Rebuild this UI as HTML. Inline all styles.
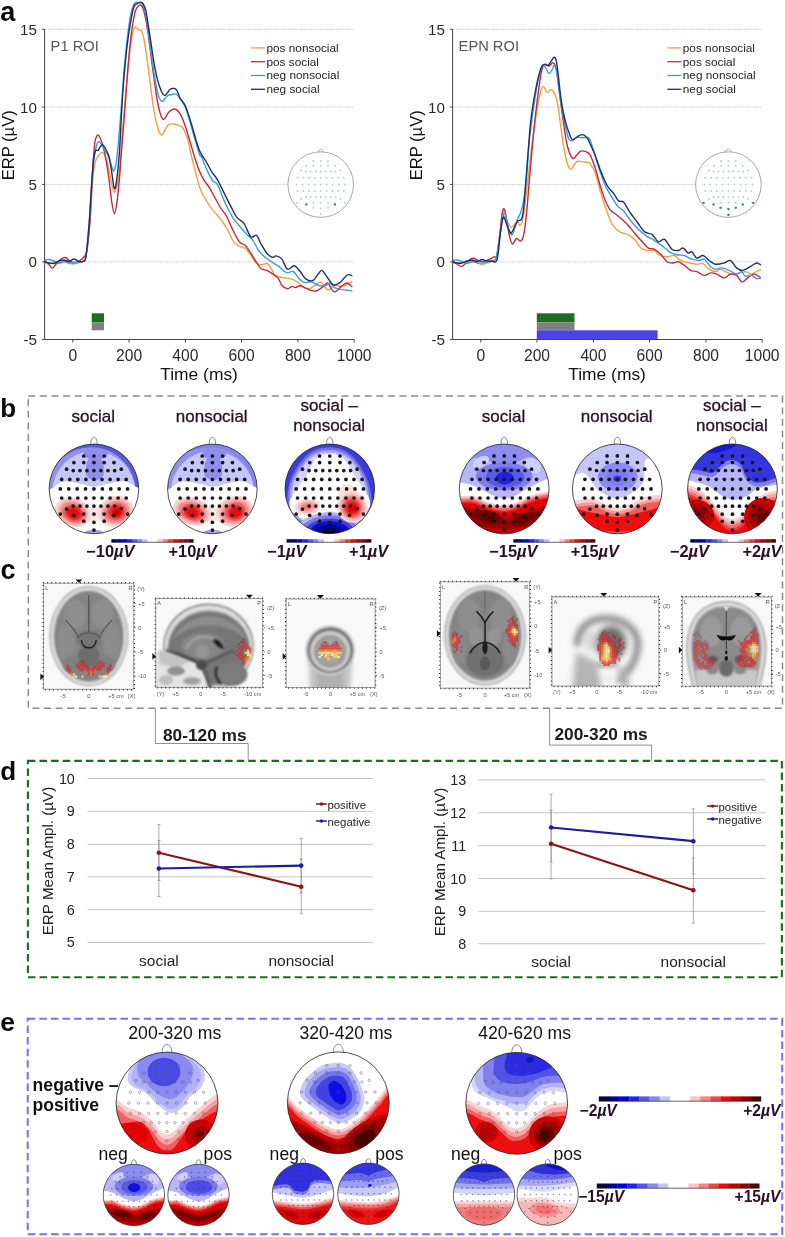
<!DOCTYPE html>
<html lang="en">
<head>
<meta charset="utf-8">
<title>Figure</title>
<style>
html,body{margin:0;padding:0;background:#fff;}
body{width:785px;height:1237px;overflow:hidden;}
svg{display:block;font-family:"Liberation Sans",sans-serif;}
</style>
</head>
<body>
<svg width="785" height="1237" viewBox="0 0 785 1237">
<rect width="785" height="1237" fill="#ffffff"/>
<g id="panel-a">
<text x="0.3" y="21" font-size="27" font-weight="bold" fill="#0a0a0a">a</text>
<line x1="44.6" y1="29.3" x2="354.20000000000005" y2="29.3" stroke="#b8b8c8" stroke-width="0.9" stroke-dasharray="1 0.8"/>
<line x1="44.6" y1="107" x2="354.20000000000005" y2="107" stroke="#b8b8c8" stroke-width="0.9" stroke-dasharray="1 0.8"/>
<line x1="44.6" y1="184.4" x2="354.20000000000005" y2="184.4" stroke="#b8b8c8" stroke-width="0.9" stroke-dasharray="1 0.8"/>
<line x1="44.6" y1="261.9" x2="354.20000000000005" y2="261.9" stroke="#b8b8c8" stroke-width="0.9" stroke-dasharray="1 0.8"/>
<rect x="91.7" y="313.3" width="12.3" height="8.9" fill="#1e6e22"/>
<rect x="91.7" y="322.2" width="12.3" height="8.1" fill="#808080"/>
<path d="M44.5,262.5 C45.25,262.75 47.42,264.08 49,264 C50.58,263.92 52.33,262.08 54,262 C55.67,261.92 57.33,263.5 59,263.5 C60.67,263.5 62.33,262 64,262 C65.67,262 67.33,263.17 69,263.5 C70.67,263.83 72.33,264.25 74,264 C75.67,263.75 77.5,262.5 79,262 C80.5,261.5 81.85,262.18 83,261 C84.15,259.82 84.75,261.35 85.9,254.9 C87.05,248.45 88.78,234.53 89.9,222.3 C91.02,210.07 91.75,191.35 92.6,181.5 C93.45,171.65 94.08,167.43 95,163.2 C95.92,158.97 96.9,157.87 98.1,156.1 C99.3,154.33 101.02,152.6 102.2,152.6 C103.38,152.6 104.18,153.65 105.2,156.1 C106.22,158.55 107.28,163.07 108.3,167.3 C109.32,171.53 110.28,177.37 111.3,181.5 C112.32,185.63 113.45,191.42 114.4,192.1 C115.35,192.78 116.13,189.28 117,185.6 C117.87,181.92 118.67,179.17 119.6,170 C120.53,160.83 121.53,143.93 122.6,130.6 C123.67,117.27 124.77,103.43 126,90 C127.23,76.57 128.83,59.67 130,50 C131.17,40.33 132.08,35.85 133,32 C133.92,28.15 134.58,27.23 135.5,26.9 C136.42,26.57 137.48,29.32 138.5,30 C139.52,30.68 140.6,29 141.6,31 C142.6,33 143.32,35.28 144.5,42 C145.68,48.72 147.15,59.97 148.7,71.3 C150.25,82.63 152.17,100.22 153.8,110 C155.43,119.78 157.13,125.83 158.5,130 C159.87,134.17 160.83,135.17 162,135 C163.17,134.83 164.32,130.78 165.5,129 C166.68,127.22 167.48,125.08 169.1,124.3 C170.72,123.52 173.38,124.02 175.2,124.3 C177.02,124.58 178.63,125.25 180,126 C181.37,126.75 182.15,126.7 183.4,128.8 C184.65,130.9 186.22,134.3 187.5,138.6 C188.78,142.9 189.73,148.88 191.1,154.6 C192.47,160.32 194.17,167.17 195.7,172.9 C197.23,178.63 198.77,184.78 200.3,189 C201.83,193.22 203.18,195.15 204.9,198.2 C206.62,201.25 208.68,204.63 210.6,207.3 C212.52,209.97 214.48,211.9 216.4,214.2 C218.32,216.5 220.2,218.42 222.1,221.1 C224,223.78 225.88,226.87 227.8,230.3 C229.72,233.73 231.68,239.03 233.6,241.7 C235.52,244.37 237.58,245.33 239.3,246.3 C241.02,247.27 242.18,246.35 243.9,247.5 C245.62,248.65 247.68,250.72 249.6,253.2 C251.52,255.68 253.48,260.48 255.4,262.4 C257.32,264.32 259.2,264.52 261.1,264.7 C263,264.88 265.27,263.13 266.8,263.5 C268.33,263.87 268.97,264.98 270.3,266.9 C271.63,268.82 273.08,273.27 274.8,275 C276.52,276.73 278.68,276.8 280.6,277.3 C282.52,277.8 284.2,277.62 286.3,278 C288.4,278.38 291.1,278.77 293.2,279.6 C295.3,280.43 297.18,281.75 298.9,283 C300.62,284.25 301.78,286.15 303.5,287.1 C305.22,288.05 307.28,289 309.2,288.7 C311.12,288.4 313.08,286.43 315,285.3 C316.92,284.17 318.98,281.52 320.7,281.9 C322.42,282.28 323.97,286.27 325.3,287.6 C326.63,288.93 327.17,290.28 328.7,289.9 C330.23,289.52 332.4,285.88 334.5,285.3 C336.6,284.72 339.02,286.6 341.3,286.4 C343.58,286.2 346.37,284.93 348.2,284.1 C350.03,283.27 351.62,281.85 352.3,281.4" fill="none" stroke="#f0a040" stroke-width="1.4" stroke-linejoin="round"/>
<path d="M44.5,261 C45.08,261.33 46.72,261.83 48,263 C49.28,264.17 50.7,268 52.2,268 C53.7,268 55.53,264.5 57,263 C58.47,261.5 59.58,259.92 61,259 C62.42,258.08 64,257.17 65.5,257.5 C67,257.83 68.58,260.17 70,261 C71.42,261.83 72.5,262.5 74,262.5 C75.5,262.5 77.37,261.92 79,261 C80.63,260.08 82.48,258.7 83.8,257 C85.12,255.3 85.88,256.58 86.9,250.8 C87.92,245.02 89.05,233.85 89.9,222.3 C90.75,210.75 91.32,193.38 92,181.5 C92.68,169.62 93.43,157.97 94,151 C94.57,144.03 94.78,142.35 95.4,139.7 C96.02,137.05 96.92,135.43 97.7,135.1 C98.48,134.77 99.18,135.73 100.1,137.7 C101.02,139.67 102.18,143 103.2,146.9 C104.22,150.8 105.18,155.33 106.2,161.1 C107.22,166.87 108.38,174.7 109.3,181.5 C110.22,188.3 110.85,196.53 111.7,201.9 C112.55,207.27 113.52,213.7 114.4,213.7 C115.28,213.7 116.15,207.93 117,201.9 C117.85,195.87 118.75,185.98 119.5,177.5 C120.25,169.02 120.68,161.25 121.5,151 C122.32,140.75 123.08,132.67 124.4,116 C125.72,99.33 127.72,67.95 129.4,51 C131.08,34.05 132.8,21.95 134.5,14.3 C136.2,6.65 138.08,5.78 139.6,5.1 C141.12,4.42 142.25,5.95 143.6,10.2 C144.95,14.45 146.17,20.75 147.7,30.6 C149.23,40.45 151.1,57.07 152.8,69.3 C154.5,81.53 156.2,95.68 157.9,104 C159.6,112.32 161.13,117.92 163,119.2 C164.87,120.48 167.13,113.4 169.1,111.7 C171.07,110 172.93,108.6 174.8,109 C176.67,109.4 178.53,111.2 180.3,114.1 C182.07,117 183.53,120.95 185.4,126.4 C187.27,131.85 189.82,141.2 191.5,146.8 C193.18,152.4 194.22,156.03 195.5,160 C196.78,163.97 197.82,167.3 199.2,170.6 C200.58,173.9 202.08,176.93 203.8,179.8 C205.52,182.67 207.6,184.73 209.5,187.8 C211.4,190.87 213.28,194.75 215.2,198.2 C217.12,201.65 219.08,205.45 221,208.5 C222.92,211.55 224.8,213.07 226.7,216.5 C228.6,219.93 230.3,224.9 232.4,229.1 C234.5,233.3 237.2,239.02 239.3,241.7 C241.4,244.38 243.08,243.28 245,245.2 C246.92,247.12 248.88,250.33 250.8,253.2 C252.72,256.07 254.78,259.8 256.5,262.4 C258.22,265 259.38,267.47 261.1,268.8 C262.82,270.13 264.9,269.57 266.8,270.4 C268.7,271.23 270.58,272.47 272.5,273.8 C274.42,275.13 276.77,276.48 278.3,278.4 C279.83,280.32 280.17,283.58 281.7,285.3 C283.23,287.02 285.78,288.52 287.5,288.7 C289.22,288.88 290.67,286.58 292,286.4 C293.33,286.22 294.15,287.72 295.5,287.6 C296.85,287.48 298.57,285.7 300.1,285.7 C301.63,285.7 302.98,286.83 304.7,287.6 C306.42,288.37 308.5,289.73 310.4,290.3 C312.3,290.87 314.18,291.45 316.1,291 C318.02,290.55 319.98,288.93 321.9,287.6 C323.82,286.27 325.88,282.55 327.6,283 C329.32,283.45 330.87,288.85 332.2,290.3 C333.53,291.75 334.08,292.35 335.6,291.7 C337.12,291.05 339.38,287.85 341.3,286.4 C343.22,284.95 345.27,282.88 347.1,283 C348.93,283.12 351.43,286.42 352.3,287.1" fill="none" stroke="#c8283c" stroke-width="1.4" stroke-linejoin="round"/>
<path d="M44.5,260 C45.25,259.92 47.42,259.33 49,259.5 C50.58,259.67 52.33,260.42 54,261 C55.67,261.58 57.33,262.92 59,263 C60.67,263.08 62.33,261.58 64,261.5 C65.67,261.42 67.33,262.25 69,262.5 C70.67,262.75 72.33,263 74,263 C75.67,263 77.5,262.83 79,262.5 C80.5,262.17 81.85,261.92 83,261 C84.15,260.08 84.85,263.45 85.9,257 C86.95,250.55 88.28,234.88 89.3,222.3 C90.32,209.72 91.12,192.72 92,181.5 C92.88,170.28 93.75,161.28 94.6,155 C95.45,148.72 96.28,146 97.1,143.8 C97.92,141.6 98.65,141.45 99.5,141.8 C100.35,142.15 101.25,144.37 102.2,145.9 C103.15,147.43 104.18,149.3 105.2,151 C106.22,152.7 107.28,153.73 108.3,156.1 C109.32,158.47 110.38,162.73 111.3,165.2 C112.22,167.67 112.95,171.58 113.8,170.9 C114.65,170.22 115.62,166.12 116.4,161.1 C117.18,156.08 117.72,149.28 118.5,140.8 C119.28,132.32 120.13,122.45 121.1,110.2 C122.07,97.95 123.27,79.33 124.3,67.3 C125.33,55.27 126.28,46.5 127.3,38 C128.32,29.5 129.37,21.8 130.4,16.3 C131.43,10.8 132.55,7.32 133.5,5 C134.45,2.68 135.1,2.8 136.1,2.4 C137.1,2 138.42,2.33 139.5,2.6 C140.58,2.87 141.68,2.43 142.6,4 C143.52,5.57 144.15,8.25 145,12 C145.85,15.75 146.4,17.63 147.7,26.5 C149,35.37 151.1,53.98 152.8,65.2 C154.5,76.42 156.37,87.75 157.9,93.8 C159.43,99.85 160.82,100.72 162,101.5 C163.18,102.28 163.98,99.52 165,98.5 C166.02,97.48 166.93,96.05 168.1,95.4 C169.27,94.75 170.65,94.8 172,94.6 C173.35,94.4 174.65,93.32 176.2,94.2 C177.75,95.08 179.6,97.27 181.3,99.9 C183,102.53 184.35,104.23 186.4,110 C188.45,115.77 191.38,127.02 193.6,134.5 C195.82,141.98 198.38,151.17 199.7,154.9 C201.02,158.63 200.25,154.28 201.5,156.9 C202.75,159.52 205.3,166.58 207.2,170.6 C209.1,174.62 211.18,178.7 212.9,181 C214.62,183.3 215.97,181.92 217.5,184.4 C219.03,186.88 220.38,191.88 222.1,195.9 C223.82,199.92 225.88,204.68 227.8,208.5 C229.72,212.32 231.68,215.93 233.6,218.8 C235.52,221.67 237.2,223.22 239.3,225.7 C241.4,228.18 243.9,231.22 246.2,233.7 C248.5,236.18 251,237.73 253.1,240.6 C255.2,243.47 256.7,248.03 258.8,250.9 C260.9,253.77 263.42,255.88 265.7,257.8 C267.98,259.72 270.22,260.88 272.5,262.4 C274.78,263.92 277.1,265.18 279.4,266.9 C281.7,268.62 284,271.93 286.3,272.7 C288.6,273.47 291.1,270.55 293.2,271.5 C295.3,272.45 296.98,276.57 298.9,278.4 C300.82,280.23 302.6,281.92 304.7,282.5 C306.8,283.08 309.22,281.43 311.5,281.9 C313.78,282.37 316.1,284.67 318.4,285.3 C320.7,285.93 323.38,286.08 325.3,285.7 C327.22,285.32 328.37,282.68 329.9,283 C331.43,283.32 332.6,286.53 334.5,287.6 C336.4,288.67 338.33,288.83 341.3,289.4 C344.27,289.97 350.47,290.73 352.3,291" fill="none" stroke="#3c9cdc" stroke-width="1.4" stroke-linejoin="round"/>
<path d="M44.5,261.5 C45.25,261.75 47.42,262.67 49,263 C50.58,263.33 52.33,263.83 54,263.5 C55.67,263.17 57.33,261.58 59,261 C60.67,260.42 62.33,259.92 64,260 C65.67,260.08 67.33,261.67 69,261.5 C70.67,261.33 72.33,259 74,259 C75.67,259 77.5,261.08 79,261.5 C80.5,261.92 81.85,262.25 83,261.5 C84.15,260.75 84.92,262.85 85.9,257 C86.88,251.15 87.98,237.97 88.9,226.4 C89.82,214.83 90.65,198.48 91.4,187.6 C92.15,176.72 92.73,167.2 93.4,161.1 C94.07,155 94.62,152.77 95.4,151 C96.18,149.23 97.32,151.18 98.1,150.5 C98.88,149.82 99.32,147.85 100.1,146.9 C100.88,145.95 101.88,144.47 102.8,144.8 C103.72,145.13 104.58,147.02 105.6,148.9 C106.62,150.78 107.95,152.7 108.9,156.1 C109.85,159.5 110.38,163.87 111.3,169.3 C112.22,174.73 113.45,187.33 114.4,188.7 C115.35,190.07 116.15,183.78 117,177.5 C117.85,171.22 118.63,163.58 119.5,151 C120.37,138.42 121.28,116.17 122.2,102 C123.12,87.83 123.98,76.88 125,66 C126.02,55.12 126.9,46.33 128.3,36.7 C129.7,27.07 131.87,13.7 133.4,8.2 C134.93,2.7 136.13,4.67 137.5,3.7 C138.87,2.73 140.23,1.32 141.6,2.4 C142.97,3.48 144.35,4.83 145.7,10.2 C147.05,15.57 148.18,25.08 149.7,34.6 C151.22,44.12 153.1,58.47 154.8,67.3 C156.5,76.13 158.27,82.92 159.9,87.6 C161.53,92.28 162.9,95.12 164.6,95.4 C166.3,95.68 168.5,90.45 170.1,89.3 C171.7,88.15 173.05,88.3 174.2,88.5 C175.35,88.7 175.98,88.77 177,90.5 C178.02,92.23 178.9,96.32 180.3,98.9 C181.7,101.48 183.53,101.77 185.4,106 C187.27,110.23 189.73,118.63 191.5,124.3 C193.27,129.97 194.53,135.33 196,140 C197.47,144.67 198.62,148.72 200.3,152.3 C201.98,155.88 204.18,158.25 206.1,161.5 C208.02,164.75 209.9,168.75 211.8,171.8 C213.7,174.85 215.4,176.17 217.5,179.8 C219.6,183.43 222.1,189.02 224.4,193.6 C226.7,198.18 229.2,203.3 231.3,207.3 C233.4,211.3 234.9,214.92 237,217.6 C239.1,220.28 241.6,220.22 243.9,223.4 C246.2,226.58 248.7,234.72 250.8,236.7 C252.9,238.68 254.78,234.08 256.5,235.3 C258.22,236.52 259.38,241.02 261.1,244 C262.82,246.98 264.9,250.98 266.8,253.2 C268.7,255.42 270.97,256.85 272.5,257.3 C274.03,257.75 274.47,255.63 276,255.9 C277.53,256.17 279.78,256.68 281.7,258.9 C283.62,261.12 285.4,268.05 287.5,269.2 C289.6,270.35 292.2,265.42 294.3,265.8 C296.4,266.18 298.18,269.32 300.1,271.5 C302.02,273.68 303.7,277.37 305.8,278.9 C307.9,280.43 310.6,281.55 312.7,280.7 C314.8,279.85 316.87,275.52 318.4,273.8 C319.93,272.08 320.57,270.02 321.9,270.4 C323.23,270.78 324.5,273.7 326.4,276.1 C328.3,278.5 331,283.73 333.3,284.8 C335.6,285.87 337.9,284.13 340.2,282.5 C342.5,280.87 345.08,276.13 347.1,275 C349.12,273.87 351.43,275.58 352.3,275.7" fill="none" stroke="#1a3068" stroke-width="1.4" stroke-linejoin="round"/>
<path d="M44.6,29.3 V339.5 H354.20000000000005" fill="none" stroke="#444" stroke-width="1"/>
<line x1="42.1" y1="29.3" x2="44.6" y2="29.3" stroke="#444" stroke-width="1"/>
<text x="37.0" y="34.8" font-size="15.2" text-anchor="end" fill="#2a2a2a">15</text>
<line x1="42.1" y1="107" x2="44.6" y2="107" stroke="#444" stroke-width="1"/>
<text x="37.0" y="112.5" font-size="15.2" text-anchor="end" fill="#2a2a2a">10</text>
<line x1="42.1" y1="184.4" x2="44.6" y2="184.4" stroke="#444" stroke-width="1"/>
<text x="37.0" y="189.9" font-size="15.2" text-anchor="end" fill="#2a2a2a">5</text>
<line x1="42.1" y1="261.9" x2="44.6" y2="261.9" stroke="#444" stroke-width="1"/>
<text x="37.0" y="267.4" font-size="15.2" text-anchor="end" fill="#2a2a2a">0</text>
<line x1="42.1" y1="339.5" x2="44.6" y2="339.5" stroke="#444" stroke-width="1"/>
<text x="37.0" y="345.0" font-size="15.2" text-anchor="end" fill="#2a2a2a">-5</text>
<line x1="72.8" y1="339.5" x2="72.8" y2="342.5" stroke="#444" stroke-width="1"/>
<text x="72.8" y="361.2" font-size="15.6" text-anchor="middle" fill="#2a2a2a">0</text>
<line x1="129.1" y1="339.5" x2="129.1" y2="342.5" stroke="#444" stroke-width="1"/>
<text x="129.1" y="361.2" font-size="15.6" text-anchor="middle" fill="#2a2a2a">200</text>
<line x1="185.3" y1="339.5" x2="185.3" y2="342.5" stroke="#444" stroke-width="1"/>
<text x="185.3" y="361.2" font-size="15.6" text-anchor="middle" fill="#2a2a2a">400</text>
<line x1="241.6" y1="339.5" x2="241.6" y2="342.5" stroke="#444" stroke-width="1"/>
<text x="241.6" y="361.2" font-size="15.6" text-anchor="middle" fill="#2a2a2a">600</text>
<line x1="297.9" y1="339.5" x2="297.9" y2="342.5" stroke="#444" stroke-width="1"/>
<text x="297.9" y="361.2" font-size="15.6" text-anchor="middle" fill="#2a2a2a">800</text>
<line x1="354.2" y1="339.5" x2="354.2" y2="342.5" stroke="#444" stroke-width="1"/>
<text x="354.2" y="361.2" font-size="15.6" text-anchor="middle" fill="#2a2a2a">1000</text>
<text x="199.1" y="379.8" font-size="17.4" text-anchor="middle" fill="#111">Time (ms)</text>
<text transform="translate(14.200000000000003,145.3) rotate(-90)" font-size="16.6" text-anchor="middle" fill="#111">ERP (µV)</text>
<text x="50.6" y="50.5" font-size="14.7" fill="#555">P1 ROI</text>
<line x1="251.0" y1="47.9" x2="265.0" y2="47.9" stroke="#f0a040" stroke-width="1.3"/>
<text x="266.5" y="51.8" font-size="11.8" fill="#222">pos nonsocial</text>
<line x1="251.0" y1="61.7" x2="265.0" y2="61.7" stroke="#c8283c" stroke-width="1.3"/>
<text x="266.5" y="65.6" font-size="11.8" fill="#222">pos social</text>
<line x1="251.0" y1="75.5" x2="265.0" y2="75.5" stroke="#3c9cdc" stroke-width="1.3"/>
<text x="266.5" y="79.4" font-size="11.8" fill="#222">neg nonsocial</text>
<line x1="251.0" y1="89.3" x2="265.0" y2="89.3" stroke="#1a3068" stroke-width="1.3"/>
<text x="266.5" y="93.2" font-size="11.8" fill="#222">neg social</text>
<path d="M317.7,152.3 Q320.7,145.8 323.7,152.3" fill="none" stroke="#999" stroke-width="0.7"/>
<circle cx="320.7" cy="184.6" r="32.8" fill="#fff" stroke="#909090" stroke-width="0.8"/>
<circle cx="313.4" cy="161.0" r="1.0" fill="#bccad4"/>
<circle cx="320.7" cy="161.0" r="1.0" fill="#bccad4"/>
<circle cx="328.0" cy="161.0" r="1.0" fill="#bccad4"/>
<circle cx="306.3" cy="165.7" r="1.0" fill="#bccad4"/>
<circle cx="313.4" cy="165.7" r="1.0" fill="#bccad4"/>
<circle cx="320.7" cy="165.7" r="1.0" fill="#bccad4"/>
<circle cx="328.0" cy="165.7" r="1.0" fill="#bccad4"/>
<circle cx="335.1" cy="165.7" r="1.0" fill="#bccad4"/>
<circle cx="301.1" cy="170.5" r="1.0" fill="#bccad4"/>
<circle cx="305.8" cy="171.4" r="1.0" fill="#bccad4"/>
<circle cx="310.7" cy="171.4" r="1.0" fill="#bccad4"/>
<circle cx="315.7" cy="171.4" r="1.0" fill="#bccad4"/>
<circle cx="320.7" cy="171.4" r="1.0" fill="#bccad4"/>
<circle cx="325.7" cy="171.4" r="1.0" fill="#bccad4"/>
<circle cx="330.7" cy="171.4" r="1.0" fill="#bccad4"/>
<circle cx="335.6" cy="171.4" r="1.0" fill="#bccad4"/>
<circle cx="340.3" cy="170.5" r="1.0" fill="#bccad4"/>
<circle cx="297.6" cy="177.8" r="1.0" fill="#bccad4"/>
<circle cx="303.3" cy="177.8" r="1.0" fill="#bccad4"/>
<circle cx="309.1" cy="177.8" r="1.0" fill="#bccad4"/>
<circle cx="314.9" cy="177.8" r="1.0" fill="#bccad4"/>
<circle cx="320.7" cy="177.8" r="1.0" fill="#bccad4"/>
<circle cx="326.5" cy="177.8" r="1.0" fill="#bccad4"/>
<circle cx="332.3" cy="177.8" r="1.0" fill="#bccad4"/>
<circle cx="338.1" cy="177.8" r="1.0" fill="#bccad4"/>
<circle cx="343.8" cy="177.8" r="1.0" fill="#bccad4"/>
<circle cx="296.6" cy="184.6" r="1.0" fill="#bccad4"/>
<circle cx="302.6" cy="184.6" r="1.0" fill="#bccad4"/>
<circle cx="308.6" cy="184.6" r="1.0" fill="#bccad4"/>
<circle cx="314.7" cy="184.6" r="1.0" fill="#bccad4"/>
<circle cx="320.7" cy="184.6" r="1.0" fill="#bccad4"/>
<circle cx="326.7" cy="184.6" r="1.0" fill="#bccad4"/>
<circle cx="332.8" cy="184.6" r="1.0" fill="#bccad4"/>
<circle cx="338.8" cy="184.6" r="1.0" fill="#bccad4"/>
<circle cx="344.8" cy="184.6" r="1.0" fill="#bccad4"/>
<circle cx="297.6" cy="191.1" r="1.0" fill="#bccad4"/>
<circle cx="303.3" cy="191.1" r="1.0" fill="#bccad4"/>
<circle cx="309.1" cy="191.1" r="1.0" fill="#bccad4"/>
<circle cx="314.9" cy="191.1" r="1.0" fill="#bccad4"/>
<circle cx="320.7" cy="191.1" r="1.0" fill="#bccad4"/>
<circle cx="326.5" cy="191.1" r="1.0" fill="#bccad4"/>
<circle cx="332.3" cy="191.1" r="1.0" fill="#bccad4"/>
<circle cx="338.1" cy="191.1" r="1.0" fill="#bccad4"/>
<circle cx="343.8" cy="191.1" r="1.0" fill="#bccad4"/>
<circle cx="305.8" cy="196.9" r="1.0" fill="#bccad4"/>
<circle cx="310.7" cy="196.9" r="1.0" fill="#bccad4"/>
<circle cx="315.7" cy="196.9" r="1.0" fill="#bccad4"/>
<circle cx="320.7" cy="196.9" r="1.0" fill="#bccad4"/>
<circle cx="325.7" cy="196.9" r="1.0" fill="#bccad4"/>
<circle cx="330.7" cy="196.9" r="1.0" fill="#bccad4"/>
<circle cx="335.6" cy="196.9" r="1.0" fill="#bccad4"/>
<circle cx="301.1" cy="199.1" r="1.0" fill="#bccad4"/>
<circle cx="340.3" cy="198.7" r="1.0" fill="#bccad4"/>
<circle cx="296.6" cy="202.7" r="1.0" fill="#bccad4"/>
<circle cx="306.2" cy="203.6" r="1.0" fill="#bccad4"/>
<circle cx="313.4" cy="202.7" r="1.0" fill="#bccad4"/>
<circle cx="320.7" cy="202.7" r="1.0" fill="#bccad4"/>
<circle cx="328.0" cy="202.7" r="1.0" fill="#bccad4"/>
<circle cx="334.8" cy="203.6" r="1.0" fill="#bccad4"/>
<circle cx="344.8" cy="202.7" r="1.0" fill="#bccad4"/>
<circle cx="313.4" cy="207.7" r="1.0" fill="#bccad4"/>
<circle cx="320.7" cy="208.5" r="1.0" fill="#bccad4"/>
<circle cx="328.0" cy="207.7" r="1.0" fill="#bccad4"/>
<circle cx="320.7" cy="214.2" r="1.0" fill="#bccad4"/>
<circle cx="306.3" cy="204.6" r="1.15" fill="#1878a8"/>
<circle cx="334.9" cy="204.6" r="1.15" fill="#1878a8"/>
<line x1="452.6" y1="29.3" x2="762.2" y2="29.3" stroke="#b8b8c8" stroke-width="0.9" stroke-dasharray="1 0.8"/>
<line x1="452.6" y1="107" x2="762.2" y2="107" stroke="#b8b8c8" stroke-width="0.9" stroke-dasharray="1 0.8"/>
<line x1="452.6" y1="184.4" x2="762.2" y2="184.4" stroke="#b8b8c8" stroke-width="0.9" stroke-dasharray="1 0.8"/>
<line x1="452.6" y1="261.9" x2="762.2" y2="261.9" stroke="#b8b8c8" stroke-width="0.9" stroke-dasharray="1 0.8"/>
<rect x="536.8" y="313.3" width="37.7" height="9.1" fill="#1e6e22"/>
<rect x="536.8" y="322.4" width="37.7" height="7.9" fill="#808080"/>
<rect x="536.8" y="330.3" width="120.8" height="8.9" fill="#4a44e8"/>
<path d="M452.5,263 C453.25,263.08 455.42,263.67 457,263.5 C458.58,263.33 460.33,262 462,262 C463.67,262 465.33,263.5 467,263.5 C468.67,263.5 470.33,262.08 472,262 C473.67,261.92 475.33,262.58 477,263 C478.67,263.42 480.33,264.5 482,264.5 C483.67,264.5 485.33,263.5 487,263 C488.67,262.5 490.5,262.17 492,261.5 C493.5,260.83 494.75,262.92 496,259 C497.25,255.08 498.5,244.17 499.5,238 C500.5,231.83 501.22,225.65 502,222 C502.78,218.35 503.15,215.9 504.2,216.1 C505.25,216.3 507.12,221.33 508.3,223.2 C509.48,225.07 510.28,227.03 511.3,227.3 C512.32,227.57 513.37,225.65 514.4,224.8 C515.43,223.95 516.48,222.13 517.5,222.2 C518.52,222.27 519.48,226.4 520.5,225.2 C521.52,224 522.58,220.77 523.6,215 C524.62,209.23 525.58,199.1 526.6,190.6 C527.62,182.1 528.68,172.8 529.7,164 C530.72,155.2 531.35,147.6 532.7,137.8 C534.05,128 536.43,113 537.8,105.2 C539.17,97.4 539.95,94.12 540.9,91 C541.85,87.88 542.48,86.23 543.5,86.5 C544.52,86.77 545.73,92.1 547,92.6 C548.27,93.1 549.73,89.1 551.1,89.5 C552.47,89.9 554.02,92.03 555.2,95 C556.38,97.97 557.02,100.17 558.2,107.3 C559.38,114.43 560.93,128.97 562.3,137.8 C563.67,146.63 565.03,155.03 566.4,160.3 C567.77,165.57 569.15,168.73 570.5,169.4 C571.85,170.07 573.32,165.65 574.5,164.3 C575.68,162.95 576.07,161.7 577.6,161.3 C579.13,160.9 581.97,161.7 583.7,161.9 C585.43,162.1 586.95,162.22 588,162.5 C589.05,162.78 588.83,161.97 590,163.6 C591.17,165.23 593.35,167.95 595,172.3 C596.65,176.65 598.05,183.48 599.9,189.7 C601.75,195.92 604.02,203.8 606.1,209.6 C608.18,215.4 610.12,220.78 612.4,224.5 C614.68,228.22 617.32,230.25 619.8,231.9 C622.28,233.55 624.82,233.15 627.3,234.4 C629.78,235.65 632.43,237.12 634.7,239.4 C636.97,241.68 638.83,246.25 640.9,248.1 C642.97,249.95 644.82,250.1 647.1,250.5 C649.38,250.9 652.52,249.67 654.6,250.5 C656.68,251.33 657.53,254.45 659.6,255.5 C661.67,256.55 664.52,256.8 667,256.8 C669.48,256.8 672.22,254.88 674.5,255.5 C676.78,256.12 678.22,259.25 680.7,260.5 C683.18,261.75 686.72,262.38 689.4,263 C692.08,263.62 694.53,264.08 696.8,264.2 C699.07,264.32 700.93,262.87 703,263.7 C705.07,264.53 707.13,267.87 709.2,269.2 C711.27,270.53 713.53,271.7 715.4,271.7 C717.27,271.7 718.73,269.2 720.4,269.2 C722.07,269.2 723.33,270.88 725.4,271.7 C727.47,272.52 730.53,273.9 732.8,274.1 C735.07,274.3 736.92,273.3 739,272.9 C741.08,272.5 743.22,271.5 745.3,271.7 C747.38,271.9 749.65,274.1 751.5,274.1 C753.35,274.1 754.83,272.43 756.4,271.7 C757.97,270.97 760.15,270.03 760.9,269.7" fill="none" stroke="#f0a040" stroke-width="1.4" stroke-linejoin="round"/>
<path d="M452.5,261 C453.25,261.5 455.52,263.1 457,264 C458.48,264.9 459.9,266.57 461.4,266.4 C462.9,266.23 464.57,264.15 466,263 C467.43,261.85 468.73,260.3 470,259.5 C471.27,258.7 472.27,258.03 473.6,258.2 C474.93,258.37 476.43,259.95 478,260.5 C479.57,261.05 481.33,261.58 483,261.5 C484.67,261.42 486.17,260.78 488,260 C489.83,259.22 492.5,257.5 494,256.8 C495.5,256.1 495.98,260.05 497,255.8 C498.02,251.55 499.23,238.43 500.1,231.3 C500.97,224.17 501.52,216.73 502.2,213 C502.88,209.27 503.53,208.22 504.2,208.9 C504.87,209.58 505.35,212.68 506.2,217.1 C507.05,221.52 508.27,230.92 509.3,235.4 C510.33,239.88 511.22,243.48 512.4,244 C513.58,244.52 515.05,238.98 516.4,238.5 C517.75,238.02 519.3,241.62 520.5,241.1 C521.7,240.58 522.58,240.08 523.6,235.4 C524.62,230.72 525.58,222.9 526.6,213 C527.62,203.1 528.33,191.25 529.7,176 C531.07,160.75 533.1,137.37 534.8,121.5 C536.5,105.63 538.55,89.97 539.9,80.8 C541.25,71.63 541.95,69.28 542.9,66.5 C543.85,63.72 544.58,64.17 545.6,64.1 C546.62,64.03 547.75,66.32 549,66.1 C550.25,65.88 551.9,62.4 553.1,62.8 C554.3,63.2 555.18,63.8 556.2,68.5 C557.22,73.2 558.02,82.17 559.2,91 C560.38,99.83 561.93,112.33 563.3,121.5 C564.67,130.67 565.87,139.88 567.4,146 C568.93,152.12 570.97,156.67 572.5,158.2 C574.03,159.73 575.25,156.38 576.6,155.2 C577.95,154.02 579.08,151.68 580.6,151.1 C582.12,150.52 584.13,151.07 585.7,151.7 C587.27,152.33 588.45,152.3 590,154.9 C591.55,157.5 593.35,162.33 595,167.3 C596.65,172.27 598.25,179.32 599.9,184.7 C601.55,190.08 603.23,195.45 604.9,199.6 C606.57,203.75 608.03,207.12 609.9,209.6 C611.77,212.08 614.03,212.85 616.1,214.5 C618.17,216.15 620.23,217.63 622.3,219.5 C624.37,221.37 626.43,223.42 628.5,225.7 C630.57,227.98 632.42,230.52 634.7,233.2 C636.98,235.88 639.92,239.32 642.2,241.8 C644.48,244.28 646.33,246.85 648.4,248.1 C650.47,249.35 652.53,248.27 654.6,249.3 C656.67,250.33 658.73,252.23 660.8,254.3 C662.87,256.37 664.93,260.25 667,261.7 C669.07,263.15 671.33,263 673.2,263 C675.07,263 676.33,261.3 678.2,261.7 C680.07,262.1 682.33,263.95 684.4,265.4 C686.47,266.85 688.53,269.35 690.6,270.4 C692.67,271.45 694.52,270.87 696.8,271.7 C699.08,272.53 702.02,275.2 704.3,275.4 C706.58,275.6 708.43,273.12 710.5,272.9 C712.57,272.68 714.43,273.27 716.7,274.1 C718.97,274.93 721.82,277.9 724.1,277.9 C726.38,277.9 728.32,274.52 730.4,274.1 C732.48,273.68 734.67,274.07 736.6,275.4 C738.53,276.73 740.15,281.68 742,282.1 C743.85,282.52 745.7,279.23 747.7,277.9 C749.7,276.57 751.8,274.1 754,274.1 C756.2,274.1 759.75,277.27 760.9,277.9" fill="none" stroke="#c8283c" stroke-width="1.4" stroke-linejoin="round"/>
<path d="M452.5,260.5 C453.25,260.42 455.42,259.83 457,260 C458.58,260.17 460.33,261 462,261.5 C463.67,262 465.33,263 467,263 C468.67,263 470.33,261.58 472,261.5 C473.67,261.42 475.33,262.25 477,262.5 C478.67,262.75 480.33,263.08 482,263 C483.67,262.92 485.33,262.42 487,262 C488.67,261.58 490.5,261.17 492,260.5 C493.5,259.83 494.7,262.08 496,258 C497.3,253.92 498.73,242.5 499.8,236 C500.87,229.5 501.57,222.77 502.4,219 C503.23,215.23 503.82,212.02 504.8,213.4 C505.78,214.78 507.15,223.7 508.3,227.3 C509.45,230.9 510.68,234.67 511.7,235 C512.72,235.33 513.43,231.95 514.4,229.3 C515.37,226.65 516.48,221.82 517.5,219.1 C518.52,216.38 519.48,216.05 520.5,213 C521.52,209.95 522.58,206.92 523.6,200.8 C524.62,194.68 525.58,186.8 526.6,176.3 C527.62,165.8 528.33,150.67 529.7,137.8 C531.07,124.93 533.1,109.97 534.8,99.1 C536.5,88.23 538.55,78.2 539.9,72.6 C541.25,67 541.88,66.18 542.9,65.5 C543.92,64.82 544.98,67.15 546,68.5 C547.02,69.85 547.98,73.42 549,73.6 C550.02,73.78 551.17,70.95 552.1,69.6 C553.03,68.25 553.75,64.65 554.6,65.5 C555.45,66.35 556.25,69.1 557.2,74.7 C558.15,80.3 559.12,91.3 560.3,99.1 C561.48,106.9 562.95,115.05 564.3,121.5 C565.65,127.95 567.2,134.57 568.4,137.8 C569.6,141.03 570.13,140.97 571.5,140.9 C572.87,140.83 574.73,137.92 576.6,137.4 C578.47,136.88 580.83,137.8 582.7,137.8 C584.57,137.8 586.58,137.03 587.8,137.4 C589.02,137.77 588.97,137.57 590,140 C591.03,142.43 592.55,147.45 594,152 C595.45,156.55 596.88,161.85 598.7,167.3 C600.52,172.75 602.83,179.93 604.9,184.7 C606.97,189.47 609.03,192.38 611.1,195.9 C613.17,199.42 615.23,203.32 617.3,205.8 C619.37,208.28 621.43,208.52 623.5,210.8 C625.57,213.08 627.42,216.6 629.7,219.5 C631.98,222.4 634.5,225.52 637.2,228.2 C639.9,230.88 643,233.53 645.9,235.6 C648.8,237.67 651.92,238.93 654.6,240.6 C657.28,242.27 659.52,243.73 662,245.6 C664.48,247.47 667.02,250.27 669.5,251.8 C671.98,253.33 674.42,254.18 676.9,254.8 C679.38,255.42 681.92,254.77 684.4,255.5 C686.88,256.23 689.32,258.37 691.8,259.2 C694.28,260.03 697.22,260.5 699.3,260.5 C701.38,260.5 702.43,258.17 704.3,259.2 C706.17,260.23 708.65,265.03 710.5,266.7 C712.35,268.37 713.53,269 715.4,269.2 C717.27,269.4 719.42,267.7 721.7,267.9 C723.98,268.1 726.62,269.37 729.1,270.4 C731.58,271.43 734.53,273.88 736.6,274.1 C738.67,274.32 740.05,271.37 741.5,271.7 C742.95,272.03 743.63,275.48 745.3,276.1 C746.97,276.72 749.65,274.98 751.5,275.4 C753.35,275.82 754.83,278.18 756.4,278.6 C757.97,279.02 760.15,278.02 760.9,277.9" fill="none" stroke="#3c9cdc" stroke-width="1.4" stroke-linejoin="round"/>
<path d="M452.5,261.5 C453.25,261.75 455.42,262.75 457,263 C458.58,263.25 460.33,263.33 462,263 C463.67,262.67 465.33,261.5 467,261 C468.67,260.5 470.33,259.92 472,260 C473.67,260.08 475.33,261.58 477,261.5 C478.67,261.42 480.33,259.58 482,259.5 C483.67,259.42 485.33,260.75 487,261 C488.67,261.25 490.33,261.18 492,261 C493.67,260.82 495.65,264.17 497,259.9 C498.35,255.63 499.23,241.87 500.1,235.4 C500.97,228.93 501.58,224.15 502.2,221.1 C502.82,218.05 503.13,216.75 503.8,217.1 C504.47,217.45 505.28,220.83 506.2,223.2 C507.12,225.57 508.45,229.67 509.3,231.3 C510.15,232.93 510.45,233.67 511.3,233 C512.15,232.33 513.37,229.28 514.4,227.3 C515.43,225.32 516.32,222.47 517.5,221.1 C518.68,219.73 520.48,221.13 521.5,219.1 C522.52,217.07 522.75,216.75 523.6,208.9 C524.45,201.05 525.42,186.57 526.6,172 C527.78,157.43 529.17,135.35 530.7,121.5 C532.23,107.65 534.1,97.73 535.8,88.9 C537.5,80.07 539.53,72.57 540.9,68.5 C542.27,64.43 542.82,65 544,64.5 C545.18,64 546.82,66.02 548,65.5 C549.18,64.98 550.08,62.77 551.1,61.4 C552.12,60.03 553.25,57.47 554.1,57.3 C554.95,57.13 555.52,57.5 556.2,60.4 C556.88,63.3 557.35,67.92 558.2,74.7 C559.05,81.48 560.1,93.3 561.3,101.1 C562.5,108.9 564.05,116.05 565.4,121.5 C566.75,126.95 568.22,130.73 569.4,133.8 C570.58,136.87 570.97,139.57 572.5,139.9 C574.03,140.23 576.73,136.65 578.6,135.8 C580.47,134.95 582.17,134.28 583.7,134.8 C585.23,135.32 586.75,137.42 587.8,138.9 C588.85,140.38 588.8,141.03 590,143.7 C591.2,146.37 593.13,150.13 595,154.9 C596.87,159.67 599.13,167.12 601.2,172.3 C603.27,177.48 605.33,182.48 607.4,186 C609.47,189.52 611.73,190.92 613.6,193.4 C615.47,195.88 616.95,199.45 618.6,200.9 C620.25,202.35 621.65,200.25 623.5,202.1 C625.35,203.95 627.42,208.68 629.7,212 C631.98,215.32 634.7,218.68 637.2,222 C639.7,225.32 642.22,229.83 644.7,231.9 C647.18,233.97 649.83,232.75 652.1,234.4 C654.37,236.05 656.23,240.97 658.3,241.8 C660.37,242.63 662.22,238.15 664.5,239.4 C666.78,240.65 669.72,247.45 672,249.3 C674.28,251.15 676.33,250.7 678.2,250.5 C680.07,250.3 681.55,247.68 683.2,248.1 C684.85,248.52 686.67,252.38 688.1,253 C689.53,253.62 690.35,250.97 691.8,251.8 C693.25,252.63 694.93,257.38 696.8,258 C698.67,258.62 700.93,255.08 703,255.5 C705.07,255.92 707.13,259.05 709.2,260.5 C711.27,261.95 712.92,263.78 715.4,264.2 C717.88,264.62 721.6,263.62 724.1,263 C726.6,262.38 728.32,259.68 730.4,260.5 C732.48,261.32 734.53,266.25 736.6,267.9 C738.67,269.55 740.53,270.6 742.8,270.4 C745.07,270.2 747.93,267.93 750.2,266.7 C752.47,265.47 754.62,263.28 756.4,263 C758.18,262.72 760.15,264.67 760.9,265" fill="none" stroke="#1a3068" stroke-width="1.4" stroke-linejoin="round"/>
<path d="M452.6,29.3 V339.5 H762.2" fill="none" stroke="#444" stroke-width="1"/>
<line x1="450.1" y1="29.3" x2="452.6" y2="29.3" stroke="#444" stroke-width="1"/>
<text x="445.0" y="34.8" font-size="15.2" text-anchor="end" fill="#2a2a2a">15</text>
<line x1="450.1" y1="107" x2="452.6" y2="107" stroke="#444" stroke-width="1"/>
<text x="445.0" y="112.5" font-size="15.2" text-anchor="end" fill="#2a2a2a">10</text>
<line x1="450.1" y1="184.4" x2="452.6" y2="184.4" stroke="#444" stroke-width="1"/>
<text x="445.0" y="189.9" font-size="15.2" text-anchor="end" fill="#2a2a2a">5</text>
<line x1="450.1" y1="261.9" x2="452.6" y2="261.9" stroke="#444" stroke-width="1"/>
<text x="445.0" y="267.4" font-size="15.2" text-anchor="end" fill="#2a2a2a">0</text>
<line x1="450.1" y1="339.5" x2="452.6" y2="339.5" stroke="#444" stroke-width="1"/>
<text x="445.0" y="345.0" font-size="15.2" text-anchor="end" fill="#2a2a2a">-5</text>
<line x1="480.8" y1="339.5" x2="480.8" y2="342.5" stroke="#444" stroke-width="1"/>
<text x="480.8" y="361.2" font-size="15.6" text-anchor="middle" fill="#2a2a2a">0</text>
<line x1="537.0" y1="339.5" x2="537.0" y2="342.5" stroke="#444" stroke-width="1"/>
<text x="537.0" y="361.2" font-size="15.6" text-anchor="middle" fill="#2a2a2a">200</text>
<line x1="593.4" y1="339.5" x2="593.4" y2="342.5" stroke="#444" stroke-width="1"/>
<text x="593.4" y="361.2" font-size="15.6" text-anchor="middle" fill="#2a2a2a">400</text>
<line x1="649.6" y1="339.5" x2="649.6" y2="342.5" stroke="#444" stroke-width="1"/>
<text x="649.6" y="361.2" font-size="15.6" text-anchor="middle" fill="#2a2a2a">600</text>
<line x1="706.0" y1="339.5" x2="706.0" y2="342.5" stroke="#444" stroke-width="1"/>
<text x="706.0" y="361.2" font-size="15.6" text-anchor="middle" fill="#2a2a2a">800</text>
<line x1="762.2" y1="339.5" x2="762.2" y2="342.5" stroke="#444" stroke-width="1"/>
<text x="762.2" y="361.2" font-size="15.6" text-anchor="middle" fill="#2a2a2a">1000</text>
<text x="607.1" y="379.8" font-size="17.4" text-anchor="middle" fill="#111">Time (ms)</text>
<text transform="translate(422.20000000000005,145.3) rotate(-90)" font-size="16.6" text-anchor="middle" fill="#111">ERP (µV)</text>
<text x="458.6" y="50.5" font-size="14.7" fill="#555">EPN ROI</text>
<line x1="667.3" y1="47.9" x2="681.3" y2="47.9" stroke="#f0a040" stroke-width="1.3"/>
<text x="682.8" y="51.8" font-size="11.8" fill="#222">pos nonsocial</text>
<line x1="667.3" y1="61.7" x2="681.3" y2="61.7" stroke="#c8283c" stroke-width="1.3"/>
<text x="682.8" y="65.6" font-size="11.8" fill="#222">pos social</text>
<line x1="667.3" y1="75.5" x2="681.3" y2="75.5" stroke="#3c9cdc" stroke-width="1.3"/>
<text x="682.8" y="79.4" font-size="11.8" fill="#222">neg nonsocial</text>
<line x1="667.3" y1="89.3" x2="681.3" y2="89.3" stroke="#1a3068" stroke-width="1.3"/>
<text x="682.8" y="93.2" font-size="11.8" fill="#222">neg social</text>
<path d="M725.4,152.3 Q728.4,145.8 731.4,152.3" fill="none" stroke="#999" stroke-width="0.7"/>
<circle cx="728.4" cy="184.6" r="32.8" fill="#fff" stroke="#909090" stroke-width="0.8"/>
<circle cx="721.1" cy="161.0" r="1.0" fill="#bccad4"/>
<circle cx="728.4" cy="161.0" r="1.0" fill="#bccad4"/>
<circle cx="735.7" cy="161.0" r="1.0" fill="#bccad4"/>
<circle cx="714.0" cy="165.7" r="1.0" fill="#bccad4"/>
<circle cx="721.1" cy="165.7" r="1.0" fill="#bccad4"/>
<circle cx="728.4" cy="165.7" r="1.0" fill="#bccad4"/>
<circle cx="735.7" cy="165.7" r="1.0" fill="#bccad4"/>
<circle cx="742.8" cy="165.7" r="1.0" fill="#bccad4"/>
<circle cx="708.8" cy="170.5" r="1.0" fill="#bccad4"/>
<circle cx="713.5" cy="171.4" r="1.0" fill="#bccad4"/>
<circle cx="718.4" cy="171.4" r="1.0" fill="#bccad4"/>
<circle cx="723.4" cy="171.4" r="1.0" fill="#bccad4"/>
<circle cx="728.4" cy="171.4" r="1.0" fill="#bccad4"/>
<circle cx="733.4" cy="171.4" r="1.0" fill="#bccad4"/>
<circle cx="738.4" cy="171.4" r="1.0" fill="#bccad4"/>
<circle cx="743.3" cy="171.4" r="1.0" fill="#bccad4"/>
<circle cx="748.0" cy="170.5" r="1.0" fill="#bccad4"/>
<circle cx="705.3" cy="177.8" r="1.0" fill="#bccad4"/>
<circle cx="711.0" cy="177.8" r="1.0" fill="#bccad4"/>
<circle cx="716.8" cy="177.8" r="1.0" fill="#bccad4"/>
<circle cx="722.6" cy="177.8" r="1.0" fill="#bccad4"/>
<circle cx="728.4" cy="177.8" r="1.0" fill="#bccad4"/>
<circle cx="734.2" cy="177.8" r="1.0" fill="#bccad4"/>
<circle cx="740.0" cy="177.8" r="1.0" fill="#bccad4"/>
<circle cx="745.8" cy="177.8" r="1.0" fill="#bccad4"/>
<circle cx="751.5" cy="177.8" r="1.0" fill="#bccad4"/>
<circle cx="704.3" cy="184.6" r="1.0" fill="#bccad4"/>
<circle cx="710.3" cy="184.6" r="1.0" fill="#bccad4"/>
<circle cx="716.3" cy="184.6" r="1.0" fill="#bccad4"/>
<circle cx="722.4" cy="184.6" r="1.0" fill="#bccad4"/>
<circle cx="728.4" cy="184.6" r="1.0" fill="#bccad4"/>
<circle cx="734.4" cy="184.6" r="1.0" fill="#bccad4"/>
<circle cx="740.5" cy="184.6" r="1.0" fill="#bccad4"/>
<circle cx="746.5" cy="184.6" r="1.0" fill="#bccad4"/>
<circle cx="752.5" cy="184.6" r="1.0" fill="#bccad4"/>
<circle cx="705.3" cy="191.1" r="1.0" fill="#bccad4"/>
<circle cx="711.0" cy="191.1" r="1.0" fill="#bccad4"/>
<circle cx="716.8" cy="191.1" r="1.0" fill="#bccad4"/>
<circle cx="722.6" cy="191.1" r="1.0" fill="#bccad4"/>
<circle cx="728.4" cy="191.1" r="1.0" fill="#bccad4"/>
<circle cx="734.2" cy="191.1" r="1.0" fill="#bccad4"/>
<circle cx="740.0" cy="191.1" r="1.0" fill="#bccad4"/>
<circle cx="745.8" cy="191.1" r="1.0" fill="#bccad4"/>
<circle cx="751.5" cy="191.1" r="1.0" fill="#bccad4"/>
<circle cx="713.5" cy="196.9" r="1.0" fill="#bccad4"/>
<circle cx="718.4" cy="196.9" r="1.0" fill="#bccad4"/>
<circle cx="723.4" cy="196.9" r="1.0" fill="#bccad4"/>
<circle cx="728.4" cy="196.9" r="1.0" fill="#bccad4"/>
<circle cx="733.4" cy="196.9" r="1.0" fill="#bccad4"/>
<circle cx="738.4" cy="196.9" r="1.0" fill="#bccad4"/>
<circle cx="743.3" cy="196.9" r="1.0" fill="#bccad4"/>
<circle cx="708.8" cy="199.1" r="1.0" fill="#bccad4"/>
<circle cx="748.0" cy="198.7" r="1.0" fill="#bccad4"/>
<circle cx="704.3" cy="202.7" r="1.0" fill="#bccad4"/>
<circle cx="713.9" cy="203.6" r="1.0" fill="#bccad4"/>
<circle cx="721.1" cy="202.7" r="1.0" fill="#bccad4"/>
<circle cx="728.4" cy="202.7" r="1.0" fill="#bccad4"/>
<circle cx="735.7" cy="202.7" r="1.0" fill="#bccad4"/>
<circle cx="742.5" cy="203.6" r="1.0" fill="#bccad4"/>
<circle cx="752.5" cy="202.7" r="1.0" fill="#bccad4"/>
<circle cx="721.1" cy="207.7" r="1.0" fill="#bccad4"/>
<circle cx="728.4" cy="208.5" r="1.0" fill="#bccad4"/>
<circle cx="735.7" cy="207.7" r="1.0" fill="#bccad4"/>
<circle cx="728.4" cy="214.2" r="1.0" fill="#bccad4"/>
<circle cx="703.5" cy="202.8" r="1.15" fill="#1878a8"/>
<circle cx="713.5" cy="204.6" r="1.15" fill="#1878a8"/>
<circle cx="720.4" cy="207.8" r="1.15" fill="#1878a8"/>
<circle cx="728.4" cy="209.1" r="1.15" fill="#1878a8"/>
<circle cx="735.8" cy="207.8" r="1.15" fill="#1878a8"/>
<circle cx="742.8" cy="204.6" r="1.15" fill="#1878a8"/>
<circle cx="753.2" cy="202.8" r="1.15" fill="#1878a8"/>
<circle cx="728.4" cy="215" r="1.15" fill="#1878a8"/>
</g>
<g id="panel-b">
<defs><filter id="blur0_3" x="-20%" y="-20%" width="140%" height="140%"><feGaussianBlur stdDeviation="0.3"/></filter><filter id="blur0_5" x="-20%" y="-20%" width="140%" height="140%"><feGaussianBlur stdDeviation="0.5"/></filter><filter id="blur0_8" x="-20%" y="-20%" width="140%" height="140%"><feGaussianBlur stdDeviation="0.8"/></filter><filter id="blur1_2" x="-20%" y="-20%" width="140%" height="140%"><feGaussianBlur stdDeviation="1.2"/></filter><filter id="blur2" x="-20%" y="-20%" width="140%" height="140%"><feGaussianBlur stdDeviation="2"/></filter><filter id="blur3" x="-20%" y="-20%" width="140%" height="140%"><feGaussianBlur stdDeviation="3"/></filter><filter id="blur5" x="-20%" y="-20%" width="140%" height="140%"><feGaussianBlur stdDeviation="5"/></filter></defs>
<text x="0.3" y="417" font-size="26" font-weight="bold" fill="#0a0a0a">b</text>
<text x="0.5" y="579" font-size="27" font-weight="bold" fill="#0a0a0a">c</text>
<rect x="28.3" y="396" width="754.2" height="312.3" fill="none" stroke="#8a8a8a" stroke-width="1.5" stroke-dasharray="7 4.6"/>
<text x="93.3" y="422" font-size="17.0" text-anchor="middle" font-weight="normal" font-style="normal" fill="#2a0f26" stroke="#2a0f26" stroke-width="0.3">social</text>
<text x="211.7" y="422" font-size="17.0" text-anchor="middle" font-weight="normal" font-style="normal" fill="#2a0f26" stroke="#2a0f26" stroke-width="0.3">nonsocial</text>
<text x="329.2" y="410.8" font-size="17.0" text-anchor="middle" font-weight="normal" font-style="normal" fill="#2a0f26" stroke="#2a0f26" stroke-width="0.3">social –</text>
<text x="329.2" y="431.2" font-size="17.0" text-anchor="middle" font-weight="normal" font-style="normal" fill="#2a0f26" stroke="#2a0f26" stroke-width="0.3">nonsocial</text>
<text x="503.6" y="422" font-size="17.0" text-anchor="middle" font-weight="normal" font-style="normal" fill="#2a0f26" stroke="#2a0f26" stroke-width="0.3">social</text>
<text x="616.7" y="422" font-size="17.0" text-anchor="middle" font-weight="normal" font-style="normal" fill="#2a0f26" stroke="#2a0f26" stroke-width="0.3">nonsocial</text>
<text x="731.9" y="410.8" font-size="17.0" text-anchor="middle" font-weight="normal" font-style="normal" fill="#2a0f26" stroke="#2a0f26" stroke-width="0.3">social –</text>
<text x="731.9" y="431.2" font-size="17.0" text-anchor="middle" font-weight="normal" font-style="normal" fill="#2a0f26" stroke="#2a0f26" stroke-width="0.3">nonsocial</text>
<path d="M90.65,444.7 C90.65,434.72 97.25,434.72 97.25,444.7" fill="#fff" stroke="#666" stroke-width="0.8"/>
<clipPath id="c1"><circle cx="93.95" cy="488.9" r="44.8"/></clipPath>
<circle cx="93.95" cy="488.9" r="44.8" fill="#fff"/>
<g clip-path="url(#c1)"><g filter="url(#blur0_5)"><g transform="translate(93.95,488.9) scale(44.8)">
<ellipse cx="0" cy="0" rx="1.1" ry="1.1" fill="#5a5ae0"/>
<ellipse cx="-0.06" cy="0.05" rx="0.98" ry="0.98" fill="#9090ee"/>
<ellipse cx="0" cy="0.08" rx="0.93" ry="0.93" fill="#c6c6f8"/>
<ellipse cx="0.04" cy="-0.78" rx="0.27" ry="0.13" fill="#8e8eec"/>
<ellipse cx="0.02" cy="-0.47" rx="0.2" ry="0.28" fill="#8e8eec"/>
<ellipse cx="0.02" cy="-0.35" rx="0.2" ry="0.14" fill="#8e8eec"/>
<path d="M-1.3,0.02 C-1.25,0.02 -1.1,0.05 -1,0.02 C-0.9,-0.01 -0.82,-0.14 -0.7,-0.16 C-0.58,-0.18 -0.39,-0.13 -0.27,-0.11 C-0.15,-0.09 -0.1,-0.05 0,-0.05 C0.1,-0.05 0.19,-0.09 0.3,-0.11 C0.41,-0.13 0.55,-0.18 0.67,-0.17 C0.79,-0.16 0.9,-0.05 1,-0.02 C1.1,0.01 1.25,-0.02 1.3,-0.02 L1.3,1.4 L-1.3,1.4 Z" fill="#ffffff"/>
<ellipse cx="0" cy="0.56" rx="0.42" ry="0.17" fill="#fde4e4"/>
<ellipse cx="-0.47" cy="0.52" rx="0.41" ry="0.32" fill="#fcd4d4" transform="rotate(22 -0.47 0.52)"/>
<ellipse cx="-0.47" cy="0.53" rx="0.35" ry="0.28" fill="#f9b4b4" transform="rotate(22 -0.47 0.53)"/>
<ellipse cx="-0.46" cy="0.53" rx="0.3" ry="0.23" fill="#f58a8a" transform="rotate(22 -0.46 0.53)"/>
<ellipse cx="-0.46" cy="0.54" rx="0.24" ry="0.19" fill="#f15a5a" transform="rotate(22 -0.46 0.54)"/>
<ellipse cx="-0.45" cy="0.54" rx="0.19" ry="0.15" fill="#ee2a2a" transform="rotate(22 -0.45 0.54)"/>
<ellipse cx="-0.45" cy="0.55" rx="0.13" ry="0.1" fill="#e80808" transform="rotate(22 -0.45 0.55)"/>
<ellipse cx="0.49" cy="0.5" rx="0.4" ry="0.34" fill="#fcd4d4" transform="rotate(-18 0.49 0.5)"/>
<ellipse cx="0.49" cy="0.5" rx="0.34" ry="0.29" fill="#f9b4b4" transform="rotate(-18 0.49 0.5)"/>
<ellipse cx="0.5" cy="0.51" rx="0.29" ry="0.24" fill="#f58a8a" transform="rotate(-18 0.5 0.51)"/>
<ellipse cx="0.5" cy="0.51" rx="0.23" ry="0.19" fill="#f15a5a" transform="rotate(-18 0.5 0.51)"/>
<ellipse cx="0.5" cy="0.51" rx="0.17" ry="0.15" fill="#ee2a2a" transform="rotate(-18 0.5 0.51)"/>
<ellipse cx="0.51" cy="0.52" rx="0.11" ry="0.1" fill="#e80808" transform="rotate(-18 0.51 0.52)"/>
<ellipse cx="0.51" cy="0.52" rx="0.06" ry="0.05" fill="#c80000" transform="rotate(-18 0.51 0.52)"/>
<ellipse cx="0" cy="1.02" rx="0.24" ry="0.11" fill="#a4a4f0"/>
</g></g></g>
<circle cx="93.95" cy="488.9" r="44.8" fill="none" stroke="#222" stroke-width="0.8"/>
<circle cx="83.74" cy="456.02" r="1.85" fill="#181818"/>
<circle cx="93.95" cy="456.02" r="1.85" fill="#181818"/>
<circle cx="104.16" cy="456.02" r="1.85" fill="#181818"/>
<circle cx="73.92" cy="462.58" r="1.85" fill="#181818"/>
<circle cx="83.74" cy="462.58" r="1.85" fill="#181818"/>
<circle cx="93.95" cy="462.58" r="1.85" fill="#181818"/>
<circle cx="104.16" cy="462.58" r="1.85" fill="#181818"/>
<circle cx="113.98" cy="462.58" r="1.85" fill="#181818"/>
<circle cx="66.62" cy="469.19" r="1.85" fill="#181818"/>
<circle cx="73.23" cy="470.53" r="1.85" fill="#181818"/>
<circle cx="79.95" cy="470.53" r="1.85" fill="#181818"/>
<circle cx="86.96" cy="470.53" r="1.85" fill="#181818"/>
<circle cx="93.95" cy="470.53" r="1.85" fill="#181818"/>
<circle cx="100.94" cy="470.53" r="1.85" fill="#181818"/>
<circle cx="107.95" cy="470.53" r="1.85" fill="#181818"/>
<circle cx="114.67" cy="470.53" r="1.85" fill="#181818"/>
<circle cx="121.28" cy="469.19" r="1.85" fill="#181818"/>
<circle cx="61.69" cy="479.38" r="1.85" fill="#181818"/>
<circle cx="69.76" cy="479.38" r="1.85" fill="#181818"/>
<circle cx="77.82" cy="479.38" r="1.85" fill="#181818"/>
<circle cx="85.89" cy="479.38" r="1.85" fill="#181818"/>
<circle cx="93.95" cy="479.38" r="1.85" fill="#181818"/>
<circle cx="102.01" cy="479.38" r="1.85" fill="#181818"/>
<circle cx="110.08" cy="479.38" r="1.85" fill="#181818"/>
<circle cx="118.14" cy="479.38" r="1.85" fill="#181818"/>
<circle cx="126.21" cy="479.38" r="1.85" fill="#181818"/>
<circle cx="60.35" cy="488.9" r="1.85" fill="#181818"/>
<circle cx="68.75" cy="488.9" r="1.85" fill="#181818"/>
<circle cx="77.15" cy="488.9" r="1.85" fill="#181818"/>
<circle cx="85.55" cy="488.9" r="1.85" fill="#181818"/>
<circle cx="93.95" cy="488.9" r="1.85" fill="#181818"/>
<circle cx="102.35" cy="488.9" r="1.85" fill="#181818"/>
<circle cx="110.75" cy="488.9" r="1.85" fill="#181818"/>
<circle cx="119.15" cy="488.9" r="1.85" fill="#181818"/>
<circle cx="127.55" cy="488.9" r="1.85" fill="#181818"/>
<circle cx="61.69" cy="497.99" r="1.85" fill="#181818"/>
<circle cx="69.76" cy="497.99" r="1.85" fill="#181818"/>
<circle cx="77.82" cy="497.99" r="1.85" fill="#181818"/>
<circle cx="85.89" cy="497.99" r="1.85" fill="#181818"/>
<circle cx="93.95" cy="497.99" r="1.85" fill="#181818"/>
<circle cx="102.01" cy="497.99" r="1.85" fill="#181818"/>
<circle cx="110.08" cy="497.99" r="1.85" fill="#181818"/>
<circle cx="118.14" cy="497.99" r="1.85" fill="#181818"/>
<circle cx="126.21" cy="497.99" r="1.85" fill="#181818"/>
<circle cx="73.23" cy="506.1" r="1.85" fill="#181818"/>
<circle cx="79.95" cy="506.1" r="1.85" fill="#181818"/>
<circle cx="86.96" cy="506.1" r="1.85" fill="#181818"/>
<circle cx="93.95" cy="506.1" r="1.85" fill="#181818"/>
<circle cx="100.94" cy="506.1" r="1.85" fill="#181818"/>
<circle cx="107.95" cy="506.1" r="1.85" fill="#181818"/>
<circle cx="114.67" cy="506.1" r="1.85" fill="#181818"/>
<circle cx="66.62" cy="509.06" r="1.85" fill="#181818"/>
<circle cx="121.28" cy="508.61" r="1.85" fill="#181818"/>
<circle cx="60.35" cy="514.1" r="1.85" fill="#181818"/>
<circle cx="73.79" cy="515.33" r="1.85" fill="#181818"/>
<circle cx="83.74" cy="514.1" r="1.85" fill="#181818"/>
<circle cx="93.95" cy="514.1" r="1.85" fill="#181818"/>
<circle cx="104.16" cy="514.1" r="1.85" fill="#181818"/>
<circle cx="113.66" cy="515.33" r="1.85" fill="#181818"/>
<circle cx="127.55" cy="514.1" r="1.85" fill="#181818"/>
<circle cx="83.74" cy="521.16" r="1.85" fill="#181818"/>
<circle cx="93.95" cy="522.28" r="1.85" fill="#181818"/>
<circle cx="104.16" cy="521.16" r="1.85" fill="#181818"/>
<circle cx="93.95" cy="530.12" r="1.85" fill="#181818"/>
<path d="M209.1,444.7 C209.1,434.72 215.7,434.72 215.7,444.7" fill="#fff" stroke="#666" stroke-width="0.8"/>
<clipPath id="c2"><circle cx="212.4" cy="488.9" r="44.8"/></clipPath>
<circle cx="212.4" cy="488.9" r="44.8" fill="#fff"/>
<g clip-path="url(#c2)"><g filter="url(#blur0_5)"><g transform="translate(212.4,488.9) scale(44.8)">
<ellipse cx="0" cy="0" rx="1.1" ry="1.1" fill="#8484ea"/>
<ellipse cx="-0.06" cy="0.05" rx="0.98" ry="0.98" fill="#9090ee"/>
<ellipse cx="0" cy="0.08" rx="0.93" ry="0.93" fill="#c6c6f8"/>
<ellipse cx="0.04" cy="-0.78" rx="0.27" ry="0.13" fill="#8e8eec"/>
<ellipse cx="0.02" cy="-0.47" rx="0.2" ry="0.28" fill="#8e8eec"/>
<ellipse cx="0.02" cy="-0.35" rx="0.2" ry="0.14" fill="#8e8eec"/>
<path d="M-1.3,0.02 C-1.25,0.02 -1.1,0.05 -1,0.02 C-0.9,-0.01 -0.82,-0.14 -0.7,-0.16 C-0.58,-0.18 -0.39,-0.13 -0.27,-0.11 C-0.15,-0.09 -0.1,-0.05 0,-0.05 C0.1,-0.05 0.19,-0.09 0.3,-0.11 C0.41,-0.13 0.55,-0.18 0.67,-0.17 C0.79,-0.16 0.9,-0.05 1,-0.02 C1.1,0.01 1.25,-0.02 1.3,-0.02 L1.3,1.4 L-1.3,1.4 Z" fill="#ffffff"/>
<ellipse cx="0" cy="0.56" rx="0.42" ry="0.17" fill="#fde4e4"/>
<ellipse cx="-0.45" cy="0.5" rx="0.44" ry="0.31" fill="#fcd4d4" transform="rotate(18 -0.45 0.5)"/>
<ellipse cx="-0.45" cy="0.51" rx="0.38" ry="0.27" fill="#f9b4b4" transform="rotate(18 -0.45 0.51)"/>
<ellipse cx="-0.45" cy="0.51" rx="0.32" ry="0.22" fill="#f58a8a" transform="rotate(18 -0.45 0.51)"/>
<ellipse cx="-0.45" cy="0.52" rx="0.26" ry="0.18" fill="#f15a5a" transform="rotate(18 -0.45 0.52)"/>
<ellipse cx="-0.45" cy="0.52" rx="0.19" ry="0.14" fill="#ee2a2a" transform="rotate(18 -0.45 0.52)"/>
<ellipse cx="-0.45" cy="0.53" rx="0.13" ry="0.09" fill="#e80808" transform="rotate(18 -0.45 0.53)"/>
<ellipse cx="0.5" cy="0.5" rx="0.42" ry="0.34" fill="#fcd4d4" transform="rotate(-18 0.5 0.5)"/>
<ellipse cx="0.5" cy="0.5" rx="0.36" ry="0.29" fill="#f9b4b4" transform="rotate(-18 0.5 0.5)"/>
<ellipse cx="0.51" cy="0.51" rx="0.3" ry="0.24" fill="#f58a8a" transform="rotate(-18 0.51 0.51)"/>
<ellipse cx="0.51" cy="0.51" rx="0.24" ry="0.2" fill="#f15a5a" transform="rotate(-18 0.51 0.51)"/>
<ellipse cx="0.52" cy="0.52" rx="0.18" ry="0.15" fill="#ee2a2a" transform="rotate(-18 0.52 0.52)"/>
<ellipse cx="0.52" cy="0.52" rx="0.13" ry="0.1" fill="#e80808" transform="rotate(-18 0.52 0.52)"/>
<ellipse cx="0" cy="1.02" rx="0.24" ry="0.11" fill="#a4a4f0"/>
</g></g></g>
<circle cx="212.4" cy="488.9" r="44.8" fill="none" stroke="#222" stroke-width="0.8"/>
<circle cx="202.19" cy="456.02" r="1.85" fill="#181818"/>
<circle cx="212.4" cy="456.02" r="1.85" fill="#181818"/>
<circle cx="222.61" cy="456.02" r="1.85" fill="#181818"/>
<circle cx="192.37" cy="462.58" r="1.85" fill="#181818"/>
<circle cx="202.19" cy="462.58" r="1.85" fill="#181818"/>
<circle cx="212.4" cy="462.58" r="1.85" fill="#181818"/>
<circle cx="222.61" cy="462.58" r="1.85" fill="#181818"/>
<circle cx="232.43" cy="462.58" r="1.85" fill="#181818"/>
<circle cx="185.07" cy="469.19" r="1.85" fill="#181818"/>
<circle cx="191.68" cy="470.53" r="1.85" fill="#181818"/>
<circle cx="198.4" cy="470.53" r="1.85" fill="#181818"/>
<circle cx="205.41" cy="470.53" r="1.85" fill="#181818"/>
<circle cx="212.4" cy="470.53" r="1.85" fill="#181818"/>
<circle cx="219.39" cy="470.53" r="1.85" fill="#181818"/>
<circle cx="226.4" cy="470.53" r="1.85" fill="#181818"/>
<circle cx="233.12" cy="470.53" r="1.85" fill="#181818"/>
<circle cx="239.73" cy="469.19" r="1.85" fill="#181818"/>
<circle cx="180.14" cy="479.38" r="1.85" fill="#181818"/>
<circle cx="188.21" cy="479.38" r="1.85" fill="#181818"/>
<circle cx="196.27" cy="479.38" r="1.85" fill="#181818"/>
<circle cx="204.34" cy="479.38" r="1.85" fill="#181818"/>
<circle cx="212.4" cy="479.38" r="1.85" fill="#181818"/>
<circle cx="220.46" cy="479.38" r="1.85" fill="#181818"/>
<circle cx="228.53" cy="479.38" r="1.85" fill="#181818"/>
<circle cx="236.59" cy="479.38" r="1.85" fill="#181818"/>
<circle cx="244.66" cy="479.38" r="1.85" fill="#181818"/>
<circle cx="178.8" cy="488.9" r="1.85" fill="#181818"/>
<circle cx="187.2" cy="488.9" r="1.85" fill="#181818"/>
<circle cx="195.6" cy="488.9" r="1.85" fill="#181818"/>
<circle cx="204" cy="488.9" r="1.85" fill="#181818"/>
<circle cx="212.4" cy="488.9" r="1.85" fill="#181818"/>
<circle cx="220.8" cy="488.9" r="1.85" fill="#181818"/>
<circle cx="229.2" cy="488.9" r="1.85" fill="#181818"/>
<circle cx="237.6" cy="488.9" r="1.85" fill="#181818"/>
<circle cx="246" cy="488.9" r="1.85" fill="#181818"/>
<circle cx="180.14" cy="497.99" r="1.85" fill="#181818"/>
<circle cx="188.21" cy="497.99" r="1.85" fill="#181818"/>
<circle cx="196.27" cy="497.99" r="1.85" fill="#181818"/>
<circle cx="204.34" cy="497.99" r="1.85" fill="#181818"/>
<circle cx="212.4" cy="497.99" r="1.85" fill="#181818"/>
<circle cx="220.46" cy="497.99" r="1.85" fill="#181818"/>
<circle cx="228.53" cy="497.99" r="1.85" fill="#181818"/>
<circle cx="236.59" cy="497.99" r="1.85" fill="#181818"/>
<circle cx="244.66" cy="497.99" r="1.85" fill="#181818"/>
<circle cx="191.68" cy="506.1" r="1.85" fill="#181818"/>
<circle cx="198.4" cy="506.1" r="1.85" fill="#181818"/>
<circle cx="205.41" cy="506.1" r="1.85" fill="#181818"/>
<circle cx="212.4" cy="506.1" r="1.85" fill="#181818"/>
<circle cx="219.39" cy="506.1" r="1.85" fill="#181818"/>
<circle cx="226.4" cy="506.1" r="1.85" fill="#181818"/>
<circle cx="233.12" cy="506.1" r="1.85" fill="#181818"/>
<circle cx="185.07" cy="509.06" r="1.85" fill="#181818"/>
<circle cx="239.73" cy="508.61" r="1.85" fill="#181818"/>
<circle cx="178.8" cy="514.1" r="1.85" fill="#181818"/>
<circle cx="192.24" cy="515.33" r="1.85" fill="#181818"/>
<circle cx="202.19" cy="514.1" r="1.85" fill="#181818"/>
<circle cx="212.4" cy="514.1" r="1.85" fill="#181818"/>
<circle cx="222.61" cy="514.1" r="1.85" fill="#181818"/>
<circle cx="232.11" cy="515.33" r="1.85" fill="#181818"/>
<circle cx="246" cy="514.1" r="1.85" fill="#181818"/>
<circle cx="202.19" cy="521.16" r="1.85" fill="#181818"/>
<circle cx="212.4" cy="522.28" r="1.85" fill="#181818"/>
<circle cx="222.61" cy="521.16" r="1.85" fill="#181818"/>
<circle cx="212.4" cy="530.12" r="1.85" fill="#181818"/>
<path d="M326.5,444.7 C326.5,434.72 333.1,434.72 333.1,444.7" fill="#fff" stroke="#666" stroke-width="0.8"/>
<clipPath id="c3"><circle cx="329.8" cy="488.9" r="44.8"/></clipPath>
<circle cx="329.8" cy="488.9" r="44.8" fill="#fff"/>
<g clip-path="url(#c3)"><g filter="url(#blur0_5)"><g transform="translate(329.8,488.9) scale(44.8)">
<ellipse cx="0" cy="0" rx="1.1" ry="1.1" fill="#3a3adc"/>
<path d="M0,-0.93 C0.15,-0.93 0.32,-0.89 0.45,-0.78 C0.58,-0.68 0.72,-0.46 0.8,-0.3 C0.88,-0.14 0.92,0.06 0.93,0.2 C0.94,0.34 0.94,0.45 0.88,0.55 C0.82,0.65 0.7,0.77 0.55,0.78 C0.4,0.79 0.18,0.62 0,0.62 C-0.18,0.62 -0.4,0.79 -0.55,0.78 C-0.7,0.77 -0.81,0.65 -0.88,0.55 C-0.95,0.45 -0.96,0.34 -0.95,0.2 C-0.94,0.06 -0.92,-0.13 -0.84,-0.3 C-0.76,-0.47 -0.59,-0.7 -0.45,-0.8 C-0.31,-0.91 -0.15,-0.93 0,-0.93Z" fill="#6e6ee8"/>
<path d="M0,-0.87 C0.14,-0.87 0.3,-0.83 0.43,-0.73 C0.55,-0.63 0.68,-0.43 0.76,-0.27 C0.84,-0.12 0.87,0.07 0.88,0.2 C0.9,0.34 0.9,0.44 0.84,0.54 C0.78,0.63 0.66,0.74 0.52,0.75 C0.38,0.76 0.17,0.6 0,0.6 C-0.17,0.6 -0.38,0.76 -0.52,0.75 C-0.66,0.74 -0.77,0.63 -0.84,0.54 C-0.9,0.44 -0.91,0.34 -0.9,0.2 C-0.9,0.07 -0.88,-0.11 -0.8,-0.27 C-0.72,-0.43 -0.56,-0.65 -0.43,-0.75 C-0.29,-0.85 -0.14,-0.87 0,-0.87Z" fill="#a2a2f2"/>
<path d="M0,-0.81 C0.14,-0.81 0.29,-0.77 0.41,-0.68 C0.53,-0.58 0.65,-0.39 0.72,-0.25 C0.79,-0.1 0.83,0.08 0.84,0.21 C0.85,0.33 0.85,0.43 0.79,0.52 C0.73,0.61 0.63,0.72 0.5,0.73 C0.36,0.74 0.17,0.58 0,0.58 C-0.17,0.58 -0.36,0.74 -0.5,0.73 C-0.63,0.72 -0.73,0.61 -0.79,0.52 C-0.85,0.43 -0.86,0.33 -0.85,0.21 C-0.85,0.08 -0.83,-0.1 -0.76,-0.25 C-0.68,-0.4 -0.53,-0.6 -0.41,-0.7 C-0.28,-0.79 -0.14,-0.82 0,-0.81Z" fill="#d0d0fa"/>
<path d="M0,-0.78 C0.1,-0.78 0.21,-0.76 0.3,-0.68 C0.39,-0.6 0.46,-0.43 0.55,-0.3 C0.64,-0.17 0.76,-0 0.82,0.1 C0.88,0.2 0.9,0.25 0.9,0.32 C0.9,0.39 0.88,0.46 0.8,0.52 C0.73,0.58 0.58,0.68 0.45,0.68 C0.32,0.68 0.15,0.5 0,0.5 C-0.15,0.5 -0.32,0.67 -0.45,0.68 C-0.58,0.69 -0.73,0.61 -0.8,0.55 C-0.88,0.49 -0.9,0.4 -0.9,0.32 C-0.9,0.24 -0.86,0.2 -0.8,0.1 C-0.74,-0 -0.6,-0.17 -0.52,-0.3 C-0.44,-0.43 -0.39,-0.6 -0.3,-0.68 C-0.21,-0.76 -0.1,-0.78 0,-0.78Z" fill="#ffffff"/>
<ellipse cx="0" cy="1.02" rx="0.78" ry="0.5" fill="#b4b4f6"/>
<ellipse cx="0" cy="1.02" rx="0.68" ry="0.43" fill="#7c7cec"/>
<ellipse cx="0" cy="1.03" rx="0.58" ry="0.37" fill="#4040e0"/>
<ellipse cx="0" cy="1.03" rx="0.48" ry="0.31" fill="#1010d0"/>
<ellipse cx="0" cy="1.03" rx="0.37" ry="0.24" fill="#0000a0"/>
<ellipse cx="0" cy="1.04" rx="0.27" ry="0.17" fill="#000060"/>
<ellipse cx="0" cy="1.04" rx="0.17" ry="0.11" fill="#000018"/>
<ellipse cx="-0.5" cy="0.4" rx="0.29" ry="0.18" fill="#fcd8d8" transform="rotate(-5 -0.5 0.4)"/>
<ellipse cx="-0.5" cy="0.4" rx="0.22" ry="0.14" fill="#f9b8b8" transform="rotate(-5 -0.5 0.4)"/>
<ellipse cx="-0.5" cy="0.4" rx="0.15" ry="0.1" fill="#f59494" transform="rotate(-5 -0.5 0.4)"/>
<ellipse cx="-0.5" cy="0.4" rx="0.09" ry="0.05" fill="#f27878" transform="rotate(-5 -0.5 0.4)"/>
<ellipse cx="0.4" cy="0.1" rx="0.22" ry="0.2" fill="#fde0e0" transform="rotate(20 0.4 0.1)"/>
<ellipse cx="0.5" cy="0.4" rx="0.34" ry="0.36" fill="#fcd8d8" transform="rotate(-25 0.5 0.4)"/>
<ellipse cx="0.5" cy="0.41" rx="0.29" ry="0.31" fill="#f9b4b4" transform="rotate(-25 0.5 0.41)"/>
<ellipse cx="0.5" cy="0.41" rx="0.25" ry="0.26" fill="#f58a8a" transform="rotate(-25 0.5 0.41)"/>
<ellipse cx="0.5" cy="0.42" rx="0.2" ry="0.22" fill="#f15a5a" transform="rotate(-25 0.5 0.42)"/>
<ellipse cx="0.5" cy="0.42" rx="0.16" ry="0.17" fill="#ee2a2a" transform="rotate(-25 0.5 0.42)"/>
<ellipse cx="0.5" cy="0.43" rx="0.11" ry="0.12" fill="#ea0808" transform="rotate(-25 0.5 0.43)"/>
<ellipse cx="0.5" cy="0.43" rx="0.07" ry="0.07" fill="#e00000" transform="rotate(-25 0.5 0.43)"/>
</g></g></g>
<circle cx="329.8" cy="488.9" r="44.8" fill="none" stroke="#222" stroke-width="0.8"/>
<circle cx="319.59" cy="456.02" r="1.85" fill="#181818"/>
<circle cx="329.8" cy="456.02" r="1.85" fill="#181818"/>
<circle cx="340.01" cy="456.02" r="1.85" fill="#181818"/>
<circle cx="309.77" cy="462.58" r="1.85" fill="#181818"/>
<circle cx="319.59" cy="462.58" r="1.85" fill="#181818"/>
<circle cx="329.8" cy="462.58" r="1.85" fill="#181818"/>
<circle cx="340.01" cy="462.58" r="1.85" fill="#181818"/>
<circle cx="349.83" cy="462.58" r="1.85" fill="#181818"/>
<circle cx="302.47" cy="469.19" r="1.85" fill="#181818"/>
<circle cx="309.08" cy="470.53" r="1.85" fill="#181818"/>
<circle cx="315.8" cy="470.53" r="1.85" fill="#181818"/>
<circle cx="322.81" cy="470.53" r="1.85" fill="#181818"/>
<circle cx="329.8" cy="470.53" r="1.85" fill="#181818"/>
<circle cx="336.79" cy="470.53" r="1.85" fill="#181818"/>
<circle cx="343.8" cy="470.53" r="1.85" fill="#181818"/>
<circle cx="350.52" cy="470.53" r="1.85" fill="#181818"/>
<circle cx="357.13" cy="469.19" r="1.85" fill="#181818"/>
<circle cx="297.54" cy="479.38" r="1.85" fill="#181818"/>
<circle cx="305.61" cy="479.38" r="1.85" fill="#181818"/>
<circle cx="313.67" cy="479.38" r="1.85" fill="#181818"/>
<circle cx="321.74" cy="479.38" r="1.85" fill="#181818"/>
<circle cx="329.8" cy="479.38" r="1.85" fill="#181818"/>
<circle cx="337.86" cy="479.38" r="1.85" fill="#181818"/>
<circle cx="345.93" cy="479.38" r="1.85" fill="#181818"/>
<circle cx="353.99" cy="479.38" r="1.85" fill="#181818"/>
<circle cx="362.06" cy="479.38" r="1.85" fill="#181818"/>
<circle cx="296.2" cy="488.9" r="1.85" fill="#181818"/>
<circle cx="304.6" cy="488.9" r="1.85" fill="#181818"/>
<circle cx="313" cy="488.9" r="1.85" fill="#181818"/>
<circle cx="321.4" cy="488.9" r="1.85" fill="#181818"/>
<circle cx="329.8" cy="488.9" r="1.85" fill="#181818"/>
<circle cx="338.2" cy="488.9" r="1.85" fill="#181818"/>
<circle cx="346.6" cy="488.9" r="1.85" fill="#181818"/>
<circle cx="355" cy="488.9" r="1.85" fill="#181818"/>
<circle cx="363.4" cy="488.9" r="1.85" fill="#181818"/>
<circle cx="297.54" cy="497.99" r="1.85" fill="#181818"/>
<circle cx="305.61" cy="497.99" r="1.85" fill="#181818"/>
<circle cx="313.67" cy="497.99" r="1.85" fill="#181818"/>
<circle cx="321.74" cy="497.99" r="1.85" fill="#181818"/>
<circle cx="329.8" cy="497.99" r="1.85" fill="#181818"/>
<circle cx="337.86" cy="497.99" r="1.85" fill="#181818"/>
<circle cx="345.93" cy="497.99" r="1.85" fill="#181818"/>
<circle cx="353.99" cy="497.99" r="1.85" fill="#181818"/>
<circle cx="362.06" cy="497.99" r="1.85" fill="#181818"/>
<circle cx="309.08" cy="506.1" r="1.85" fill="#181818"/>
<circle cx="315.8" cy="506.1" r="1.85" fill="#181818"/>
<circle cx="322.81" cy="506.1" r="1.85" fill="#181818"/>
<circle cx="329.8" cy="506.1" r="1.85" fill="#181818"/>
<circle cx="336.79" cy="506.1" r="1.85" fill="#181818"/>
<circle cx="343.8" cy="506.1" r="1.85" fill="#181818"/>
<circle cx="350.52" cy="506.1" r="1.85" fill="#181818"/>
<circle cx="302.47" cy="509.06" r="1.85" fill="#181818"/>
<circle cx="357.13" cy="508.61" r="1.85" fill="#181818"/>
<circle cx="296.2" cy="514.1" r="1.85" fill="#181818"/>
<circle cx="309.64" cy="515.33" r="1.85" fill="#181818"/>
<circle cx="319.59" cy="514.1" r="1.85" fill="#181818"/>
<circle cx="329.8" cy="514.1" r="1.85" fill="#181818"/>
<circle cx="340.01" cy="514.1" r="1.85" fill="#181818"/>
<circle cx="349.51" cy="515.33" r="1.85" fill="#181818"/>
<circle cx="363.4" cy="514.1" r="1.85" fill="#181818"/>
<circle cx="319.59" cy="521.16" r="1.85" fill="#181818"/>
<circle cx="329.8" cy="522.28" r="1.85" fill="#181818"/>
<circle cx="340.01" cy="521.16" r="1.85" fill="#181818"/>
<circle cx="329.8" cy="530.12" r="1.85" fill="#181818"/>
<path d="M500.9,444.6 C500.9,434.62 507.5,434.62 507.5,444.6" fill="#fff" stroke="#666" stroke-width="0.8"/>
<clipPath id="c4"><circle cx="504.2" cy="488.9" r="44.9"/></clipPath>
<circle cx="504.2" cy="488.9" r="44.9" fill="#fff"/>
<g clip-path="url(#c4)"><g filter="url(#blur0_5)"><g transform="translate(504.2,488.9) scale(44.9)">
<ellipse cx="0" cy="0" rx="1.1" ry="1.1" fill="#b6b6f8"/>
<path d="M-1.3,-0.55 C-1.25,-0.55 -1.12,-0.53 -1,-0.55 C-0.88,-0.58 -0.72,-0.69 -0.6,-0.7 C-0.48,-0.71 -0.4,-0.64 -0.3,-0.6 C-0.2,-0.56 -0.1,-0.45 0,-0.45 C0.1,-0.45 0.2,-0.56 0.3,-0.6 C0.4,-0.64 0.48,-0.72 0.6,-0.7 C0.72,-0.68 0.88,-0.53 1,-0.5 C1.12,-0.47 1.25,-0.5 1.3,-0.5 L1.3,-1.4 L-1.3,-1.4 Z" fill="#8c8cf2"/>
<ellipse cx="-0.52" cy="-0.6" rx="0.2" ry="0.11" fill="#cfcffb" transform="rotate(-30 -0.52 -0.6)"/>
<ellipse cx="0.64" cy="-0.52" rx="0.2" ry="0.15" fill="#cfcffb" transform="rotate(45 0.64 -0.52)"/>
<ellipse cx="0" cy="-0.28" rx="0.63" ry="0.31" fill="#7e7eee"/>
<ellipse cx="0.02" cy="-0.26" rx="0.43" ry="0.23" fill="#5a5ae8"/>
<ellipse cx="0.01" cy="-0.24" rx="0.2" ry="0.14" fill="#2020e0"/>
<path d="M-1.3,-0.15 C-1.25,-0.15 -1.09,-0.16 -1,-0.15 C-0.91,-0.14 -0.84,-0.12 -0.76,-0.1 C-0.68,-0.08 -0.61,-0.04 -0.53,0 C-0.45,0.04 -0.34,0.11 -0.25,0.14 C-0.16,0.18 -0.09,0.21 0,0.21 C0.09,0.21 0.18,0.18 0.26,0.14 C0.34,0.11 0.41,0.04 0.49,0 C0.57,-0.04 0.66,-0.08 0.74,-0.12 C0.82,-0.16 0.91,-0.21 1,-0.23 C1.09,-0.25 1.25,-0.23 1.3,-0.23 L1.3,1.4 L-1.3,1.4 Z" fill="#ffffff"/>
<path d="M-1.3,0.16 C-1.25,0.16 -1.1,0.16 -1,0.16 C-0.9,0.16 -0.78,0.14 -0.68,0.16 C-0.58,0.18 -0.5,0.25 -0.39,0.28 C-0.28,0.31 -0.12,0.36 0,0.36 C0.12,0.36 0.22,0.32 0.32,0.28 C0.42,0.24 0.49,0.18 0.6,0.14 C0.71,0.1 0.88,0.07 1,0.05 C1.12,0.04 1.25,0.05 1.3,0.05 L1.3,1.4 L-1.3,1.4 Z" fill="#fdd0d0"/>
<path d="M-1.3,0.2 C-1.25,0.2 -1.1,0.2 -1,0.2 C-0.9,0.2 -0.78,0.18 -0.68,0.2 C-0.58,0.22 -0.5,0.29 -0.39,0.32 C-0.28,0.36 -0.12,0.4 0,0.4 C0.12,0.4 0.22,0.36 0.32,0.32 C0.42,0.29 0.49,0.22 0.6,0.18 C0.71,0.14 0.88,0.11 1,0.09 C1.12,0.08 1.25,0.09 1.3,0.09 L1.3,1.4 L-1.3,1.4 Z" fill="#f99c9c"/>
<path d="M-1.3,0.24 C-1.25,0.24 -1.1,0.24 -1,0.24 C-0.9,0.24 -0.78,0.22 -0.68,0.24 C-0.58,0.26 -0.5,0.33 -0.39,0.36 C-0.28,0.4 -0.12,0.44 0,0.44 C0.12,0.44 0.22,0.4 0.32,0.36 C0.42,0.33 0.49,0.26 0.6,0.22 C0.71,0.19 0.88,0.15 1,0.13 C1.12,0.12 1.25,0.13 1.3,0.13 L1.3,1.4 L-1.3,1.4 Z" fill="#f46060"/>
<path d="M-1.3,0.29 C-1.25,0.29 -1.1,0.29 -1,0.29 C-0.9,0.29 -0.78,0.27 -0.68,0.29 C-0.58,0.31 -0.5,0.37 -0.39,0.41 C-0.28,0.44 -0.12,0.49 0,0.49 C0.12,0.49 0.22,0.44 0.32,0.41 C0.42,0.37 0.49,0.3 0.6,0.27 C0.71,0.23 0.88,0.19 1,0.18 C1.12,0.16 1.25,0.18 1.3,0.18 L1.3,1.4 L-1.3,1.4 Z" fill="#ec2424"/>
<path d="M-1.3,0.33 C-1.25,0.33 -1.1,0.33 -1,0.33 C-0.9,0.33 -0.78,0.31 -0.68,0.33 C-0.58,0.35 -0.5,0.41 -0.39,0.45 C-0.28,0.48 -0.12,0.53 0,0.53 C0.12,0.53 0.22,0.48 0.32,0.45 C0.42,0.41 0.49,0.35 0.6,0.31 C0.71,0.27 0.88,0.23 1,0.22 C1.12,0.2 1.25,0.22 1.3,0.22 L1.3,1.4 L-1.3,1.4 Z" fill="#e00000"/>
<path d="M-1.3,0.4 C-1.25,0.4 -1.13,0.39 -1,0.4 C-0.87,0.41 -0.67,0.44 -0.5,0.48 C-0.33,0.52 -0.17,0.62 0,0.62 C0.17,0.62 0.33,0.54 0.5,0.5 C0.67,0.46 0.87,0.39 1,0.37 C1.13,0.35 1.25,0.37 1.3,0.37 L1.3,1.4 L-1.3,1.4 Z" fill="#b40000"/>
<path d="M-1.3,0.45 C-1.25,0.45 -1.13,0.44 -1,0.45 C-0.87,0.46 -0.67,0.49 -0.5,0.53 C-0.33,0.57 -0.17,0.67 0,0.67 C0.17,0.67 0.33,0.59 0.5,0.55 C0.67,0.51 0.87,0.44 1,0.42 C1.13,0.4 1.25,0.42 1.3,0.42 L1.3,1.4 L-1.3,1.4 Z" fill="#980000"/>
<ellipse cx="-0.36" cy="0.63" rx="0.34" ry="0.14" fill="#780000" transform="rotate(14 -0.36 0.63)"/>
<ellipse cx="-0.36" cy="0.63" rx="0.2" ry="0.08" fill="#5c0000" transform="rotate(14 -0.36 0.63)"/>
<ellipse cx="0.42" cy="0.68" rx="0.3" ry="0.12" fill="#780000" transform="rotate(-22 0.42 0.68)"/>
<ellipse cx="0.42" cy="0.68" rx="0.15" ry="0.06" fill="#5c0000" transform="rotate(-22 0.42 0.68)"/>
<path d="M-1.2,1.3 L1.2,1.3 L1.2,0.62 Q0,1.16 -1.2,0.62 Z" fill="#c40000"/>
</g></g></g>
<circle cx="504.2" cy="488.9" r="44.9" fill="none" stroke="#222" stroke-width="0.8"/>
<circle cx="493.96" cy="455.94" r="1.85" fill="#181818"/>
<circle cx="504.2" cy="455.94" r="1.85" fill="#181818"/>
<circle cx="514.44" cy="455.94" r="1.85" fill="#181818"/>
<circle cx="484.13" cy="462.52" r="1.85" fill="#181818"/>
<circle cx="493.96" cy="462.52" r="1.85" fill="#181818"/>
<circle cx="504.2" cy="462.52" r="1.85" fill="#181818"/>
<circle cx="514.44" cy="462.52" r="1.85" fill="#181818"/>
<circle cx="524.27" cy="462.52" r="1.85" fill="#181818"/>
<circle cx="476.81" cy="469.14" r="1.85" fill="#181818"/>
<circle cx="483.43" cy="470.49" r="1.85" fill="#181818"/>
<circle cx="490.17" cy="470.49" r="1.85" fill="#181818"/>
<circle cx="497.2" cy="470.49" r="1.85" fill="#181818"/>
<circle cx="504.2" cy="470.49" r="1.85" fill="#181818"/>
<circle cx="511.2" cy="470.49" r="1.85" fill="#181818"/>
<circle cx="518.23" cy="470.49" r="1.85" fill="#181818"/>
<circle cx="524.97" cy="470.49" r="1.85" fill="#181818"/>
<circle cx="531.59" cy="469.14" r="1.85" fill="#181818"/>
<circle cx="471.87" cy="479.36" r="1.85" fill="#181818"/>
<circle cx="479.95" cy="479.36" r="1.85" fill="#181818"/>
<circle cx="488.04" cy="479.36" r="1.85" fill="#181818"/>
<circle cx="496.12" cy="479.36" r="1.85" fill="#181818"/>
<circle cx="504.2" cy="479.36" r="1.85" fill="#181818"/>
<circle cx="512.28" cy="479.36" r="1.85" fill="#181818"/>
<circle cx="520.36" cy="479.36" r="1.85" fill="#181818"/>
<circle cx="528.45" cy="479.36" r="1.85" fill="#181818"/>
<circle cx="536.53" cy="479.36" r="1.85" fill="#181818"/>
<circle cx="470.52" cy="488.9" r="1.85" fill="#181818"/>
<circle cx="478.94" cy="488.9" r="1.85" fill="#181818"/>
<circle cx="487.36" cy="488.9" r="1.85" fill="#181818"/>
<circle cx="495.78" cy="488.9" r="1.85" fill="#181818"/>
<circle cx="504.2" cy="488.9" r="1.85" fill="#181818"/>
<circle cx="512.62" cy="488.9" r="1.85" fill="#181818"/>
<circle cx="521.04" cy="488.9" r="1.85" fill="#181818"/>
<circle cx="529.46" cy="488.9" r="1.85" fill="#181818"/>
<circle cx="537.88" cy="488.9" r="1.85" fill="#181818"/>
<circle cx="471.87" cy="498.01" r="1.85" fill="#181818"/>
<circle cx="479.95" cy="498.01" r="1.85" fill="#181818"/>
<circle cx="488.04" cy="498.01" r="1.85" fill="#181818"/>
<circle cx="496.12" cy="498.01" r="1.85" fill="#181818"/>
<circle cx="504.2" cy="498.01" r="1.85" fill="#181818"/>
<circle cx="512.28" cy="498.01" r="1.85" fill="#181818"/>
<circle cx="520.36" cy="498.01" r="1.85" fill="#181818"/>
<circle cx="528.45" cy="498.01" r="1.85" fill="#181818"/>
<circle cx="536.53" cy="498.01" r="1.85" fill="#181818"/>
<circle cx="483.43" cy="506.14" r="1.85" fill="#181818"/>
<circle cx="490.17" cy="506.14" r="1.85" fill="#181818"/>
<circle cx="497.2" cy="506.14" r="1.85" fill="#181818"/>
<circle cx="504.2" cy="506.14" r="1.85" fill="#181818"/>
<circle cx="511.2" cy="506.14" r="1.85" fill="#181818"/>
<circle cx="518.23" cy="506.14" r="1.85" fill="#181818"/>
<circle cx="524.97" cy="506.14" r="1.85" fill="#181818"/>
<circle cx="476.81" cy="509.1" r="1.85" fill="#181818"/>
<circle cx="531.59" cy="508.66" r="1.85" fill="#181818"/>
<circle cx="470.52" cy="514.16" r="1.85" fill="#181818"/>
<circle cx="484" cy="515.39" r="1.85" fill="#181818"/>
<circle cx="493.96" cy="514.16" r="1.85" fill="#181818"/>
<circle cx="504.2" cy="514.16" r="1.85" fill="#181818"/>
<circle cx="514.44" cy="514.16" r="1.85" fill="#181818"/>
<circle cx="523.96" cy="515.39" r="1.85" fill="#181818"/>
<circle cx="537.88" cy="514.16" r="1.85" fill="#181818"/>
<circle cx="493.96" cy="521.23" r="1.85" fill="#181818"/>
<circle cx="504.2" cy="522.35" r="1.85" fill="#181818"/>
<circle cx="514.44" cy="521.23" r="1.85" fill="#181818"/>
<circle cx="504.2" cy="530.21" r="1.85" fill="#181818"/>
<path d="M614,444.6 C614,434.62 620.6,434.62 620.6,444.6" fill="#fff" stroke="#666" stroke-width="0.8"/>
<clipPath id="c5"><circle cx="617.3" cy="488.9" r="44.9"/></clipPath>
<circle cx="617.3" cy="488.9" r="44.9" fill="#fff"/>
<g clip-path="url(#c5)"><g filter="url(#blur0_5)"><g transform="translate(617.3,488.9) scale(44.9)">
<path d="M-1.15,-0.3 C-1.08,-0.16 -0.86,-0.39 -0.76,-0.36 C-0.66,-0.33 -0.62,-0.22 -0.56,-0.15 C-0.5,-0.08 -0.48,-0.01 -0.39,0.05 C-0.3,0.11 -0.13,0.21 0,0.21 C0.13,0.21 0.28,0.11 0.38,0.05 C0.48,-0.01 0.54,-0.07 0.58,-0.15 C0.62,-0.23 0.59,-0.36 0.6,-0.45 C0.61,-0.54 0.6,-0.61 0.64,-0.66 C0.68,-0.71 0.81,-0.65 0.85,-0.74 C0.89,-0.83 1.04,-1.11 0.9,-1.2 C0.76,-1.29 0.34,-1.3 0,-1.3 C-0.34,-1.3 -0.96,-1.37 -1.15,-1.2 C-1.34,-1.03 -1.21,-0.44 -1.15,-0.3Z" fill="#c6c6fa"/>
<ellipse cx="0.01" cy="-0.27" rx="0.44" ry="0.32" fill="#8a8af2"/>
<ellipse cx="0" cy="-0.25" rx="0.26" ry="0.18" fill="#7c7cf0"/>
<ellipse cx="0" cy="-0.23" rx="0.09" ry="0.07" fill="#3838e6"/>
<path d="M-1.3,0.26 C-1.25,0.26 -1.12,0.27 -1,0.26 C-0.88,0.25 -0.68,0.21 -0.56,0.22 C-0.44,0.23 -0.36,0.31 -0.27,0.34 C-0.18,0.37 -0.1,0.41 0,0.41 C0.1,0.41 0.2,0.38 0.3,0.34 C0.4,0.3 0.46,0.23 0.58,0.19 C0.7,0.15 0.88,0.14 1,0.13 C1.12,0.12 1.25,0.13 1.3,0.13 L1.3,1.4 L-1.3,1.4 Z" fill="#fdd0d0"/>
<path d="M-1.3,0.35 C-1.25,0.35 -1.12,0.35 -1,0.35 C-0.88,0.34 -0.68,0.29 -0.56,0.3 C-0.44,0.32 -0.36,0.39 -0.27,0.43 C-0.18,0.46 -0.1,0.49 0,0.49 C0.1,0.49 0.2,0.46 0.3,0.43 C0.4,0.39 0.46,0.31 0.58,0.28 C0.7,0.24 0.88,0.23 1,0.22 C1.12,0.21 1.25,0.22 1.3,0.22 L1.3,1.4 L-1.3,1.4 Z" fill="#f99c9c"/>
<path d="M-1.3,0.41 C-1.25,0.41 -1.12,0.42 -1,0.41 C-0.88,0.4 -0.68,0.36 -0.56,0.37 C-0.44,0.38 -0.36,0.46 -0.27,0.49 C-0.18,0.52 -0.1,0.56 0,0.56 C0.1,0.56 0.2,0.53 0.3,0.49 C0.4,0.45 0.46,0.37 0.58,0.34 C0.7,0.3 0.88,0.29 1,0.28 C1.12,0.27 1.25,0.28 1.3,0.28 L1.3,1.4 L-1.3,1.4 Z" fill="#f45c5c"/>
<path d="M-1.3,0.42 C-1.25,0.42 -1.1,0.41 -1,0.42 C-0.9,0.43 -0.82,0.47 -0.7,0.5 C-0.58,0.53 -0.42,0.56 -0.3,0.58 C-0.18,0.6 -0.1,0.63 0,0.63 C0.1,0.63 0.18,0.6 0.3,0.58 C0.41,0.55 0.57,0.51 0.69,0.48 C0.81,0.45 0.9,0.41 1,0.4 C1.1,0.39 1.25,0.4 1.3,0.4 L1.3,1.4 L-1.3,1.4 Z" fill="#f20808"/>
<path d="M-1.2,1.3 L1.2,1.3 L1.2,0.7 Q0,1.2 -1.2,0.7 Z" fill="#f44c4c"/>
</g></g></g>
<circle cx="617.3" cy="488.9" r="44.9" fill="none" stroke="#222" stroke-width="0.8"/>
<circle cx="607.06" cy="455.94" r="1.85" fill="#181818"/>
<circle cx="617.3" cy="455.94" r="1.85" fill="#181818"/>
<circle cx="627.54" cy="455.94" r="1.85" fill="#181818"/>
<circle cx="597.23" cy="462.52" r="1.85" fill="#181818"/>
<circle cx="607.06" cy="462.52" r="1.85" fill="#181818"/>
<circle cx="617.3" cy="462.52" r="1.85" fill="#181818"/>
<circle cx="627.54" cy="462.52" r="1.85" fill="#181818"/>
<circle cx="637.37" cy="462.52" r="1.85" fill="#181818"/>
<circle cx="589.91" cy="469.14" r="1.85" fill="#181818"/>
<circle cx="596.53" cy="470.49" r="1.85" fill="#181818"/>
<circle cx="603.27" cy="470.49" r="1.85" fill="#181818"/>
<circle cx="610.3" cy="470.49" r="1.85" fill="#181818"/>
<circle cx="617.3" cy="470.49" r="1.85" fill="#181818"/>
<circle cx="624.3" cy="470.49" r="1.85" fill="#181818"/>
<circle cx="631.33" cy="470.49" r="1.85" fill="#181818"/>
<circle cx="638.07" cy="470.49" r="1.85" fill="#181818"/>
<circle cx="644.69" cy="469.14" r="1.85" fill="#181818"/>
<circle cx="584.97" cy="479.36" r="1.85" fill="#181818"/>
<circle cx="593.05" cy="479.36" r="1.85" fill="#181818"/>
<circle cx="601.14" cy="479.36" r="1.85" fill="#181818"/>
<circle cx="609.22" cy="479.36" r="1.85" fill="#181818"/>
<circle cx="617.3" cy="479.36" r="1.85" fill="#181818"/>
<circle cx="625.38" cy="479.36" r="1.85" fill="#181818"/>
<circle cx="633.46" cy="479.36" r="1.85" fill="#181818"/>
<circle cx="641.55" cy="479.36" r="1.85" fill="#181818"/>
<circle cx="649.63" cy="479.36" r="1.85" fill="#181818"/>
<circle cx="583.62" cy="488.9" r="1.85" fill="#181818"/>
<circle cx="592.04" cy="488.9" r="1.85" fill="#181818"/>
<circle cx="600.46" cy="488.9" r="1.85" fill="#181818"/>
<circle cx="608.88" cy="488.9" r="1.85" fill="#181818"/>
<circle cx="617.3" cy="488.9" r="1.85" fill="#181818"/>
<circle cx="625.72" cy="488.9" r="1.85" fill="#181818"/>
<circle cx="634.14" cy="488.9" r="1.85" fill="#181818"/>
<circle cx="642.56" cy="488.9" r="1.85" fill="#181818"/>
<circle cx="650.97" cy="488.9" r="1.85" fill="#181818"/>
<circle cx="584.97" cy="498.01" r="1.85" fill="#181818"/>
<circle cx="593.05" cy="498.01" r="1.85" fill="#181818"/>
<circle cx="601.14" cy="498.01" r="1.85" fill="#181818"/>
<circle cx="609.22" cy="498.01" r="1.85" fill="#181818"/>
<circle cx="617.3" cy="498.01" r="1.85" fill="#181818"/>
<circle cx="625.38" cy="498.01" r="1.85" fill="#181818"/>
<circle cx="633.46" cy="498.01" r="1.85" fill="#181818"/>
<circle cx="641.55" cy="498.01" r="1.85" fill="#181818"/>
<circle cx="649.63" cy="498.01" r="1.85" fill="#181818"/>
<circle cx="596.53" cy="506.14" r="1.85" fill="#181818"/>
<circle cx="603.27" cy="506.14" r="1.85" fill="#181818"/>
<circle cx="610.3" cy="506.14" r="1.85" fill="#181818"/>
<circle cx="617.3" cy="506.14" r="1.85" fill="#181818"/>
<circle cx="624.3" cy="506.14" r="1.85" fill="#181818"/>
<circle cx="631.33" cy="506.14" r="1.85" fill="#181818"/>
<circle cx="638.07" cy="506.14" r="1.85" fill="#181818"/>
<circle cx="589.91" cy="509.1" r="1.85" fill="#181818"/>
<circle cx="644.69" cy="508.66" r="1.85" fill="#181818"/>
<circle cx="583.62" cy="514.16" r="1.85" fill="#181818"/>
<circle cx="597.09" cy="515.39" r="1.85" fill="#181818"/>
<circle cx="607.06" cy="514.16" r="1.85" fill="#181818"/>
<circle cx="617.3" cy="514.16" r="1.85" fill="#181818"/>
<circle cx="627.54" cy="514.16" r="1.85" fill="#181818"/>
<circle cx="637.06" cy="515.39" r="1.85" fill="#181818"/>
<circle cx="650.97" cy="514.16" r="1.85" fill="#181818"/>
<circle cx="607.06" cy="521.23" r="1.85" fill="#181818"/>
<circle cx="617.3" cy="522.35" r="1.85" fill="#181818"/>
<circle cx="627.54" cy="521.23" r="1.85" fill="#181818"/>
<circle cx="617.3" cy="530.21" r="1.85" fill="#181818"/>
<path d="M729.15,444.6 C729.15,434.62 735.75,434.62 735.75,444.6" fill="#fff" stroke="#666" stroke-width="0.8"/>
<clipPath id="c6"><circle cx="732.45" cy="488.9" r="44.9"/></clipPath>
<circle cx="732.45" cy="488.9" r="44.9" fill="#fff"/>
<g clip-path="url(#c6)"><g filter="url(#blur0_5)"><g transform="translate(732.45,488.9) scale(44.9)">
<ellipse cx="0" cy="0" rx="1.1" ry="1.1" fill="#3434e0"/>
<ellipse cx="-0.3" cy="-1" rx="0.45" ry="0.18" fill="#1414d4" transform="rotate(-12 -0.3 -1)"/>
<path d="M-1.3,-0.45 C-1.25,-0.45 -1.1,-0.46 -1,-0.45 C-0.9,-0.44 -0.79,-0.42 -0.7,-0.4 C-0.61,-0.39 -0.51,-0.34 -0.44,-0.36 C-0.37,-0.38 -0.33,-0.46 -0.28,-0.5 C-0.23,-0.54 -0.17,-0.6 -0.12,-0.62 C-0.07,-0.64 -0,-0.65 0.05,-0.63 C0.1,-0.61 0.16,-0.58 0.2,-0.52 C0.24,-0.46 0.25,-0.35 0.3,-0.29 C0.35,-0.23 0.43,-0.17 0.51,-0.15 C0.58,-0.13 0.67,-0.15 0.75,-0.17 C0.83,-0.19 0.91,-0.24 1,-0.25 C1.09,-0.26 1.25,-0.25 1.3,-0.25 L1.3,1.4 L-1.3,1.4 Z" fill="#7c7cea"/>
<path d="M-1.3,-0.36 C-1.25,-0.36 -1.1,-0.37 -1,-0.36 C-0.9,-0.35 -0.79,-0.33 -0.7,-0.31 C-0.61,-0.3 -0.51,-0.25 -0.44,-0.27 C-0.37,-0.29 -0.33,-0.37 -0.28,-0.41 C-0.23,-0.45 -0.17,-0.51 -0.12,-0.53 C-0.07,-0.55 -0,-0.56 0.05,-0.54 C0.1,-0.52 0.16,-0.49 0.2,-0.43 C0.24,-0.37 0.25,-0.26 0.3,-0.2 C0.35,-0.14 0.43,-0.08 0.51,-0.06 C0.58,-0.04 0.67,-0.06 0.75,-0.08 C0.83,-0.1 0.91,-0.15 1,-0.16 C1.09,-0.17 1.25,-0.16 1.3,-0.16 L1.3,1.4 L-1.3,1.4 Z" fill="#b6b6f6"/>
<path d="M-1.3,-0.2 C-1.25,-0.2 -1.12,-0.22 -1,-0.2 C-0.88,-0.18 -0.67,-0.12 -0.55,-0.07 C-0.43,-0.02 -0.36,0.08 -0.27,0.13 C-0.18,0.18 -0.1,0.23 0,0.24 C0.1,0.25 0.2,0.21 0.3,0.17 C0.4,0.13 0.46,0.03 0.58,-0.01 C0.7,-0.05 0.88,-0.08 1,-0.09 C1.12,-0.1 1.25,-0.09 1.3,-0.09 L1.3,1.4 L-1.3,1.4 Z" fill="#ffffff"/>
<path d="M-1.3,-0.1 C-1.25,-0.1 -1.11,-0.13 -1,-0.1 C-0.89,-0.07 -0.72,0.02 -0.62,0.1 C-0.52,0.18 -0.44,0.3 -0.37,0.38 C-0.3,0.46 -0.25,0.54 -0.19,0.59 C-0.13,0.64 -0.07,0.68 0,0.67 C0.07,0.67 0.16,0.62 0.23,0.56 C0.3,0.5 0.36,0.36 0.44,0.28 C0.52,0.2 0.63,0.14 0.72,0.1 C0.81,0.06 0.9,0.05 1,0.04 C1.1,0.03 1.25,0.04 1.3,0.04 L1.3,1.4 L-1.3,1.4 Z" fill="#fdd0d0"/>
<path d="M-1.3,-0.03 C-1.25,-0.03 -1.11,-0.07 -1,-0.03 C-0.89,0 -0.72,0.09 -0.62,0.17 C-0.52,0.25 -0.44,0.37 -0.37,0.45 C-0.3,0.53 -0.25,0.61 -0.19,0.66 C-0.13,0.71 -0.07,0.74 0,0.74 C0.07,0.73 0.16,0.69 0.23,0.63 C0.3,0.56 0.36,0.42 0.44,0.35 C0.52,0.27 0.63,0.21 0.72,0.17 C0.81,0.13 0.9,0.12 1,0.11 C1.1,0.1 1.25,0.11 1.3,0.11 L1.3,1.4 L-1.3,1.4 Z" fill="#f9a4a4"/>
<path d="M-1.3,0.04 C-1.25,0.04 -1.11,0 -1,0.04 C-0.89,0.07 -0.72,0.16 -0.62,0.24 C-0.52,0.32 -0.44,0.43 -0.37,0.52 C-0.3,0.6 -0.25,0.68 -0.19,0.73 C-0.13,0.77 -0.07,0.81 0,0.81 C0.07,0.8 0.16,0.76 0.23,0.7 C0.3,0.63 0.36,0.49 0.44,0.42 C0.52,0.34 0.63,0.28 0.72,0.24 C0.81,0.2 0.9,0.19 1,0.18 C1.1,0.17 1.25,0.18 1.3,0.18 L1.3,1.4 L-1.3,1.4 Z" fill="#f47070"/>
<path d="M-1.3,0.1 C-1.25,0.1 -1.11,0.07 -1,0.1 C-0.89,0.14 -0.72,0.22 -0.62,0.3 C-0.52,0.38 -0.44,0.5 -0.37,0.58 C-0.3,0.67 -0.25,0.75 -0.19,0.79 C-0.13,0.84 -0.07,0.88 0,0.87 C0.07,0.87 0.16,0.83 0.23,0.76 C0.3,0.7 0.36,0.56 0.44,0.48 C0.52,0.41 0.63,0.34 0.72,0.3 C0.81,0.26 0.9,0.25 1,0.24 C1.1,0.23 1.25,0.24 1.3,0.24 L1.3,1.4 L-1.3,1.4 Z" fill="#ef3838"/>
<path d="M-1.3,0.17 C-1.25,0.17 -1.11,0.14 -1,0.17 C-0.89,0.21 -0.72,0.29 -0.62,0.37 C-0.52,0.45 -0.44,0.57 -0.37,0.65 C-0.3,0.73 -0.25,0.81 -0.19,0.86 C-0.13,0.91 -0.07,0.95 0,0.94 C0.07,0.94 0.16,0.9 0.23,0.83 C0.3,0.77 0.36,0.63 0.44,0.55 C0.52,0.48 0.63,0.41 0.72,0.37 C0.81,0.33 0.9,0.32 1,0.31 C1.1,0.3 1.25,0.31 1.3,0.31 L1.3,1.4 L-1.3,1.4 Z" fill="#ea0808"/>
<ellipse cx="-0.75" cy="0.55" rx="0.36" ry="0.3" fill="#cc0000" transform="rotate(30 -0.75 0.55)"/>
<ellipse cx="-0.75" cy="0.55" rx="0.24" ry="0.2" fill="#a80000" transform="rotate(30 -0.75 0.55)"/>
<ellipse cx="-0.75" cy="0.55" rx="0.13" ry="0.1" fill="#900000" transform="rotate(30 -0.75 0.55)"/>
<ellipse cx="0.68" cy="0.62" rx="0.42" ry="0.42" fill="#cc0000" transform="rotate(-35 0.68 0.62)"/>
<ellipse cx="0.67" cy="0.63" rx="0.31" ry="0.31" fill="#a80000" transform="rotate(-35 0.67 0.63)"/>
<ellipse cx="0.65" cy="0.63" rx="0.19" ry="0.19" fill="#840000" transform="rotate(-35 0.65 0.63)"/>
<ellipse cx="0.64" cy="0.64" rx="0.08" ry="0.08" fill="#600000" transform="rotate(-35 0.64 0.64)"/>
</g></g></g>
<circle cx="732.45" cy="488.9" r="44.9" fill="none" stroke="#222" stroke-width="0.8"/>
<circle cx="722.21" cy="455.94" r="1.85" fill="#181818"/>
<circle cx="732.45" cy="455.94" r="1.85" fill="#181818"/>
<circle cx="742.69" cy="455.94" r="1.85" fill="#181818"/>
<circle cx="712.38" cy="462.52" r="1.85" fill="#181818"/>
<circle cx="722.21" cy="462.52" r="1.85" fill="#181818"/>
<circle cx="732.45" cy="462.52" r="1.85" fill="#181818"/>
<circle cx="742.69" cy="462.52" r="1.85" fill="#181818"/>
<circle cx="752.52" cy="462.52" r="1.85" fill="#181818"/>
<circle cx="705.06" cy="469.14" r="1.85" fill="#181818"/>
<circle cx="711.68" cy="470.49" r="1.85" fill="#181818"/>
<circle cx="718.42" cy="470.49" r="1.85" fill="#181818"/>
<circle cx="725.45" cy="470.49" r="1.85" fill="#181818"/>
<circle cx="732.45" cy="470.49" r="1.85" fill="#181818"/>
<circle cx="739.45" cy="470.49" r="1.85" fill="#181818"/>
<circle cx="746.48" cy="470.49" r="1.85" fill="#181818"/>
<circle cx="753.22" cy="470.49" r="1.85" fill="#181818"/>
<circle cx="759.84" cy="469.14" r="1.85" fill="#181818"/>
<circle cx="700.12" cy="479.36" r="1.85" fill="#181818"/>
<circle cx="708.2" cy="479.36" r="1.85" fill="#181818"/>
<circle cx="716.29" cy="479.36" r="1.85" fill="#181818"/>
<circle cx="724.37" cy="479.36" r="1.85" fill="#181818"/>
<circle cx="732.45" cy="479.36" r="1.85" fill="#181818"/>
<circle cx="740.53" cy="479.36" r="1.85" fill="#181818"/>
<circle cx="748.61" cy="479.36" r="1.85" fill="#181818"/>
<circle cx="756.7" cy="479.36" r="1.85" fill="#181818"/>
<circle cx="764.78" cy="479.36" r="1.85" fill="#181818"/>
<circle cx="698.78" cy="488.9" r="1.85" fill="#181818"/>
<circle cx="707.19" cy="488.9" r="1.85" fill="#181818"/>
<circle cx="715.61" cy="488.9" r="1.85" fill="#181818"/>
<circle cx="724.03" cy="488.9" r="1.85" fill="#181818"/>
<circle cx="732.45" cy="488.9" r="1.85" fill="#181818"/>
<circle cx="740.87" cy="488.9" r="1.85" fill="#181818"/>
<circle cx="749.29" cy="488.9" r="1.85" fill="#181818"/>
<circle cx="757.71" cy="488.9" r="1.85" fill="#181818"/>
<circle cx="766.12" cy="488.9" r="1.85" fill="#181818"/>
<circle cx="700.12" cy="498.01" r="1.85" fill="#181818"/>
<circle cx="708.2" cy="498.01" r="1.85" fill="#181818"/>
<circle cx="716.29" cy="498.01" r="1.85" fill="#181818"/>
<circle cx="724.37" cy="498.01" r="1.85" fill="#181818"/>
<circle cx="732.45" cy="498.01" r="1.85" fill="#181818"/>
<circle cx="740.53" cy="498.01" r="1.85" fill="#181818"/>
<circle cx="748.61" cy="498.01" r="1.85" fill="#181818"/>
<circle cx="756.7" cy="498.01" r="1.85" fill="#181818"/>
<circle cx="764.78" cy="498.01" r="1.85" fill="#181818"/>
<circle cx="711.68" cy="506.14" r="1.85" fill="#181818"/>
<circle cx="718.42" cy="506.14" r="1.85" fill="#181818"/>
<circle cx="725.45" cy="506.14" r="1.85" fill="#181818"/>
<circle cx="732.45" cy="506.14" r="1.85" fill="#181818"/>
<circle cx="739.45" cy="506.14" r="1.85" fill="#181818"/>
<circle cx="746.48" cy="506.14" r="1.85" fill="#181818"/>
<circle cx="753.22" cy="506.14" r="1.85" fill="#181818"/>
<circle cx="705.06" cy="509.1" r="1.85" fill="#181818"/>
<circle cx="759.84" cy="508.66" r="1.85" fill="#181818"/>
<circle cx="698.78" cy="514.16" r="1.85" fill="#181818"/>
<circle cx="712.25" cy="515.39" r="1.85" fill="#181818"/>
<circle cx="722.21" cy="514.16" r="1.85" fill="#181818"/>
<circle cx="732.45" cy="514.16" r="1.85" fill="#181818"/>
<circle cx="742.69" cy="514.16" r="1.85" fill="#181818"/>
<circle cx="752.21" cy="515.39" r="1.85" fill="#181818"/>
<circle cx="766.12" cy="514.16" r="1.85" fill="#181818"/>
<circle cx="722.21" cy="521.23" r="1.85" fill="#181818"/>
<circle cx="732.45" cy="522.35" r="1.85" fill="#181818"/>
<circle cx="742.69" cy="521.23" r="1.85" fill="#181818"/>
<circle cx="732.45" cy="530.21" r="1.85" fill="#181818"/>
<rect x="111.4" y="539.2" width="5.34" height="3.1" fill="#06063a"/>
<rect x="116.54" y="539.2" width="5.34" height="3.1" fill="#0000a0"/>
<rect x="121.67" y="539.2" width="5.34" height="3.1" fill="#0000e0"/>
<rect x="126.81" y="539.2" width="5.34" height="3.1" fill="#2424f8"/>
<rect x="131.95" y="539.2" width="5.34" height="3.1" fill="#5656f2"/>
<rect x="137.09" y="539.2" width="5.34" height="3.1" fill="#8888f4"/>
<rect x="142.22" y="539.2" width="5.34" height="3.1" fill="#c4c4fa"/>
<rect x="157.64" y="539.2" width="5.34" height="3.1" fill="#fcc4c4"/>
<rect x="162.78" y="539.2" width="5.34" height="3.1" fill="#f88484"/>
<rect x="167.91" y="539.2" width="5.34" height="3.1" fill="#f24444"/>
<rect x="173.05" y="539.2" width="5.34" height="3.1" fill="#ee0808"/>
<rect x="178.19" y="539.2" width="5.34" height="3.1" fill="#c40000"/>
<rect x="183.32" y="539.2" width="5.34" height="3.1" fill="#900000"/>
<rect x="188.46" y="539.2" width="5.14" height="3.1" fill="#4c0000"/>
<line x1="111.4" y1="542.3" x2="193.6" y2="542.3" stroke="#222" stroke-width="0.7"/>
<text x="86.3" y="557.2" font-size="16.4" text-anchor="start" font-weight="bold" fill="#2a0f26"><tspan>−10</tspan><tspan font-style="italic">µV</tspan></text>
<text x="168.5" y="557.2" font-size="16.4" text-anchor="start" font-weight="bold" fill="#2a0f26"><tspan>+10</tspan><tspan font-style="italic">µV</tspan></text>
<rect x="286.6" y="539.2" width="5.5" height="3.1" fill="#06063a"/>
<rect x="291.9" y="539.2" width="5.5" height="3.1" fill="#0000a0"/>
<rect x="297.2" y="539.2" width="5.5" height="3.1" fill="#0000e0"/>
<rect x="302.5" y="539.2" width="5.5" height="3.1" fill="#2424f8"/>
<rect x="307.8" y="539.2" width="5.5" height="3.1" fill="#5656f2"/>
<rect x="313.1" y="539.2" width="5.5" height="3.1" fill="#8888f4"/>
<rect x="318.4" y="539.2" width="5.5" height="3.1" fill="#c4c4fa"/>
<rect x="334.3" y="539.2" width="5.5" height="3.1" fill="#fcc4c4"/>
<rect x="339.6" y="539.2" width="5.5" height="3.1" fill="#f88484"/>
<rect x="344.9" y="539.2" width="5.5" height="3.1" fill="#f24444"/>
<rect x="350.2" y="539.2" width="5.5" height="3.1" fill="#ee0808"/>
<rect x="355.5" y="539.2" width="5.5" height="3.1" fill="#c40000"/>
<rect x="360.8" y="539.2" width="5.5" height="3.1" fill="#900000"/>
<rect x="366.1" y="539.2" width="5.3" height="3.1" fill="#4c0000"/>
<line x1="286.6" y1="542.3" x2="371.4" y2="542.3" stroke="#222" stroke-width="0.7"/>
<text x="267.3" y="557.2" font-size="16.4" text-anchor="start" font-weight="bold" fill="#2a0f26"><tspan>−1</tspan><tspan font-style="italic">µV</tspan></text>
<text x="349.1" y="557.2" font-size="16.4" text-anchor="start" font-weight="bold" fill="#2a0f26"><tspan>+1</tspan><tspan font-style="italic">µV</tspan></text>
<rect x="513.4" y="539.2" width="5.32" height="3.1" fill="#06063a"/>
<rect x="518.52" y="539.2" width="5.32" height="3.1" fill="#0000a0"/>
<rect x="523.64" y="539.2" width="5.32" height="3.1" fill="#0000e0"/>
<rect x="528.76" y="539.2" width="5.32" height="3.1" fill="#2424f8"/>
<rect x="533.88" y="539.2" width="5.32" height="3.1" fill="#5656f2"/>
<rect x="538.99" y="539.2" width="5.32" height="3.1" fill="#8888f4"/>
<rect x="544.11" y="539.2" width="5.32" height="3.1" fill="#c4c4fa"/>
<rect x="559.47" y="539.2" width="5.32" height="3.1" fill="#fcc4c4"/>
<rect x="564.59" y="539.2" width="5.32" height="3.1" fill="#f88484"/>
<rect x="569.71" y="539.2" width="5.32" height="3.1" fill="#f24444"/>
<rect x="574.82" y="539.2" width="5.32" height="3.1" fill="#ee0808"/>
<rect x="579.94" y="539.2" width="5.32" height="3.1" fill="#c40000"/>
<rect x="585.06" y="539.2" width="5.32" height="3.1" fill="#900000"/>
<rect x="590.18" y="539.2" width="5.12" height="3.1" fill="#4c0000"/>
<line x1="513.4" y1="542.3" x2="595.3" y2="542.3" stroke="#222" stroke-width="0.7"/>
<text x="489.2" y="557.2" font-size="16.4" text-anchor="start" font-weight="bold" fill="#2a0f26"><tspan>−15</tspan><tspan font-style="italic">µV</tspan></text>
<text x="570.8" y="557.2" font-size="16.4" text-anchor="start" font-weight="bold" fill="#2a0f26"><tspan>+15</tspan><tspan font-style="italic">µV</tspan></text>
<rect x="690.3" y="539.2" width="5.55" height="3.1" fill="#06063a"/>
<rect x="695.65" y="539.2" width="5.55" height="3.1" fill="#0000a0"/>
<rect x="701" y="539.2" width="5.55" height="3.1" fill="#0000e0"/>
<rect x="706.35" y="539.2" width="5.55" height="3.1" fill="#2424f8"/>
<rect x="711.7" y="539.2" width="5.55" height="3.1" fill="#5656f2"/>
<rect x="717.05" y="539.2" width="5.55" height="3.1" fill="#8888f4"/>
<rect x="722.4" y="539.2" width="5.55" height="3.1" fill="#c4c4fa"/>
<rect x="738.45" y="539.2" width="5.55" height="3.1" fill="#fcc4c4"/>
<rect x="743.8" y="539.2" width="5.55" height="3.1" fill="#f88484"/>
<rect x="749.15" y="539.2" width="5.55" height="3.1" fill="#f24444"/>
<rect x="754.5" y="539.2" width="5.55" height="3.1" fill="#ee0808"/>
<rect x="759.85" y="539.2" width="5.55" height="3.1" fill="#c40000"/>
<rect x="765.2" y="539.2" width="5.55" height="3.1" fill="#900000"/>
<rect x="770.55" y="539.2" width="5.35" height="3.1" fill="#4c0000"/>
<line x1="690.3" y1="542.3" x2="775.9" y2="542.3" stroke="#222" stroke-width="0.7"/>
<text x="669.9" y="557.2" font-size="16.4" text-anchor="start" font-weight="bold" fill="#2a0f26"><tspan>−2</tspan><tspan font-style="italic">µV</tspan></text>
<text x="742.4" y="557.2" font-size="16.4" text-anchor="start" font-weight="bold" fill="#2a0f26"><tspan>+2</tspan><tspan font-style="italic">µV</tspan></text>
</g>
<g id="panel-c">
<clipPath id="bx1"><rect x="43.7" y="583.2" width="90.1" height="106"/></clipPath>
<rect x="43.7" y="583.2" width="90.1" height="106" fill="#f8f8f8"/>
<g clip-path="url(#bx1)"><g filter="url(#blur0_8)">
<ellipse cx="88.8" cy="636.2" rx="39.3" ry="49.9" fill="#808080"/>
<ellipse cx="88.8" cy="636.2" rx="38.3" ry="48.9" fill="#dedede"/>
<ellipse cx="88.8" cy="636.2" rx="35.099999999999994" ry="45.699999999999996" fill="#909090"/>
<ellipse cx="88.8" cy="636.5" rx="33.9" ry="44.5" fill="#848484"/>
</g>
<g filter="url(#blur1_2)">
<ellipse cx="74.8" cy="614.2" rx="11" ry="15" fill="#8e8e8e"/>
<ellipse cx="102.8" cy="614.2" rx="11" ry="15" fill="#8e8e8e"/>
<ellipse cx="65.8" cy="642.2" rx="8.5" ry="19" fill="#8c8c8c"/>
<ellipse cx="111.8" cy="642.2" rx="8.5" ry="19" fill="#8c8c8c"/>
<ellipse cx="88.8" cy="639.2" rx="12" ry="9" fill="#747474"/>
<ellipse cx="88.8" cy="656.2" rx="11" ry="11" fill="#6c6c6c"/>
<ellipse cx="71.8" cy="664.2" rx="9" ry="9" fill="#808080"/>
<ellipse cx="105.8" cy="664.2" rx="9" ry="9" fill="#808080"/>
</g>
<g filter="url(#blur0_5)">
<line x1="88.8" y1="595.2" x2="88.8" y2="632.2" stroke="#444" stroke-width="1"/>
<path d="M81.3,640.2 Q82.8,648.7 88.8,647.7 Q94.8,648.7 96.3,640.2" fill="none" stroke="#262626" stroke-width="1.5"/>
<path d="M65.8,620.2 Q73.8,628.2 78.8,637.2" fill="none" stroke="#5c5c5c" stroke-width="1.3"/>
<path d="M111.8,620.2 Q103.8,628.2 98.8,637.2" fill="none" stroke="#5c5c5c" stroke-width="1.3"/>
<path d="M76.8,638.2 Q81.8,632.2 88.8,633.2 Q95.8,632.2 100.8,638.2" fill="none" stroke="#5a5a5a" stroke-width="1.2"/>
</g><g filter="url(#blur0_3)" opacity="0.8"><rect x="79.2" y="660.3" width="2.28" height="2.3" fill="#a82430" opacity="0.45"/><rect x="81.33" y="660.3" width="2.28" height="2.3" fill="#a82430" opacity="0.75"/><rect x="98.4" y="660.3" width="2.28" height="2.3" fill="#a82430" opacity="0.6"/><rect x="100.53" y="660.3" width="2.28" height="2.3" fill="#a82430" opacity="0.6"/><rect x="77.07" y="662.45" width="2.28" height="2.3" fill="#d42c30" opacity="0.8"/><rect x="79.2" y="662.45" width="2.28" height="2.3" fill="#d42c30" opacity="0.8"/><rect x="81.33" y="662.45" width="2.28" height="2.3" fill="#d42c30" opacity="0.9"/><rect x="83.47" y="662.45" width="2.28" height="2.3" fill="#d42c30" opacity="0.8"/><rect x="96.27" y="662.45" width="2.28" height="2.3" fill="#d42c30" opacity="0.95"/><rect x="98.4" y="662.45" width="2.28" height="2.3" fill="#d42c30" opacity="0.95"/><rect x="100.53" y="662.45" width="2.28" height="2.3" fill="#d42c30" opacity="0.9"/><rect x="102.67" y="662.45" width="2.28" height="2.3" fill="#d42c30" opacity="0.95"/><rect x="66.4" y="664.6" width="2.28" height="2.3" fill="#a82430" opacity="0.45"/><rect x="74.93" y="664.6" width="2.28" height="2.3" fill="#d42c30" opacity="0.8"/><rect x="77.07" y="664.6" width="2.28" height="2.3" fill="#d42c30" opacity="0.9"/><rect x="79.2" y="664.6" width="2.28" height="2.3" fill="#d42c30" opacity="0.8"/><rect x="81.33" y="664.6" width="2.28" height="2.3" fill="#d42c30" opacity="0.8"/><rect x="83.47" y="664.6" width="2.28" height="2.3" fill="#d42c30" opacity="0.95"/><rect x="85.6" y="664.6" width="2.28" height="2.3" fill="#d42c30" opacity="0.9"/><rect x="94.13" y="664.6" width="2.28" height="2.3" fill="#d42c30" opacity="0.9"/><rect x="96.27" y="664.6" width="2.28" height="2.3" fill="#d42c30" opacity="0.95"/><rect x="98.4" y="664.6" width="2.28" height="2.3" fill="#d42c30" opacity="0.9"/><rect x="100.53" y="664.6" width="2.28" height="2.3" fill="#d42c30" opacity="0.9"/><rect x="102.67" y="664.6" width="2.28" height="2.3" fill="#d42c30" opacity="0.95"/><rect x="109.07" y="664.6" width="2.28" height="2.3" fill="#a82430" opacity="0.75"/><rect x="66.4" y="666.75" width="2.28" height="2.3" fill="#d42c30" opacity="0.9"/><rect x="68.53" y="666.75" width="2.28" height="2.3" fill="#a82430" opacity="0.45"/><rect x="77.07" y="666.75" width="2.28" height="2.3" fill="#d42c30" opacity="0.9"/><rect x="79.2" y="666.75" width="2.28" height="2.3" fill="#d42c30" opacity="0.9"/><rect x="81.33" y="666.75" width="2.28" height="2.3" fill="#d42c30" opacity="0.9"/><rect x="83.47" y="666.75" width="2.28" height="2.3" fill="#d42c30" opacity="0.9"/><rect x="85.6" y="666.75" width="2.28" height="2.3" fill="#d42c30" opacity="0.95"/><rect x="87.73" y="666.75" width="2.28" height="2.3" fill="#d42c30" opacity="0.95"/><rect x="92" y="666.75" width="2.28" height="2.3" fill="#d42c30" opacity="0.95"/><rect x="94.13" y="666.75" width="2.28" height="2.3" fill="#d42c30" opacity="0.9"/><rect x="96.27" y="666.75" width="2.28" height="2.3" fill="#d42c30" opacity="0.8"/><rect x="98.4" y="666.75" width="2.28" height="2.3" fill="#d42c30" opacity="0.95"/><rect x="100.53" y="666.75" width="2.28" height="2.3" fill="#d42c30" opacity="0.9"/><rect x="106.93" y="666.75" width="2.28" height="2.3" fill="#d42c30" opacity="0.95"/><rect x="109.07" y="666.75" width="2.28" height="2.3" fill="#d42c30" opacity="0.8"/><rect x="66.4" y="668.9" width="2.28" height="2.3" fill="#d42c30" opacity="0.9"/><rect x="68.53" y="668.9" width="2.28" height="2.3" fill="#d42c30" opacity="0.95"/><rect x="79.2" y="668.9" width="2.28" height="2.3" fill="#d42c30" opacity="0.8"/><rect x="81.33" y="668.9" width="2.28" height="2.3" fill="#d42c30" opacity="0.95"/><rect x="85.6" y="668.9" width="2.28" height="2.3" fill="#d42c30" opacity="0.95"/><rect x="87.73" y="668.9" width="2.28" height="2.3" fill="#e8382c" opacity="1"/><rect x="89.87" y="668.9" width="2.28" height="2.3" fill="#e8382c" opacity="1"/><rect x="92" y="668.9" width="2.28" height="2.3" fill="#d42c30" opacity="0.9"/><rect x="96.27" y="668.9" width="2.28" height="2.3" fill="#d42c30" opacity="0.9"/><rect x="98.4" y="668.9" width="2.28" height="2.3" fill="#d42c30" opacity="0.9"/><rect x="106.93" y="668.9" width="2.28" height="2.3" fill="#d42c30" opacity="0.9"/><rect x="109.07" y="668.9" width="2.28" height="2.3" fill="#d42c30" opacity="0.8"/><rect x="68.53" y="671.05" width="2.28" height="2.3" fill="#d42c30" opacity="0.9"/><rect x="87.73" y="671.05" width="2.28" height="2.3" fill="#e8382c" opacity="1"/><rect x="89.87" y="671.05" width="2.28" height="2.3" fill="#f07c24" opacity="1"/><rect x="92" y="671.05" width="2.28" height="2.3" fill="#e8382c" opacity="1"/><rect x="106.93" y="671.05" width="2.28" height="2.3" fill="#d42c30" opacity="0.95"/><rect x="70.67" y="673.2" width="2.28" height="2.3" fill="#f07c24" opacity="1"/><rect x="72.8" y="673.2" width="2.28" height="2.3" fill="#fcd668" opacity="1"/><rect x="87.73" y="673.2" width="2.28" height="2.3" fill="#d42c30" opacity="0.8"/><rect x="89.87" y="673.2" width="2.28" height="2.3" fill="#f07c24" opacity="1"/><rect x="92" y="673.2" width="2.28" height="2.3" fill="#d42c30" opacity="0.8"/><rect x="104.8" y="673.2" width="2.28" height="2.3" fill="#f07c24" opacity="1"/><rect x="106.93" y="673.2" width="2.28" height="2.3" fill="#f07c24" opacity="1"/><rect x="72.8" y="675.35" width="2.28" height="2.3" fill="#fcd668" opacity="1"/><rect x="74.93" y="675.35" width="2.28" height="2.3" fill="#fff6d4" opacity="1"/><rect x="81.33" y="675.35" width="2.28" height="2.3" fill="#fcd668" opacity="1"/><rect x="98.4" y="675.35" width="2.28" height="2.3" fill="#fcd668" opacity="1"/><rect x="100.53" y="675.35" width="2.28" height="2.3" fill="#fcd668" opacity="1"/><rect x="102.67" y="675.35" width="2.28" height="2.3" fill="#fff6d4" opacity="1"/><rect x="104.8" y="675.35" width="2.28" height="2.3" fill="#fff6d4" opacity="1"/></g></g>
<rect x="43.7" y="583.2" width="90.1" height="106" fill="none" stroke="#777" stroke-width="0.7"/>
<rect x="43.1" y="582.6" width="91.3" height="107.2" fill="none" stroke="#222" stroke-width="1.2" stroke-dasharray="0.9 3.2"/>
<path d="M75.5,579.4 L82.3,579.4 L78.9,583 Z" fill="#111"/>
<path d="M40.4,673.4 L40.4,680.2 L44,676.8 Z" fill="#111"/>
<text x="46.8" y="589.5" font-size="5.6" text-anchor="middle" fill="#555">L</text>
<text x="130.5" y="589.5" font-size="5.6" text-anchor="middle" fill="#555">R</text>
<text x="141" y="591" font-size="5.6" text-anchor="middle" fill="#555">(Y)</text>
<circle cx="135" cy="603.6" r="0.55" fill="#333"/>
<text x="138.2" y="605.6" font-size="5.6" text-anchor="start" fill="#555">+5</text>
<circle cx="135" cy="627.6" r="0.55" fill="#333"/>
<text x="138.2" y="629.6" font-size="5.6" text-anchor="start" fill="#555">0</text>
<circle cx="135" cy="652" r="0.55" fill="#333"/>
<text x="138.2" y="654" font-size="5.6" text-anchor="start" fill="#555">-5</text>
<circle cx="135" cy="676" r="0.55" fill="#333"/>
<text x="138.2" y="678" font-size="5.6" text-anchor="start" fill="#555">-10</text>
<text x="63.1" y="698.2" font-size="5.6" text-anchor="middle" fill="#555">-5</text>
<text x="88.8" y="698.2" font-size="5.6" text-anchor="middle" fill="#555">0</text>
<text x="116" y="698.2" font-size="5.6" text-anchor="middle" fill="#555">+5 cm</text>
<text x="131.5" y="698.2" font-size="5.6" text-anchor="middle" fill="#555">[X]</text>
<clipPath id="bx2"><rect x="155.8" y="598.7" width="106.9" height="88.6"/></clipPath>
<rect x="155.8" y="598.7" width="106.9" height="88.6" fill="#f8f8f8"/>
<g clip-path="url(#bx2)"><g filter="url(#blur0_8)">
<ellipse cx="208.5" cy="646.5" rx="45.3" ry="43" fill="#7e7e7e"/>
<ellipse cx="208.5" cy="646.8" rx="44" ry="41.6" fill="#dedede"/>
<ellipse cx="208.8" cy="648" rx="41.2" ry="37.8" fill="#8a8a8a"/>
<ellipse cx="209" cy="649" rx="40" ry="36.4" fill="#767676"/>
</g>
<g filter="url(#blur1_2)">
<path d="M172,640 Q182,618 210,616 Q238,618 247,640 Q232,626 210,625 Q186,626 172,640 Z" fill="#8c8c8c"/>
<ellipse cx="203" cy="646" rx="22" ry="13" fill="#868686"/>
<path d="M150,652 L168,652 L198,664 L214,692 L150,692 Z" fill="#e4e4e4"/>
<path d="M158,650 L170,651 L190,661 L178,668 L160,664 Z" fill="#c4c4c4"/>
<ellipse cx="176" cy="671" rx="9" ry="4.5" fill="#8e8e8e"/>
<ellipse cx="192" cy="681" rx="9" ry="4" fill="#a2a2a2"/>
<ellipse cx="166" cy="680" rx="7" ry="5" fill="#bdbdbd"/>
<ellipse cx="231.5" cy="674.5" rx="16" ry="11.5" fill="#7c7c7c"/>
<circle cx="202.5" cy="651.5" r="7" fill="#949494"/>
</g>
<g filter="url(#blur0_8)">
<path d="M166,650 Q182,655 198,662" fill="none" stroke="#3c3c3c" stroke-width="2"/>
<path d="M186,649 Q192,636 206,637 Q218,638 222,647" fill="none" stroke="#a4a4a4" stroke-width="2.2"/>
<path d="M213,639.5 Q220,639 223.5,648.5 Q218,647 215.5,643.5 Z" fill="#141414" stroke="#141414" stroke-width="1"/>
<path d="M202,665 L233,650.5" fill="none" stroke="#5a5a5a" stroke-width="3"/>
<ellipse cx="201.5" cy="665" rx="5.5" ry="5" fill="#4c4c4c"/>
<path d="M205,670 L211,690" fill="none" stroke="#5c5c5c" stroke-width="4"/>
<path d="M217,667 Q213,676 221,684" fill="none" stroke="#262626" stroke-width="2.4"/>
</g><g filter="url(#blur0_3)" opacity="0.8"><rect x="242.35" y="638.9" width="2.39" height="2.27" fill="#a82430" opacity="0.75"/><rect x="240.11" y="641.02" width="2.39" height="2.27" fill="#a82430" opacity="0.75"/><rect x="242.35" y="641.02" width="2.39" height="2.27" fill="#a82430" opacity="0.75"/><rect x="237.88" y="643.15" width="2.39" height="2.27" fill="#a82430" opacity="0.75"/><rect x="242.35" y="643.15" width="2.39" height="2.27" fill="#d42c30" opacity="0.9"/><rect x="244.59" y="643.15" width="2.39" height="2.27" fill="#a82430" opacity="0.45"/><rect x="235.64" y="645.27" width="2.39" height="2.27" fill="#a82430" opacity="0.45"/><rect x="240.11" y="645.27" width="2.39" height="2.27" fill="#d42c30" opacity="0.9"/><rect x="242.35" y="645.27" width="2.39" height="2.27" fill="#d42c30" opacity="0.8"/><rect x="246.83" y="645.27" width="2.39" height="2.27" fill="#d42c30" opacity="0.95"/><rect x="237.88" y="647.4" width="2.39" height="2.27" fill="#d42c30" opacity="0.95"/><rect x="240.11" y="647.4" width="2.39" height="2.27" fill="#d42c30" opacity="0.8"/><rect x="244.59" y="647.4" width="2.39" height="2.27" fill="#d42c30" opacity="0.8"/><rect x="246.83" y="647.4" width="2.39" height="2.27" fill="#e8382c" opacity="1"/><rect x="249.06" y="647.4" width="2.39" height="2.27" fill="#d42c30" opacity="0.9"/><rect x="235.64" y="649.52" width="2.39" height="2.27" fill="#a82430" opacity="0.45"/><rect x="240.11" y="649.52" width="2.39" height="2.27" fill="#d42c30" opacity="0.95"/><rect x="246.83" y="649.52" width="2.39" height="2.27" fill="#fcd668" opacity="1"/><rect x="249.06" y="649.52" width="2.39" height="2.27" fill="#e8382c" opacity="1"/><rect x="233.4" y="651.65" width="2.39" height="2.27" fill="#a82430" opacity="0.45"/><rect x="237.88" y="651.65" width="2.39" height="2.27" fill="#d42c30" opacity="0.8"/><rect x="240.11" y="651.65" width="2.39" height="2.27" fill="#d42c30" opacity="0.8"/><rect x="244.59" y="651.65" width="2.39" height="2.27" fill="#fcd668" opacity="1"/><rect x="246.83" y="651.65" width="2.39" height="2.27" fill="#fff6d4" opacity="1"/><rect x="249.06" y="651.65" width="2.39" height="2.27" fill="#f07c24" opacity="1"/><rect x="235.64" y="653.77" width="2.39" height="2.27" fill="#a82430" opacity="0.45"/><rect x="237.88" y="653.77" width="2.39" height="2.27" fill="#d42c30" opacity="0.8"/><rect x="240.11" y="653.77" width="2.39" height="2.27" fill="#d42c30" opacity="0.9"/><rect x="246.83" y="653.77" width="2.39" height="2.27" fill="#fff6d4" opacity="1"/><rect x="249.06" y="653.77" width="2.39" height="2.27" fill="#fcd668" opacity="1"/><rect x="237.88" y="655.9" width="2.39" height="2.27" fill="#d42c30" opacity="0.9"/><rect x="240.11" y="655.9" width="2.39" height="2.27" fill="#e8382c" opacity="1"/><rect x="242.35" y="655.9" width="2.39" height="2.27" fill="#d42c30" opacity="0.95"/><rect x="246.83" y="655.9" width="2.39" height="2.27" fill="#f07c24" opacity="1"/><rect x="249.06" y="655.9" width="2.39" height="2.27" fill="#fcd668" opacity="1"/><rect x="240.11" y="658.02" width="2.39" height="2.27" fill="#d42c30" opacity="0.9"/><rect x="242.35" y="658.02" width="2.39" height="2.27" fill="#e8382c" opacity="1"/><rect x="244.59" y="658.02" width="2.39" height="2.27" fill="#f07c24" opacity="1"/><rect x="246.83" y="658.02" width="2.39" height="2.27" fill="#f07c24" opacity="1"/><rect x="242.35" y="660.15" width="2.39" height="2.27" fill="#d42c30" opacity="0.8"/><rect x="244.59" y="660.15" width="2.39" height="2.27" fill="#f07c24" opacity="1"/><rect x="242.35" y="662.27" width="2.39" height="2.27" fill="#d42c30" opacity="0.8"/></g></g>
<rect x="155.8" y="598.7" width="106.9" height="88.6" fill="none" stroke="#777" stroke-width="0.7"/>
<rect x="155.2" y="598.1" width="108.1" height="89.8" fill="none" stroke="#222" stroke-width="1.2" stroke-dasharray="0.9 3.2"/>
<path d="M246,594.8 L252.8,594.8 L249.4,598.4 Z" fill="#111"/>
<path d="M152.4,653 L152.4,659.8 L156,656.4 Z" fill="#111"/>
<text x="159.2" y="605.2" font-size="5.6" text-anchor="middle" fill="#555">A</text>
<text x="259.2" y="605.2" font-size="5.6" text-anchor="middle" fill="#555">P</text>
<text x="270.5" y="610" font-size="5.6" text-anchor="middle" fill="#555">(Z)</text>
<circle cx="264.3" cy="627.8" r="0.55" fill="#333"/>
<text x="267.5" y="629.8" font-size="5.6" text-anchor="start" fill="#555">+5</text>
<circle cx="264.3" cy="651.7" r="0.55" fill="#333"/>
<text x="267.5" y="653.7" font-size="5.6" text-anchor="start" fill="#555">0</text>
<circle cx="264.3" cy="675.5" r="0.55" fill="#333"/>
<text x="267.5" y="677.5" font-size="5.6" text-anchor="start" fill="#555">-5</text>
<text x="160.6" y="695.7" font-size="5.6" text-anchor="middle" fill="#555">(Y)</text>
<text x="175.8" y="695.7" font-size="5.6" text-anchor="middle" fill="#555">+5</text>
<text x="200.8" y="695.7" font-size="5.6" text-anchor="middle" fill="#555">0</text>
<text x="223.4" y="695.7" font-size="5.6" text-anchor="middle" fill="#555">-5</text>
<text x="252.8" y="695.7" font-size="5.6" text-anchor="middle" fill="#555">-10 cm</text>
<clipPath id="bx3"><rect x="286.1" y="599" width="89" height="88.5"/></clipPath>
<rect x="286.1" y="599" width="89" height="88.5" fill="#f8f8f8"/>
<g clip-path="url(#bx3)"><g filter="url(#blur2)">
<path d="M308.2,658.3 L310.2,693.5 L350.2,693.5 L352.2,658.3 Z" fill="#c4c4c4"/>
<path d="M316.2,658.3 L317.2,693.5 L343.2,693.5 L344.2,658.3 Z" fill="#b0b0b0"/>
</g>
<g filter="url(#blur1_2)">
<circle cx="330.2" cy="650.3" r="25" fill="#cfcfcf"/>
<circle cx="330.2" cy="650.3" r="23" fill="#747474"/>
<circle cx="330.2" cy="650.9" r="20" fill="#cdcdcd"/>
<circle cx="330.2" cy="651.3" r="16.5" fill="#9c9c9c"/>
<circle cx="330.2" cy="651.3" r="12" fill="#a6a6a6"/>
</g><g filter="url(#blur0_3)" opacity="0.85"><rect x="322.72" y="641.1" width="2.26" height="2.26" fill="#a82430" opacity="0.6"/><rect x="324.83" y="641.1" width="2.26" height="2.26" fill="#a82430" opacity="0.6"/><rect x="333.26" y="641.1" width="2.26" height="2.26" fill="#a82430" opacity="0.45"/><rect x="335.37" y="641.1" width="2.26" height="2.26" fill="#a82430" opacity="0.75"/><rect x="320.61" y="643.21" width="2.26" height="2.26" fill="#a82430" opacity="0.6"/><rect x="322.72" y="643.21" width="2.26" height="2.26" fill="#a82430" opacity="0.45"/><rect x="324.83" y="643.21" width="2.26" height="2.26" fill="#d42c30" opacity="0.8"/><rect x="326.94" y="643.21" width="2.26" height="2.26" fill="#a82430" opacity="0.45"/><rect x="331.15" y="643.21" width="2.26" height="2.26" fill="#a82430" opacity="0.6"/><rect x="333.26" y="643.21" width="2.26" height="2.26" fill="#d42c30" opacity="0.8"/><rect x="335.37" y="643.21" width="2.26" height="2.26" fill="#a82430" opacity="0.75"/><rect x="337.48" y="643.21" width="2.26" height="2.26" fill="#a82430" opacity="0.45"/><rect x="320.61" y="645.32" width="2.26" height="2.26" fill="#d42c30" opacity="0.8"/><rect x="322.72" y="645.32" width="2.26" height="2.26" fill="#d42c30" opacity="0.95"/><rect x="324.83" y="645.32" width="2.26" height="2.26" fill="#d42c30" opacity="0.8"/><rect x="326.94" y="645.32" width="2.26" height="2.26" fill="#d42c30" opacity="0.95"/><rect x="329.05" y="645.32" width="2.26" height="2.26" fill="#d42c30" opacity="0.8"/><rect x="331.15" y="645.32" width="2.26" height="2.26" fill="#d42c30" opacity="0.8"/><rect x="333.26" y="645.32" width="2.26" height="2.26" fill="#d42c30" opacity="0.8"/><rect x="335.37" y="645.32" width="2.26" height="2.26" fill="#d42c30" opacity="0.9"/><rect x="337.48" y="645.32" width="2.26" height="2.26" fill="#d42c30" opacity="0.95"/><rect x="318.5" y="647.43" width="2.26" height="2.26" fill="#e8382c" opacity="1"/><rect x="320.61" y="647.43" width="2.26" height="2.26" fill="#e8382c" opacity="1"/><rect x="322.72" y="647.43" width="2.26" height="2.26" fill="#e8382c" opacity="1"/><rect x="324.83" y="647.43" width="2.26" height="2.26" fill="#e8382c" opacity="1"/><rect x="326.94" y="647.43" width="2.26" height="2.26" fill="#e8382c" opacity="1"/><rect x="329.05" y="647.43" width="2.26" height="2.26" fill="#e8382c" opacity="1"/><rect x="331.15" y="647.43" width="2.26" height="2.26" fill="#e8382c" opacity="1"/><rect x="333.26" y="647.43" width="2.26" height="2.26" fill="#e8382c" opacity="1"/><rect x="335.37" y="647.43" width="2.26" height="2.26" fill="#e8382c" opacity="1"/><rect x="337.48" y="647.43" width="2.26" height="2.26" fill="#e8382c" opacity="1"/><rect x="339.59" y="647.43" width="2.26" height="2.26" fill="#e8382c" opacity="1"/><rect x="318.5" y="649.54" width="2.26" height="2.26" fill="#f07c24" opacity="1"/><rect x="320.61" y="649.54" width="2.26" height="2.26" fill="#f07c24" opacity="1"/><rect x="322.72" y="649.54" width="2.26" height="2.26" fill="#f07c24" opacity="1"/><rect x="324.83" y="649.54" width="2.26" height="2.26" fill="#f8a63c" opacity="1"/><rect x="326.94" y="649.54" width="2.26" height="2.26" fill="#f07c24" opacity="1"/><rect x="329.05" y="649.54" width="2.26" height="2.26" fill="#f07c24" opacity="1"/><rect x="331.15" y="649.54" width="2.26" height="2.26" fill="#f07c24" opacity="1"/><rect x="333.26" y="649.54" width="2.26" height="2.26" fill="#f8a63c" opacity="1"/><rect x="335.37" y="649.54" width="2.26" height="2.26" fill="#f07c24" opacity="1"/><rect x="337.48" y="649.54" width="2.26" height="2.26" fill="#f07c24" opacity="1"/><rect x="339.59" y="649.54" width="2.26" height="2.26" fill="#f07c24" opacity="1"/><rect x="318.5" y="651.66" width="2.26" height="2.26" fill="#fcd668" opacity="1"/><rect x="320.61" y="651.66" width="2.26" height="2.26" fill="#fcd668" opacity="1"/><rect x="322.72" y="651.66" width="2.26" height="2.26" fill="#fcd668" opacity="1"/><rect x="324.83" y="651.66" width="2.26" height="2.26" fill="#fcd668" opacity="1"/><rect x="326.94" y="651.66" width="2.26" height="2.26" fill="#fff6d4" opacity="1"/><rect x="329.05" y="651.66" width="2.26" height="2.26" fill="#fcd668" opacity="1"/><rect x="331.15" y="651.66" width="2.26" height="2.26" fill="#fcd668" opacity="1"/><rect x="333.26" y="651.66" width="2.26" height="2.26" fill="#f8a63c" opacity="1"/><rect x="335.37" y="651.66" width="2.26" height="2.26" fill="#fcd668" opacity="1"/><rect x="337.48" y="651.66" width="2.26" height="2.26" fill="#fcd668" opacity="1"/><rect x="339.59" y="651.66" width="2.26" height="2.26" fill="#fcd668" opacity="1"/><rect x="320.61" y="653.77" width="2.26" height="2.26" fill="#fff6d4" opacity="1"/><rect x="324.83" y="653.77" width="2.26" height="2.26" fill="#fcd668" opacity="1"/><rect x="326.94" y="653.77" width="2.26" height="2.26" fill="#fcd668" opacity="1"/><rect x="331.15" y="653.77" width="2.26" height="2.26" fill="#fff6d4" opacity="1"/><rect x="333.26" y="653.77" width="2.26" height="2.26" fill="#fcd668" opacity="1"/><rect x="335.37" y="653.77" width="2.26" height="2.26" fill="#fcd668" opacity="1"/><rect x="318.5" y="655.88" width="2.26" height="2.26" fill="#fff6d4" opacity="1"/><rect x="324.83" y="655.88" width="2.26" height="2.26" fill="#fcd668" opacity="1"/><rect x="326.94" y="655.88" width="2.26" height="2.26" fill="#f8a63c" opacity="1"/><rect x="333.26" y="655.88" width="2.26" height="2.26" fill="#fcd668" opacity="1"/><rect x="335.37" y="655.88" width="2.26" height="2.26" fill="#fcd668" opacity="1"/><rect x="337.48" y="655.88" width="2.26" height="2.26" fill="#fff6d4" opacity="1"/><rect x="324.83" y="657.99" width="2.26" height="2.26" fill="#f07c24" opacity="1"/><rect x="326.94" y="657.99" width="2.26" height="2.26" fill="#fcd668" opacity="1"/></g></g>
<rect x="286.1" y="599" width="89" height="88.5" fill="none" stroke="#777" stroke-width="0.7"/>
<rect x="285.5" y="598.4" width="90.2" height="89.7" fill="none" stroke="#222" stroke-width="1.2" stroke-dasharray="0.9 3.2"/>
<path d="M317,595.1 L323.8,595.1 L320.4,598.7 Z" fill="#111"/>
<path d="M282.7,653 L282.7,659.8 L286.3,656.4 Z" fill="#111"/>
<text x="289.4" y="605.5" font-size="5.6" text-anchor="middle" fill="#555">L</text>
<text x="371.6" y="605.5" font-size="5.6" text-anchor="middle" fill="#555">R</text>
<text x="382.5" y="610" font-size="5.6" text-anchor="middle" fill="#555">(Z)</text>
<circle cx="376.3" cy="627.8" r="0.55" fill="#333"/>
<text x="379.5" y="629.8" font-size="5.6" text-anchor="start" fill="#555">+5</text>
<circle cx="376.3" cy="651.7" r="0.55" fill="#333"/>
<text x="379.5" y="653.7" font-size="5.6" text-anchor="start" fill="#555">0</text>
<circle cx="376.3" cy="675.5" r="0.55" fill="#333"/>
<text x="379.5" y="677.5" font-size="5.6" text-anchor="start" fill="#555">-5</text>
<text x="306" y="695.7" font-size="5.6" text-anchor="middle" fill="#555">-5</text>
<text x="330.6" y="695.7" font-size="5.6" text-anchor="middle" fill="#555">0</text>
<text x="357.5" y="695.7" font-size="5.6" text-anchor="middle" fill="#555">+5 cm</text>
<text x="373.8" y="695.7" font-size="5.6" text-anchor="middle" fill="#555">(X)</text>
<clipPath id="bx4"><rect x="440.3" y="581.9" width="89.4" height="106.2"/></clipPath>
<rect x="440.3" y="581.9" width="89.4" height="106.2" fill="#f8f8f8"/>
<g clip-path="url(#bx4)"><g filter="url(#blur0_8)">
<ellipse cx="485" cy="635.4" rx="40.8" ry="49.9" fill="#808080"/>
<ellipse cx="485" cy="635.4" rx="39.8" ry="48.9" fill="#dedede"/>
<ellipse cx="485" cy="635.4" rx="36.599999999999994" ry="45.699999999999996" fill="#909090"/>
<ellipse cx="485" cy="635.6999999999999" rx="35.4" ry="44.5" fill="#848484"/>
</g>
<g filter="url(#blur1_2)">
<ellipse cx="469" cy="615.4" rx="11" ry="17" fill="#8e8e8e"/>
<ellipse cx="501" cy="615.4" rx="11" ry="17" fill="#8e8e8e"/>
<ellipse cx="476" cy="636.4" rx="7" ry="9" fill="#949494"/>
<ellipse cx="494" cy="636.4" rx="7" ry="9" fill="#949494"/>
<ellipse cx="485" cy="660.4" rx="19" ry="16" fill="#707070"/>
<ellipse cx="460" cy="647.4" rx="7" ry="18" fill="#8a8a8a"/>
<ellipse cx="510" cy="647.4" rx="7" ry="18" fill="#8a8a8a"/>
</g>
<g filter="url(#blur0_5)">
<line x1="485" y1="591.4" x2="485" y2="611.4" stroke="#5a5a5a" stroke-width="0.9"/>
<path d="M476.5,611.4 Q482,616.4 485,622.4 Q488,616.4 493.5,611.4" fill="none" stroke="#1c1c1c" stroke-width="1.5"/>
<path d="M485,622.4 L485,641.4" fill="none" stroke="#1c1c1c" stroke-width="1.5"/>
<path d="M470,653.4 Q474,644.4 484,642.4 M486,642.4 Q496,644.4 500,653.4" fill="none" stroke="#262626" stroke-width="1.8"/>
<ellipse cx="485" cy="647.4" rx="2.6" ry="6.5" fill="#1e1e1e"/>
<ellipse cx="485" cy="663.4" rx="5" ry="7" fill="#5a5a5a"/>
</g><g filter="url(#blur0_3)" opacity="0.75"><rect x="453.9" y="630.8" width="2.25" height="2.32" fill="#a82430" opacity="0.6"/><rect x="451.8" y="632.97" width="2.25" height="2.32" fill="#d42c30" opacity="0.9"/><rect x="453.9" y="632.97" width="2.25" height="2.32" fill="#d42c30" opacity="0.8"/><rect x="456" y="632.97" width="2.25" height="2.32" fill="#a82430" opacity="0.75"/><rect x="451.8" y="635.14" width="2.25" height="2.32" fill="#d42c30" opacity="0.95"/><rect x="453.9" y="635.14" width="2.25" height="2.32" fill="#e8382c" opacity="1"/><rect x="456" y="635.14" width="2.25" height="2.32" fill="#d42c30" opacity="0.9"/><rect x="460.2" y="635.14" width="2.25" height="2.32" fill="#a82430" opacity="0.75"/><rect x="451.8" y="637.31" width="2.25" height="2.32" fill="#e8382c" opacity="1"/><rect x="453.9" y="637.31" width="2.25" height="2.32" fill="#f07c24" opacity="1"/><rect x="456" y="637.31" width="2.25" height="2.32" fill="#e8382c" opacity="1"/><rect x="458.1" y="637.31" width="2.25" height="2.32" fill="#d42c30" opacity="0.95"/><rect x="451.8" y="639.48" width="2.25" height="2.32" fill="#f07c24" opacity="1"/><rect x="453.9" y="639.48" width="2.25" height="2.32" fill="#f07c24" opacity="1"/><rect x="456" y="639.48" width="2.25" height="2.32" fill="#e8382c" opacity="1"/><rect x="458.1" y="639.48" width="2.25" height="2.32" fill="#d42c30" opacity="0.95"/><rect x="451.8" y="641.65" width="2.25" height="2.32" fill="#f07c24" opacity="1"/><rect x="453.9" y="641.65" width="2.25" height="2.32" fill="#e8382c" opacity="1"/><rect x="456" y="641.65" width="2.25" height="2.32" fill="#e8382c" opacity="1"/><rect x="458.1" y="641.65" width="2.25" height="2.32" fill="#a82430" opacity="0.6"/><rect x="451.8" y="643.82" width="2.25" height="2.32" fill="#d42c30" opacity="0.8"/><rect x="453.9" y="643.82" width="2.25" height="2.32" fill="#e8382c" opacity="1"/><rect x="456" y="643.82" width="2.25" height="2.32" fill="#d42c30" opacity="0.9"/><rect x="453.9" y="645.99" width="2.25" height="2.32" fill="#d42c30" opacity="0.9"/><rect x="456" y="645.99" width="2.25" height="2.32" fill="#a82430" opacity="0.6"/><rect x="460.2" y="645.99" width="2.25" height="2.32" fill="#a82430" opacity="0.45"/><rect x="456" y="648.16" width="2.25" height="2.32" fill="#a82430" opacity="0.75"/><rect x="453.9" y="650.33" width="2.25" height="2.32" fill="#a82430" opacity="0.6"/><rect x="460.2" y="650.33" width="2.25" height="2.32" fill="#a82430" opacity="0.6"/></g><g filter="url(#blur0_3)" opacity="0.85"><rect x="511.65" y="615.9" width="2.21" height="2.29" fill="#a82430" opacity="0.6"/><rect x="509.59" y="618.04" width="2.21" height="2.29" fill="#a82430" opacity="0.6"/><rect x="511.65" y="618.04" width="2.21" height="2.29" fill="#a82430" opacity="0.75"/><rect x="515.77" y="618.04" width="2.21" height="2.29" fill="#a82430" opacity="0.45"/><rect x="507.52" y="620.18" width="2.21" height="2.29" fill="#a82430" opacity="0.75"/><rect x="511.65" y="620.18" width="2.21" height="2.29" fill="#d42c30" opacity="0.95"/><rect x="513.71" y="620.18" width="2.21" height="2.29" fill="#a82430" opacity="0.45"/><rect x="509.59" y="622.32" width="2.21" height="2.29" fill="#d42c30" opacity="0.9"/><rect x="511.65" y="622.32" width="2.21" height="2.29" fill="#d42c30" opacity="0.8"/><rect x="513.71" y="622.32" width="2.21" height="2.29" fill="#d42c30" opacity="0.95"/><rect x="507.52" y="624.46" width="2.21" height="2.29" fill="#d42c30" opacity="0.8"/><rect x="509.59" y="624.46" width="2.21" height="2.29" fill="#d42c30" opacity="0.9"/><rect x="511.65" y="624.46" width="2.21" height="2.29" fill="#e8382c" opacity="1"/><rect x="513.71" y="624.46" width="2.21" height="2.29" fill="#d42c30" opacity="0.95"/><rect x="515.77" y="624.46" width="2.21" height="2.29" fill="#a82430" opacity="0.75"/><rect x="507.52" y="626.6" width="2.21" height="2.29" fill="#d42c30" opacity="0.8"/><rect x="509.59" y="626.6" width="2.21" height="2.29" fill="#e8382c" opacity="1"/><rect x="511.65" y="626.6" width="2.21" height="2.29" fill="#f07c24" opacity="1"/><rect x="513.71" y="626.6" width="2.21" height="2.29" fill="#f07c24" opacity="1"/><rect x="515.77" y="626.6" width="2.21" height="2.29" fill="#d42c30" opacity="0.8"/><rect x="505.46" y="628.74" width="2.21" height="2.29" fill="#a82430" opacity="0.6"/><rect x="507.52" y="628.74" width="2.21" height="2.29" fill="#d42c30" opacity="0.95"/><rect x="509.59" y="628.74" width="2.21" height="2.29" fill="#e8382c" opacity="1"/><rect x="511.65" y="628.74" width="2.21" height="2.29" fill="#fcd668" opacity="1"/><rect x="513.71" y="628.74" width="2.21" height="2.29" fill="#fff6d4" opacity="1"/><rect x="515.77" y="628.74" width="2.21" height="2.29" fill="#f07c24" opacity="1"/><rect x="505.46" y="630.88" width="2.21" height="2.29" fill="#d42c30" opacity="0.9"/><rect x="507.52" y="630.88" width="2.21" height="2.29" fill="#e8382c" opacity="1"/><rect x="509.59" y="630.88" width="2.21" height="2.29" fill="#f07c24" opacity="1"/><rect x="511.65" y="630.88" width="2.21" height="2.29" fill="#fcd668" opacity="1"/><rect x="513.71" y="630.88" width="2.21" height="2.29" fill="#fff6d4" opacity="1"/><rect x="515.77" y="630.88" width="2.21" height="2.29" fill="#fcd668" opacity="1"/><rect x="507.52" y="633.02" width="2.21" height="2.29" fill="#d42c30" opacity="0.8"/><rect x="509.59" y="633.02" width="2.21" height="2.29" fill="#e8382c" opacity="1"/><rect x="511.65" y="633.02" width="2.21" height="2.29" fill="#f07c24" opacity="1"/><rect x="513.71" y="633.02" width="2.21" height="2.29" fill="#fcd668" opacity="1"/><rect x="515.77" y="633.02" width="2.21" height="2.29" fill="#f07c24" opacity="1"/><rect x="507.52" y="635.16" width="2.21" height="2.29" fill="#d42c30" opacity="0.95"/><rect x="509.59" y="635.16" width="2.21" height="2.29" fill="#d42c30" opacity="0.8"/><rect x="511.65" y="635.16" width="2.21" height="2.29" fill="#e8382c" opacity="1"/><rect x="513.71" y="635.16" width="2.21" height="2.29" fill="#f07c24" opacity="1"/><rect x="515.77" y="635.16" width="2.21" height="2.29" fill="#e8382c" opacity="1"/><rect x="509.59" y="637.3" width="2.21" height="2.29" fill="#d42c30" opacity="0.8"/><rect x="511.65" y="637.3" width="2.21" height="2.29" fill="#e8382c" opacity="1"/><rect x="513.71" y="637.3" width="2.21" height="2.29" fill="#e8382c" opacity="1"/><rect x="515.77" y="637.3" width="2.21" height="2.29" fill="#d42c30" opacity="0.9"/><rect x="507.52" y="639.44" width="2.21" height="2.29" fill="#a82430" opacity="0.45"/><rect x="509.59" y="639.44" width="2.21" height="2.29" fill="#d42c30" opacity="0.8"/><rect x="511.65" y="639.44" width="2.21" height="2.29" fill="#d42c30" opacity="0.8"/><rect x="513.71" y="639.44" width="2.21" height="2.29" fill="#e8382c" opacity="1"/><rect x="515.77" y="639.44" width="2.21" height="2.29" fill="#d42c30" opacity="0.8"/><rect x="509.59" y="641.58" width="2.21" height="2.29" fill="#a82430" opacity="0.45"/><rect x="511.65" y="641.58" width="2.21" height="2.29" fill="#d42c30" opacity="0.9"/><rect x="513.71" y="641.58" width="2.21" height="2.29" fill="#d42c30" opacity="0.95"/><rect x="511.65" y="643.72" width="2.21" height="2.29" fill="#a82430" opacity="0.75"/><rect x="513.71" y="643.72" width="2.21" height="2.29" fill="#d42c30" opacity="0.95"/><rect x="513.71" y="645.86" width="2.21" height="2.29" fill="#a82430" opacity="0.45"/></g></g>
<rect x="440.3" y="581.9" width="89.4" height="106.2" fill="none" stroke="#777" stroke-width="0.7"/>
<rect x="439.7" y="581.3" width="90.6" height="107.4" fill="none" stroke="#222" stroke-width="1.2" stroke-dasharray="0.9 3.2"/>
<path d="M512.6,578.1 L519.4,578.1 L516,581.7 Z" fill="#111"/>
<path d="M436.9,630.3 L436.9,637.1 L440.5,633.7 Z" fill="#111"/>
<text x="443.5" y="588.5" font-size="5.6" text-anchor="middle" fill="#555">L</text>
<text x="526.3" y="588.5" font-size="5.6" text-anchor="middle" fill="#555">R</text>
<text x="537" y="589.2" font-size="5.6" text-anchor="middle" fill="#555">(Y)</text>
<circle cx="531" cy="601.6" r="0.55" fill="#333"/>
<text x="534.2" y="603.6" font-size="5.6" text-anchor="start" fill="#555">+5</text>
<circle cx="531" cy="625.7" r="0.55" fill="#333"/>
<text x="534.2" y="627.7" font-size="5.6" text-anchor="start" fill="#555">0</text>
<circle cx="531" cy="650.7" r="0.55" fill="#333"/>
<text x="534.2" y="652.7" font-size="5.6" text-anchor="start" fill="#555">-5</text>
<circle cx="531" cy="675" r="0.55" fill="#333"/>
<text x="534.2" y="677" font-size="5.6" text-anchor="start" fill="#555">-10</text>
<text x="459.4" y="697" font-size="5.6" text-anchor="middle" fill="#555">-5</text>
<text x="485" y="697" font-size="5.6" text-anchor="middle" fill="#555">0</text>
<text x="511.5" y="697" font-size="5.6" text-anchor="middle" fill="#555">+5 cm</text>
<text x="527.8" y="697" font-size="5.6" text-anchor="middle" fill="#555">(X)</text>
<clipPath id="bx5"><rect x="552" y="597" width="106.9" height="89"/></clipPath>
<rect x="552" y="597" width="106.9" height="89" fill="#f8f8f8"/>
<g clip-path="url(#bx5)"><g filter="url(#blur3)">
<path d="M577,646 C578,622 596,618 608,618.5 C626,619 640,632 637.5,648 C636,662 628,672 618,682" fill="none" stroke="#7c7c7c" stroke-width="6"/>
<path d="M576,652 L597,662 L602,690 L572,690 Z" fill="#b4b4b4"/>
<path d="M618,668 Q629,676 625,690" fill="none" stroke="#b0b0b0" stroke-width="6"/>
<ellipse cx="611" cy="643" rx="15.5" ry="17" fill="#707070"/>
<ellipse cx="591" cy="641" rx="6.5" ry="11" fill="#d6d6d6"/>
</g>
<g filter="url(#blur2)">
<circle cx="608" cy="677.5" r="4.6" fill="#ececec"/>
<path d="M596,664 Q606,668 618,664" fill="none" stroke="#8a8a8a" stroke-width="3"/>
</g><g filter="url(#blur0_3)" opacity="0.85"><rect x="603.5" y="629.4" width="2.25" height="2.29" fill="#a82430" opacity="0.6"/><rect x="601.4" y="631.54" width="2.25" height="2.29" fill="#a82430" opacity="0.75"/><rect x="603.5" y="631.54" width="2.25" height="2.29" fill="#a82430" opacity="0.45"/><rect x="607.7" y="631.54" width="2.25" height="2.29" fill="#a82430" opacity="0.45"/><rect x="599.3" y="633.68" width="2.25" height="2.29" fill="#a82430" opacity="0.45"/><rect x="601.4" y="633.68" width="2.25" height="2.29" fill="#a82430" opacity="0.75"/><rect x="603.5" y="633.68" width="2.25" height="2.29" fill="#d42c30" opacity="0.8"/><rect x="605.6" y="633.68" width="2.25" height="2.29" fill="#a82430" opacity="0.45"/><rect x="611.9" y="633.68" width="2.25" height="2.29" fill="#a82430" opacity="0.45"/><rect x="599.3" y="635.82" width="2.25" height="2.29" fill="#a82430" opacity="0.6"/><rect x="601.4" y="635.82" width="2.25" height="2.29" fill="#d42c30" opacity="0.8"/><rect x="603.5" y="635.82" width="2.25" height="2.29" fill="#d42c30" opacity="0.95"/><rect x="605.6" y="635.82" width="2.25" height="2.29" fill="#d42c30" opacity="0.9"/><rect x="607.7" y="635.82" width="2.25" height="2.29" fill="#a82430" opacity="0.45"/><rect x="611.9" y="635.82" width="2.25" height="2.29" fill="#a82430" opacity="0.6"/><rect x="614" y="635.82" width="2.25" height="2.29" fill="#a82430" opacity="0.75"/><rect x="597.2" y="637.96" width="2.25" height="2.29" fill="#a82430" opacity="0.45"/><rect x="599.3" y="637.96" width="2.25" height="2.29" fill="#a82430" opacity="0.6"/><rect x="601.4" y="637.96" width="2.25" height="2.29" fill="#d42c30" opacity="0.95"/><rect x="603.5" y="637.96" width="2.25" height="2.29" fill="#d42c30" opacity="0.9"/><rect x="605.6" y="637.96" width="2.25" height="2.29" fill="#d42c30" opacity="0.9"/><rect x="607.7" y="637.96" width="2.25" height="2.29" fill="#d42c30" opacity="0.95"/><rect x="609.8" y="637.96" width="2.25" height="2.29" fill="#a82430" opacity="0.6"/><rect x="614" y="637.96" width="2.25" height="2.29" fill="#a82430" opacity="0.45"/><rect x="618.2" y="637.96" width="2.25" height="2.29" fill="#a82430" opacity="0.75"/><rect x="599.3" y="640.11" width="2.25" height="2.29" fill="#d42c30" opacity="0.95"/><rect x="601.4" y="640.11" width="2.25" height="2.29" fill="#d42c30" opacity="0.95"/><rect x="603.5" y="640.11" width="2.25" height="2.29" fill="#e8382c" opacity="1"/><rect x="605.6" y="640.11" width="2.25" height="2.29" fill="#e8382c" opacity="1"/><rect x="607.7" y="640.11" width="2.25" height="2.29" fill="#d42c30" opacity="0.95"/><rect x="609.8" y="640.11" width="2.25" height="2.29" fill="#d42c30" opacity="0.95"/><rect x="611.9" y="640.11" width="2.25" height="2.29" fill="#a82430" opacity="0.45"/><rect x="616.1" y="640.11" width="2.25" height="2.29" fill="#a82430" opacity="0.45"/><rect x="618.2" y="640.11" width="2.25" height="2.29" fill="#a82430" opacity="0.75"/><rect x="599.3" y="642.25" width="2.25" height="2.29" fill="#d42c30" opacity="0.9"/><rect x="601.4" y="642.25" width="2.25" height="2.29" fill="#e8382c" opacity="1"/><rect x="603.5" y="642.25" width="2.25" height="2.29" fill="#f07c24" opacity="1"/><rect x="605.6" y="642.25" width="2.25" height="2.29" fill="#f8a63c" opacity="1"/><rect x="607.7" y="642.25" width="2.25" height="2.29" fill="#e8382c" opacity="1"/><rect x="609.8" y="642.25" width="2.25" height="2.29" fill="#d42c30" opacity="0.8"/><rect x="611.9" y="642.25" width="2.25" height="2.29" fill="#d42c30" opacity="0.8"/><rect x="614" y="642.25" width="2.25" height="2.29" fill="#a82430" opacity="0.45"/><rect x="618.2" y="642.25" width="2.25" height="2.29" fill="#a82430" opacity="0.6"/><rect x="622.4" y="642.25" width="2.25" height="2.29" fill="#a82430" opacity="0.45"/><rect x="597.2" y="644.39" width="2.25" height="2.29" fill="#d42c30" opacity="0.95"/><rect x="599.3" y="644.39" width="2.25" height="2.29" fill="#e8382c" opacity="1"/><rect x="601.4" y="644.39" width="2.25" height="2.29" fill="#f07c24" opacity="1"/><rect x="603.5" y="644.39" width="2.25" height="2.29" fill="#fcd668" opacity="1"/><rect x="605.6" y="644.39" width="2.25" height="2.29" fill="#fff6d4" opacity="1"/><rect x="607.7" y="644.39" width="2.25" height="2.29" fill="#f07c24" opacity="1"/><rect x="609.8" y="644.39" width="2.25" height="2.29" fill="#e8382c" opacity="1"/><rect x="611.9" y="644.39" width="2.25" height="2.29" fill="#d42c30" opacity="0.8"/><rect x="614" y="644.39" width="2.25" height="2.29" fill="#a82430" opacity="0.75"/><rect x="618.2" y="644.39" width="2.25" height="2.29" fill="#a82430" opacity="0.75"/><rect x="620.3" y="644.39" width="2.25" height="2.29" fill="#a82430" opacity="0.6"/><rect x="597.2" y="646.53" width="2.25" height="2.29" fill="#d42c30" opacity="0.95"/><rect x="599.3" y="646.53" width="2.25" height="2.29" fill="#e8382c" opacity="1"/><rect x="601.4" y="646.53" width="2.25" height="2.29" fill="#f07c24" opacity="1"/><rect x="603.5" y="646.53" width="2.25" height="2.29" fill="#fcd668" opacity="1"/><rect x="605.6" y="646.53" width="2.25" height="2.29" fill="#fff6d4" opacity="1"/><rect x="607.7" y="646.53" width="2.25" height="2.29" fill="#fcd668" opacity="1"/><rect x="609.8" y="646.53" width="2.25" height="2.29" fill="#f07c24" opacity="1"/><rect x="611.9" y="646.53" width="2.25" height="2.29" fill="#e8382c" opacity="1"/><rect x="614" y="646.53" width="2.25" height="2.29" fill="#d42c30" opacity="0.95"/><rect x="616.1" y="646.53" width="2.25" height="2.29" fill="#a82430" opacity="0.45"/><rect x="618.2" y="646.53" width="2.25" height="2.29" fill="#a82430" opacity="0.75"/><rect x="622.4" y="646.53" width="2.25" height="2.29" fill="#a82430" opacity="0.75"/><rect x="597.2" y="648.67" width="2.25" height="2.29" fill="#d42c30" opacity="0.9"/><rect x="599.3" y="648.67" width="2.25" height="2.29" fill="#e8382c" opacity="1"/><rect x="601.4" y="648.67" width="2.25" height="2.29" fill="#f07c24" opacity="1"/><rect x="603.5" y="648.67" width="2.25" height="2.29" fill="#fcd668" opacity="1"/><rect x="605.6" y="648.67" width="2.25" height="2.29" fill="#fff6d4" opacity="1"/><rect x="607.7" y="648.67" width="2.25" height="2.29" fill="#fff6d4" opacity="1"/><rect x="609.8" y="648.67" width="2.25" height="2.29" fill="#f07c24" opacity="1"/><rect x="611.9" y="648.67" width="2.25" height="2.29" fill="#e8382c" opacity="1"/><rect x="614" y="648.67" width="2.25" height="2.29" fill="#d42c30" opacity="0.9"/><rect x="616.1" y="648.67" width="2.25" height="2.29" fill="#a82430" opacity="0.6"/><rect x="620.3" y="648.67" width="2.25" height="2.29" fill="#a82430" opacity="0.45"/><rect x="599.3" y="650.81" width="2.25" height="2.29" fill="#e8382c" opacity="1"/><rect x="601.4" y="650.81" width="2.25" height="2.29" fill="#f07c24" opacity="1"/><rect x="603.5" y="650.81" width="2.25" height="2.29" fill="#fcd668" opacity="1"/><rect x="605.6" y="650.81" width="2.25" height="2.29" fill="#fff6d4" opacity="1"/><rect x="607.7" y="650.81" width="2.25" height="2.29" fill="#fff6d4" opacity="1"/><rect x="609.8" y="650.81" width="2.25" height="2.29" fill="#f07c24" opacity="1"/><rect x="611.9" y="650.81" width="2.25" height="2.29" fill="#e8382c" opacity="1"/><rect x="614" y="650.81" width="2.25" height="2.29" fill="#d42c30" opacity="0.8"/><rect x="616.1" y="650.81" width="2.25" height="2.29" fill="#a82430" opacity="0.6"/><rect x="618.2" y="650.81" width="2.25" height="2.29" fill="#a82430" opacity="0.45"/><rect x="599.3" y="652.95" width="2.25" height="2.29" fill="#e8382c" opacity="1"/><rect x="601.4" y="652.95" width="2.25" height="2.29" fill="#f07c24" opacity="1"/><rect x="603.5" y="652.95" width="2.25" height="2.29" fill="#fcd668" opacity="1"/><rect x="605.6" y="652.95" width="2.25" height="2.29" fill="#fff6d4" opacity="1"/><rect x="607.7" y="652.95" width="2.25" height="2.29" fill="#fcd668" opacity="1"/><rect x="609.8" y="652.95" width="2.25" height="2.29" fill="#f07c24" opacity="1"/><rect x="611.9" y="652.95" width="2.25" height="2.29" fill="#e8382c" opacity="1"/><rect x="614" y="652.95" width="2.25" height="2.29" fill="#d42c30" opacity="0.9"/><rect x="616.1" y="652.95" width="2.25" height="2.29" fill="#a82430" opacity="0.6"/><rect x="620.3" y="652.95" width="2.25" height="2.29" fill="#a82430" opacity="0.45"/><rect x="599.3" y="655.09" width="2.25" height="2.29" fill="#d42c30" opacity="0.95"/><rect x="601.4" y="655.09" width="2.25" height="2.29" fill="#f8a63c" opacity="1"/><rect x="603.5" y="655.09" width="2.25" height="2.29" fill="#fcd668" opacity="1"/><rect x="605.6" y="655.09" width="2.25" height="2.29" fill="#fff6d4" opacity="1"/><rect x="607.7" y="655.09" width="2.25" height="2.29" fill="#fcd668" opacity="1"/><rect x="609.8" y="655.09" width="2.25" height="2.29" fill="#f07c24" opacity="1"/><rect x="611.9" y="655.09" width="2.25" height="2.29" fill="#e8382c" opacity="1"/><rect x="614" y="655.09" width="2.25" height="2.29" fill="#d42c30" opacity="0.9"/><rect x="616.1" y="655.09" width="2.25" height="2.29" fill="#a82430" opacity="0.45"/><rect x="599.3" y="657.24" width="2.25" height="2.29" fill="#d42c30" opacity="0.95"/><rect x="601.4" y="657.24" width="2.25" height="2.29" fill="#f8a63c" opacity="1"/><rect x="603.5" y="657.24" width="2.25" height="2.29" fill="#fcd668" opacity="1"/><rect x="605.6" y="657.24" width="2.25" height="2.29" fill="#fcd668" opacity="1"/><rect x="607.7" y="657.24" width="2.25" height="2.29" fill="#fcd668" opacity="1"/><rect x="609.8" y="657.24" width="2.25" height="2.29" fill="#f07c24" opacity="1"/><rect x="611.9" y="657.24" width="2.25" height="2.29" fill="#e8382c" opacity="1"/><rect x="614" y="657.24" width="2.25" height="2.29" fill="#d42c30" opacity="0.8"/><rect x="616.1" y="657.24" width="2.25" height="2.29" fill="#a82430" opacity="0.45"/><rect x="618.2" y="657.24" width="2.25" height="2.29" fill="#a82430" opacity="0.45"/><rect x="599.3" y="659.38" width="2.25" height="2.29" fill="#d42c30" opacity="0.8"/><rect x="601.4" y="659.38" width="2.25" height="2.29" fill="#f07c24" opacity="1"/><rect x="603.5" y="659.38" width="2.25" height="2.29" fill="#f07c24" opacity="1"/><rect x="605.6" y="659.38" width="2.25" height="2.29" fill="#fcd668" opacity="1"/><rect x="607.7" y="659.38" width="2.25" height="2.29" fill="#f07c24" opacity="1"/><rect x="609.8" y="659.38" width="2.25" height="2.29" fill="#f07c24" opacity="1"/><rect x="611.9" y="659.38" width="2.25" height="2.29" fill="#e8382c" opacity="1"/><rect x="614" y="659.38" width="2.25" height="2.29" fill="#d42c30" opacity="0.95"/><rect x="618.2" y="659.38" width="2.25" height="2.29" fill="#a82430" opacity="0.6"/><rect x="601.4" y="661.52" width="2.25" height="2.29" fill="#d42c30" opacity="0.95"/><rect x="603.5" y="661.52" width="2.25" height="2.29" fill="#e8382c" opacity="1"/><rect x="605.6" y="661.52" width="2.25" height="2.29" fill="#f07c24" opacity="1"/><rect x="607.7" y="661.52" width="2.25" height="2.29" fill="#e8382c" opacity="1"/><rect x="609.8" y="661.52" width="2.25" height="2.29" fill="#e8382c" opacity="1"/><rect x="611.9" y="661.52" width="2.25" height="2.29" fill="#d42c30" opacity="0.8"/><rect x="614" y="661.52" width="2.25" height="2.29" fill="#a82430" opacity="0.75"/><rect x="603.5" y="663.66" width="2.25" height="2.29" fill="#d42c30" opacity="0.9"/><rect x="605.6" y="663.66" width="2.25" height="2.29" fill="#d42c30" opacity="0.8"/><rect x="607.7" y="663.66" width="2.25" height="2.29" fill="#d42c30" opacity="0.9"/></g></g>
<rect x="552" y="597" width="106.9" height="89" fill="none" stroke="#777" stroke-width="0.7"/>
<rect x="551.4" y="596.4" width="108.1" height="90.2" fill="none" stroke="#222" stroke-width="1.2" stroke-dasharray="0.9 3.2"/>
<path d="M600.3,593.1 L607.1,593.1 L603.7,596.7 Z" fill="#111"/>
<path d="M548.6,646.7 L548.6,653.5 L552.2,650.1 Z" fill="#111"/>
<text x="555.4" y="603.6" font-size="5.6" text-anchor="middle" fill="#555">A</text>
<text x="655.4" y="603.6" font-size="5.6" text-anchor="middle" fill="#555">P</text>
<text x="666.5" y="608.2" font-size="5.6" text-anchor="middle" fill="#555">(Z)</text>
<circle cx="660.6" cy="626.6" r="0.55" fill="#333"/>
<text x="663.8" y="628.6" font-size="5.6" text-anchor="start" fill="#555">+5</text>
<circle cx="660.6" cy="650.1" r="0.55" fill="#333"/>
<text x="663.8" y="652.1" font-size="5.6" text-anchor="start" fill="#555">0</text>
<circle cx="660.6" cy="673.9" r="0.55" fill="#333"/>
<text x="663.8" y="675.9" font-size="5.6" text-anchor="start" fill="#555">-5</text>
<text x="556.8" y="694.3" font-size="5.6" text-anchor="middle" fill="#555">(Y)</text>
<text x="572.5" y="694.3" font-size="5.6" text-anchor="middle" fill="#555">+5</text>
<text x="596.8" y="694.3" font-size="5.6" text-anchor="middle" fill="#555">0</text>
<text x="619.5" y="694.3" font-size="5.6" text-anchor="middle" fill="#555">-5</text>
<text x="649" y="694.3" font-size="5.6" text-anchor="middle" fill="#555">-10 cm</text>
<clipPath id="bx6"><rect x="682.2" y="597" width="89.2" height="89.1"/></clipPath>
<rect x="682.2" y="597" width="89.2" height="89.1" fill="#f8f8f8"/>
<g clip-path="url(#bx6)"><g filter="url(#blur0_8)">
<path d="M686.5,651.4 C685.5,619.4 702.42,601.3 726.3,601.3 C750.18,601.3 767.1,619.4 766.1,651.4 C765.6,667.4 761.1,677.4 760.1,690.1 L692.5,690.1 C691.5,677.4 687,667.4 686.5,651.4 Z" fill="#7a7a7a"/>
<path d="M687.7,651.4 C686.7,619.4 703.14,602.5 726.3,602.5 C749.46,602.5 765.9,619.4 764.9,651.4 C764.4,667.4 759.9,677.4 758.9,690.1 L693.7,690.1 C692.7,677.4 688.2,667.4 687.7,651.4 Z" fill="#e0e0e0"/>
<path d="M691.1,651.4 C690.1,619.4 705.18,605.9 726.3,605.9 C747.42,605.9 762.5,619.4 761.5,651.4 C761,667.4 756.5,677.4 755.5,690.1 L697.1,690.1 C696.1,677.4 691.6,667.4 691.1,651.4 Z" fill="#9a9a9a"/>
<path d="M692.8,649.4 C691.3,621.4 706.3,607.4 726.3,607.9 C746.3,607.4 761.3,621.4 759.8,649.4 C759.3,663.4 750.3,670.4 736.3,670.4 L716.3,670.4 C702.3,670.4 693.3,663.4 692.8,649.4 Z" fill="#8a8a8a"/>
</g>
<g filter="url(#blur1_2)">
<ellipse cx="711.3" cy="631.4" rx="11" ry="15" fill="#9a9a9a"/>
<ellipse cx="741.3" cy="631.4" rx="11" ry="15" fill="#9a9a9a"/>
<path d="M695.3,670.4 Q726.3,665.4 757.3,670.4 L756.3,690.1 L696.3,690.1 Z" fill="#c8c8c8"/>
<ellipse cx="726.3" cy="668.4" rx="7.5" ry="8.5" fill="#6a6a6a"/>
<ellipse cx="712.3" cy="670.4" rx="6" ry="4" fill="#8a8a8a"/>
<ellipse cx="740.3" cy="670.4" rx="6" ry="4" fill="#8a8a8a"/>
<ellipse cx="712.8" cy="659.4" rx="5" ry="3.4" fill="#585858"/>
<ellipse cx="739.8" cy="658.9" rx="5" ry="3.4" fill="#585858"/>
</g>
<g filter="url(#blur0_5)">
<line x1="726.3" y1="610.4" x2="726.3" y2="637.4" stroke="#444" stroke-width="1"/>
<path d="M723.3,606.4 L726.3,611.4 L729.3,606.4 Z" fill="#d8d8d8"/>
<path d="M717.3,635.4 Q720.3,641.9 726.3,639.4 Q732.3,641.9 735.3,635.4 Q730.3,636.9 726.3,636.9 Q722.3,636.9 717.3,635.4 Z" fill="#0e0e0e" stroke="#0e0e0e" stroke-width="0.8"/>
<line x1="726.3" y1="640.4" x2="726.3" y2="649.4" stroke="#333" stroke-width="1"/>
<ellipse cx="726.3" cy="652.4" rx="1.2" ry="1.8" fill="#111"/>
<ellipse cx="726.3" cy="658.4" rx="1.6" ry="2.4" fill="#111"/>
</g><g filter="url(#blur0_3)" opacity="0.62"><rect x="695.36" y="631.4" width="2.31" height="2.26" fill="#a82430" opacity="0.45"/><rect x="693.2" y="633.51" width="2.31" height="2.26" fill="#a82430" opacity="0.75"/><rect x="697.53" y="633.51" width="2.31" height="2.26" fill="#a82430" opacity="0.45"/><rect x="695.36" y="635.61" width="2.31" height="2.26" fill="#a82430" opacity="0.45"/><rect x="699.69" y="635.61" width="2.31" height="2.26" fill="#a82430" opacity="0.45"/><rect x="695.36" y="639.82" width="2.31" height="2.26" fill="#d42c30" opacity="0.95"/><rect x="697.53" y="639.82" width="2.31" height="2.26" fill="#a82430" opacity="0.6"/><rect x="704.02" y="639.82" width="2.31" height="2.26" fill="#a82430" opacity="0.45"/><rect x="693.2" y="641.93" width="2.31" height="2.26" fill="#d42c30" opacity="0.95"/><rect x="695.36" y="641.93" width="2.31" height="2.26" fill="#d42c30" opacity="0.9"/><rect x="697.53" y="641.93" width="2.31" height="2.26" fill="#d42c30" opacity="0.9"/><rect x="699.69" y="641.93" width="2.31" height="2.26" fill="#d42c30" opacity="0.8"/><rect x="701.85" y="641.93" width="2.31" height="2.26" fill="#a82430" opacity="0.45"/><rect x="704.02" y="641.93" width="2.31" height="2.26" fill="#d42c30" opacity="0.8"/><rect x="706.18" y="641.93" width="2.31" height="2.26" fill="#a82430" opacity="0.6"/><rect x="693.2" y="644.03" width="2.31" height="2.26" fill="#e8382c" opacity="1"/><rect x="695.36" y="644.03" width="2.31" height="2.26" fill="#d42c30" opacity="0.95"/><rect x="697.53" y="644.03" width="2.31" height="2.26" fill="#d42c30" opacity="0.9"/><rect x="699.69" y="644.03" width="2.31" height="2.26" fill="#d42c30" opacity="0.8"/><rect x="701.85" y="644.03" width="2.31" height="2.26" fill="#d42c30" opacity="0.95"/><rect x="704.02" y="644.03" width="2.31" height="2.26" fill="#d42c30" opacity="0.9"/><rect x="706.18" y="644.03" width="2.31" height="2.26" fill="#a82430" opacity="0.75"/><rect x="693.2" y="646.14" width="2.31" height="2.26" fill="#d42c30" opacity="0.95"/><rect x="695.36" y="646.14" width="2.31" height="2.26" fill="#d42c30" opacity="0.9"/><rect x="699.69" y="646.14" width="2.31" height="2.26" fill="#d42c30" opacity="0.9"/><rect x="701.85" y="646.14" width="2.31" height="2.26" fill="#d42c30" opacity="0.8"/><rect x="706.18" y="646.14" width="2.31" height="2.26" fill="#d42c30" opacity="0.95"/><rect x="693.2" y="648.24" width="2.31" height="2.26" fill="#e8382c" opacity="1"/><rect x="695.36" y="648.24" width="2.31" height="2.26" fill="#d42c30" opacity="0.95"/><rect x="697.53" y="648.24" width="2.31" height="2.26" fill="#d42c30" opacity="0.9"/><rect x="701.85" y="648.24" width="2.31" height="2.26" fill="#d42c30" opacity="0.9"/><rect x="704.02" y="648.24" width="2.31" height="2.26" fill="#d42c30" opacity="0.8"/><rect x="706.18" y="648.24" width="2.31" height="2.26" fill="#a82430" opacity="0.45"/><rect x="693.2" y="650.35" width="2.31" height="2.26" fill="#d42c30" opacity="0.8"/><rect x="695.36" y="650.35" width="2.31" height="2.26" fill="#d42c30" opacity="0.95"/><rect x="699.69" y="650.35" width="2.31" height="2.26" fill="#d42c30" opacity="0.9"/><rect x="701.85" y="650.35" width="2.31" height="2.26" fill="#d42c30" opacity="0.95"/><rect x="704.02" y="650.35" width="2.31" height="2.26" fill="#d42c30" opacity="0.8"/><rect x="693.2" y="652.46" width="2.31" height="2.26" fill="#e8382c" opacity="1"/><rect x="695.36" y="652.46" width="2.31" height="2.26" fill="#d42c30" opacity="0.8"/><rect x="697.53" y="652.46" width="2.31" height="2.26" fill="#d42c30" opacity="0.9"/><rect x="701.85" y="652.46" width="2.31" height="2.26" fill="#d42c30" opacity="0.8"/><rect x="704.02" y="652.46" width="2.31" height="2.26" fill="#d42c30" opacity="0.9"/><rect x="693.2" y="654.56" width="2.31" height="2.26" fill="#d42c30" opacity="0.9"/><rect x="695.36" y="654.56" width="2.31" height="2.26" fill="#d42c30" opacity="0.9"/><rect x="699.69" y="654.56" width="2.31" height="2.26" fill="#d42c30" opacity="0.9"/><rect x="704.02" y="654.56" width="2.31" height="2.26" fill="#d42c30" opacity="0.8"/><rect x="706.18" y="654.56" width="2.31" height="2.26" fill="#d42c30" opacity="0.95"/><rect x="693.2" y="656.67" width="2.31" height="2.26" fill="#e8382c" opacity="1"/><rect x="695.36" y="656.67" width="2.31" height="2.26" fill="#d42c30" opacity="0.8"/><rect x="701.85" y="656.67" width="2.31" height="2.26" fill="#d42c30" opacity="0.95"/><rect x="704.02" y="656.67" width="2.31" height="2.26" fill="#d42c30" opacity="0.9"/><rect x="706.18" y="656.67" width="2.31" height="2.26" fill="#d42c30" opacity="0.8"/><rect x="710.51" y="656.67" width="2.31" height="2.26" fill="#a82430" opacity="0.6"/><rect x="693.2" y="658.77" width="2.31" height="2.26" fill="#d42c30" opacity="0.8"/><rect x="695.36" y="658.77" width="2.31" height="2.26" fill="#d42c30" opacity="0.95"/><rect x="697.53" y="658.77" width="2.31" height="2.26" fill="#d42c30" opacity="0.9"/><rect x="704.02" y="658.77" width="2.31" height="2.26" fill="#d42c30" opacity="0.95"/><rect x="706.18" y="658.77" width="2.31" height="2.26" fill="#d42c30" opacity="0.9"/><rect x="708.35" y="658.77" width="2.31" height="2.26" fill="#d42c30" opacity="0.95"/><rect x="710.51" y="658.77" width="2.31" height="2.26" fill="#d42c30" opacity="0.8"/><rect x="695.36" y="660.88" width="2.31" height="2.26" fill="#d42c30" opacity="0.9"/><rect x="697.53" y="660.88" width="2.31" height="2.26" fill="#d42c30" opacity="0.95"/><rect x="701.85" y="660.88" width="2.31" height="2.26" fill="#d42c30" opacity="0.95"/><rect x="706.18" y="660.88" width="2.31" height="2.26" fill="#d42c30" opacity="0.95"/><rect x="708.35" y="660.88" width="2.31" height="2.26" fill="#d42c30" opacity="0.8"/><rect x="710.51" y="660.88" width="2.31" height="2.26" fill="#d42c30" opacity="0.95"/><rect x="712.67" y="660.88" width="2.31" height="2.26" fill="#d42c30" opacity="0.9"/><rect x="695.36" y="662.98" width="2.31" height="2.26" fill="#d42c30" opacity="0.8"/><rect x="697.53" y="662.98" width="2.31" height="2.26" fill="#d42c30" opacity="0.95"/><rect x="699.69" y="662.98" width="2.31" height="2.26" fill="#d42c30" opacity="0.95"/><rect x="701.85" y="662.98" width="2.31" height="2.26" fill="#d42c30" opacity="0.9"/><rect x="706.18" y="662.98" width="2.31" height="2.26" fill="#d42c30" opacity="0.8"/><rect x="708.35" y="662.98" width="2.31" height="2.26" fill="#d42c30" opacity="0.9"/><rect x="710.51" y="662.98" width="2.31" height="2.26" fill="#d42c30" opacity="0.95"/><rect x="712.67" y="662.98" width="2.31" height="2.26" fill="#a82430" opacity="0.6"/><rect x="697.53" y="665.09" width="2.31" height="2.26" fill="#d42c30" opacity="0.95"/><rect x="699.69" y="665.09" width="2.31" height="2.26" fill="#d42c30" opacity="0.8"/><rect x="701.85" y="665.09" width="2.31" height="2.26" fill="#d42c30" opacity="0.8"/><rect x="704.02" y="665.09" width="2.31" height="2.26" fill="#d42c30" opacity="0.95"/><rect x="706.18" y="665.09" width="2.31" height="2.26" fill="#d42c30" opacity="0.9"/><rect x="708.35" y="665.09" width="2.31" height="2.26" fill="#d42c30" opacity="0.95"/><rect x="710.51" y="665.09" width="2.31" height="2.26" fill="#d42c30" opacity="0.9"/><rect x="699.69" y="667.19" width="2.31" height="2.26" fill="#d42c30" opacity="0.9"/><rect x="701.85" y="667.19" width="2.31" height="2.26" fill="#a82430" opacity="0.45"/><rect x="704.02" y="667.19" width="2.31" height="2.26" fill="#d42c30" opacity="0.95"/><rect x="706.18" y="667.19" width="2.31" height="2.26" fill="#d42c30" opacity="0.9"/><rect x="708.35" y="667.19" width="2.31" height="2.26" fill="#a82430" opacity="0.45"/></g><g filter="url(#blur0_3)" opacity="0.78"><rect x="754.2" y="627.2" width="2.25" height="2.26" fill="#a82430" opacity="0.75"/><rect x="752.1" y="629.31" width="2.25" height="2.26" fill="#a82430" opacity="0.6"/><rect x="754.2" y="629.31" width="2.25" height="2.26" fill="#a82430" opacity="0.6"/><rect x="750" y="631.41" width="2.25" height="2.26" fill="#a82430" opacity="0.75"/><rect x="752.1" y="631.41" width="2.25" height="2.26" fill="#d42c30" opacity="0.95"/><rect x="754.2" y="631.41" width="2.25" height="2.26" fill="#a82430" opacity="0.6"/><rect x="747.9" y="633.52" width="2.25" height="2.26" fill="#a82430" opacity="0.45"/><rect x="752.1" y="633.52" width="2.25" height="2.26" fill="#d42c30" opacity="0.95"/><rect x="754.2" y="633.52" width="2.25" height="2.26" fill="#d42c30" opacity="0.9"/><rect x="756.3" y="633.52" width="2.25" height="2.26" fill="#a82430" opacity="0.75"/><rect x="745.8" y="635.62" width="2.25" height="2.26" fill="#a82430" opacity="0.75"/><rect x="750" y="635.62" width="2.25" height="2.26" fill="#d42c30" opacity="0.9"/><rect x="752.1" y="635.62" width="2.25" height="2.26" fill="#d42c30" opacity="0.95"/><rect x="754.2" y="635.62" width="2.25" height="2.26" fill="#d42c30" opacity="0.8"/><rect x="756.3" y="635.62" width="2.25" height="2.26" fill="#a82430" opacity="0.45"/><rect x="743.7" y="637.73" width="2.25" height="2.26" fill="#a82430" opacity="0.75"/><rect x="750" y="637.73" width="2.25" height="2.26" fill="#d42c30" opacity="0.95"/><rect x="752.1" y="637.73" width="2.25" height="2.26" fill="#d42c30" opacity="0.9"/><rect x="754.2" y="637.73" width="2.25" height="2.26" fill="#d42c30" opacity="0.8"/><rect x="756.3" y="637.73" width="2.25" height="2.26" fill="#d42c30" opacity="0.95"/><rect x="737.4" y="639.83" width="2.25" height="2.26" fill="#a82430" opacity="0.45"/><rect x="743.7" y="639.83" width="2.25" height="2.26" fill="#d42c30" opacity="0.8"/><rect x="745.8" y="639.83" width="2.25" height="2.26" fill="#d42c30" opacity="0.9"/><rect x="747.9" y="639.83" width="2.25" height="2.26" fill="#d42c30" opacity="0.95"/><rect x="750" y="639.83" width="2.25" height="2.26" fill="#d42c30" opacity="0.95"/><rect x="752.1" y="639.83" width="2.25" height="2.26" fill="#e8382c" opacity="1"/><rect x="754.2" y="639.83" width="2.25" height="2.26" fill="#d42c30" opacity="0.8"/><rect x="756.3" y="639.83" width="2.25" height="2.26" fill="#d42c30" opacity="0.9"/><rect x="739.5" y="641.94" width="2.25" height="2.26" fill="#d42c30" opacity="0.8"/><rect x="741.6" y="641.94" width="2.25" height="2.26" fill="#d42c30" opacity="0.9"/><rect x="743.7" y="641.94" width="2.25" height="2.26" fill="#d42c30" opacity="0.9"/><rect x="745.8" y="641.94" width="2.25" height="2.26" fill="#d42c30" opacity="0.95"/><rect x="747.9" y="641.94" width="2.25" height="2.26" fill="#d42c30" opacity="0.9"/><rect x="750" y="641.94" width="2.25" height="2.26" fill="#e8382c" opacity="1"/><rect x="752.1" y="641.94" width="2.25" height="2.26" fill="#f07c24" opacity="1"/><rect x="754.2" y="641.94" width="2.25" height="2.26" fill="#f07c24" opacity="1"/><rect x="756.3" y="641.94" width="2.25" height="2.26" fill="#d42c30" opacity="0.8"/><rect x="739.5" y="644.04" width="2.25" height="2.26" fill="#d42c30" opacity="0.8"/><rect x="741.6" y="644.04" width="2.25" height="2.26" fill="#d42c30" opacity="0.8"/><rect x="743.7" y="644.04" width="2.25" height="2.26" fill="#d42c30" opacity="0.95"/><rect x="745.8" y="644.04" width="2.25" height="2.26" fill="#e8382c" opacity="1"/><rect x="747.9" y="644.04" width="2.25" height="2.26" fill="#f07c24" opacity="1"/><rect x="750" y="644.04" width="2.25" height="2.26" fill="#f07c24" opacity="1"/><rect x="752.1" y="644.04" width="2.25" height="2.26" fill="#fcd668" opacity="1"/><rect x="754.2" y="644.04" width="2.25" height="2.26" fill="#fcd668" opacity="1"/><rect x="756.3" y="644.04" width="2.25" height="2.26" fill="#f07c24" opacity="1"/><rect x="741.6" y="646.15" width="2.25" height="2.26" fill="#d42c30" opacity="0.95"/><rect x="743.7" y="646.15" width="2.25" height="2.26" fill="#d42c30" opacity="0.9"/><rect x="745.8" y="646.15" width="2.25" height="2.26" fill="#e8382c" opacity="1"/><rect x="747.9" y="646.15" width="2.25" height="2.26" fill="#f07c24" opacity="1"/><rect x="750" y="646.15" width="2.25" height="2.26" fill="#fcd668" opacity="1"/><rect x="752.1" y="646.15" width="2.25" height="2.26" fill="#fff6d4" opacity="1"/><rect x="754.2" y="646.15" width="2.25" height="2.26" fill="#fff6d4" opacity="1"/><rect x="756.3" y="646.15" width="2.25" height="2.26" fill="#fcd668" opacity="1"/><rect x="739.5" y="648.25" width="2.25" height="2.26" fill="#d42c30" opacity="0.9"/><rect x="741.6" y="648.25" width="2.25" height="2.26" fill="#d42c30" opacity="0.95"/><rect x="743.7" y="648.25" width="2.25" height="2.26" fill="#e8382c" opacity="1"/><rect x="745.8" y="648.25" width="2.25" height="2.26" fill="#f07c24" opacity="1"/><rect x="750" y="648.25" width="2.25" height="2.26" fill="#fcd668" opacity="1"/><rect x="752.1" y="648.25" width="2.25" height="2.26" fill="#fff6d4" opacity="1"/><rect x="754.2" y="648.25" width="2.25" height="2.26" fill="#fff6d4" opacity="1"/><rect x="756.3" y="648.25" width="2.25" height="2.26" fill="#fcd668" opacity="1"/><rect x="739.5" y="650.36" width="2.25" height="2.26" fill="#d42c30" opacity="0.8"/><rect x="741.6" y="650.36" width="2.25" height="2.26" fill="#d42c30" opacity="0.9"/><rect x="743.7" y="650.36" width="2.25" height="2.26" fill="#d42c30" opacity="0.95"/><rect x="747.9" y="650.36" width="2.25" height="2.26" fill="#f07c24" opacity="1"/><rect x="750" y="650.36" width="2.25" height="2.26" fill="#fcd668" opacity="1"/><rect x="752.1" y="650.36" width="2.25" height="2.26" fill="#fff6d4" opacity="1"/><rect x="754.2" y="650.36" width="2.25" height="2.26" fill="#fff6d4" opacity="1"/><rect x="756.3" y="650.36" width="2.25" height="2.26" fill="#fcd668" opacity="1"/><rect x="741.6" y="652.46" width="2.25" height="2.26" fill="#d42c30" opacity="0.95"/><rect x="743.7" y="652.46" width="2.25" height="2.26" fill="#d42c30" opacity="0.9"/><rect x="745.8" y="652.46" width="2.25" height="2.26" fill="#e8382c" opacity="1"/><rect x="747.9" y="652.46" width="2.25" height="2.26" fill="#f07c24" opacity="1"/><rect x="752.1" y="652.46" width="2.25" height="2.26" fill="#fcd668" opacity="1"/><rect x="754.2" y="652.46" width="2.25" height="2.26" fill="#fcd668" opacity="1"/><rect x="756.3" y="652.46" width="2.25" height="2.26" fill="#f07c24" opacity="1"/><rect x="739.5" y="654.57" width="2.25" height="2.26" fill="#d42c30" opacity="0.9"/><rect x="741.6" y="654.57" width="2.25" height="2.26" fill="#d42c30" opacity="0.8"/><rect x="743.7" y="654.57" width="2.25" height="2.26" fill="#d42c30" opacity="0.8"/><rect x="745.8" y="654.57" width="2.25" height="2.26" fill="#d42c30" opacity="0.9"/><rect x="750" y="654.57" width="2.25" height="2.26" fill="#f07c24" opacity="1"/><rect x="752.1" y="654.57" width="2.25" height="2.26" fill="#fcd668" opacity="1"/><rect x="754.2" y="654.57" width="2.25" height="2.26" fill="#f8a63c" opacity="1"/><rect x="756.3" y="654.57" width="2.25" height="2.26" fill="#f07c24" opacity="1"/><rect x="737.4" y="656.67" width="2.25" height="2.26" fill="#d42c30" opacity="0.8"/><rect x="739.5" y="656.67" width="2.25" height="2.26" fill="#d42c30" opacity="0.8"/><rect x="743.7" y="656.67" width="2.25" height="2.26" fill="#d42c30" opacity="0.9"/><rect x="745.8" y="656.67" width="2.25" height="2.26" fill="#d42c30" opacity="0.8"/><rect x="747.9" y="656.67" width="2.25" height="2.26" fill="#e8382c" opacity="1"/><rect x="750" y="656.67" width="2.25" height="2.26" fill="#d42c30" opacity="0.95"/><rect x="752.1" y="656.67" width="2.25" height="2.26" fill="#f8a63c" opacity="1"/><rect x="754.2" y="656.67" width="2.25" height="2.26" fill="#f07c24" opacity="1"/><rect x="737.4" y="658.78" width="2.25" height="2.26" fill="#d42c30" opacity="0.9"/><rect x="739.5" y="658.78" width="2.25" height="2.26" fill="#d42c30" opacity="0.8"/><rect x="741.6" y="658.78" width="2.25" height="2.26" fill="#d42c30" opacity="0.8"/><rect x="745.8" y="658.78" width="2.25" height="2.26" fill="#d42c30" opacity="0.9"/><rect x="747.9" y="658.78" width="2.25" height="2.26" fill="#d42c30" opacity="0.8"/><rect x="750" y="658.78" width="2.25" height="2.26" fill="#d42c30" opacity="0.9"/><rect x="752.1" y="658.78" width="2.25" height="2.26" fill="#e8382c" opacity="1"/><rect x="754.2" y="658.78" width="2.25" height="2.26" fill="#f07c24" opacity="1"/><rect x="735.3" y="660.88" width="2.25" height="2.26" fill="#d42c30" opacity="0.95"/><rect x="737.4" y="660.88" width="2.25" height="2.26" fill="#d42c30" opacity="0.95"/><rect x="741.6" y="660.88" width="2.25" height="2.26" fill="#d42c30" opacity="0.8"/><rect x="743.7" y="660.88" width="2.25" height="2.26" fill="#d42c30" opacity="0.95"/><rect x="745.8" y="660.88" width="2.25" height="2.26" fill="#d42c30" opacity="0.8"/><rect x="750" y="660.88" width="2.25" height="2.26" fill="#d42c30" opacity="0.9"/><rect x="752.1" y="660.88" width="2.25" height="2.26" fill="#d42c30" opacity="0.95"/><rect x="754.2" y="660.88" width="2.25" height="2.26" fill="#d42c30" opacity="0.95"/><rect x="737.4" y="662.99" width="2.25" height="2.26" fill="#d42c30" opacity="0.9"/><rect x="739.5" y="662.99" width="2.25" height="2.26" fill="#d42c30" opacity="0.8"/><rect x="741.6" y="662.99" width="2.25" height="2.26" fill="#d42c30" opacity="0.9"/><rect x="743.7" y="662.99" width="2.25" height="2.26" fill="#d42c30" opacity="0.8"/><rect x="745.8" y="662.99" width="2.25" height="2.26" fill="#d42c30" opacity="0.9"/><rect x="747.9" y="662.99" width="2.25" height="2.26" fill="#d42c30" opacity="0.8"/><rect x="750" y="662.99" width="2.25" height="2.26" fill="#d42c30" opacity="0.9"/><rect x="752.1" y="662.99" width="2.25" height="2.26" fill="#d42c30" opacity="0.95"/><rect x="754.2" y="662.99" width="2.25" height="2.26" fill="#d42c30" opacity="0.95"/><rect x="739.5" y="665.09" width="2.25" height="2.26" fill="#d42c30" opacity="0.8"/><rect x="741.6" y="665.09" width="2.25" height="2.26" fill="#d42c30" opacity="0.9"/><rect x="743.7" y="665.09" width="2.25" height="2.26" fill="#a82430" opacity="0.75"/><rect x="745.8" y="665.09" width="2.25" height="2.26" fill="#d42c30" opacity="0.8"/><rect x="747.9" y="665.09" width="2.25" height="2.26" fill="#d42c30" opacity="0.8"/><rect x="750" y="665.09" width="2.25" height="2.26" fill="#d42c30" opacity="0.95"/><rect x="752.1" y="665.09" width="2.25" height="2.26" fill="#a82430" opacity="0.45"/></g></g>
<rect x="682.2" y="597" width="89.2" height="89.1" fill="none" stroke="#777" stroke-width="0.7"/>
<rect x="681.6" y="596.4" width="90.4" height="90.3" fill="none" stroke="#222" stroke-width="1.2" stroke-dasharray="0.9 3.2"/>
<path d="M754.7,593.1 L761.5,593.1 L758.1,596.7 Z" fill="#111"/>
<path d="M678.8,646.7 L678.8,653.5 L682.4,650.1 Z" fill="#111"/>
<text x="685.5" y="603.6" font-size="5.6" text-anchor="middle" fill="#555">L</text>
<text x="767.8" y="603.6" font-size="5.6" text-anchor="middle" fill="#555">R</text>
<text x="777.3" y="608.2" font-size="5.6" text-anchor="middle" fill="#555">(Z</text>
<circle cx="772.4" cy="626.6" r="0.55" fill="#333"/>
<text x="775.6" y="628.6" font-size="5.6" text-anchor="start" fill="#555">+5</text>
<circle cx="772.4" cy="650.1" r="0.55" fill="#333"/>
<text x="775.6" y="652.1" font-size="5.6" text-anchor="start" fill="#555">0</text>
<circle cx="772.4" cy="673.9" r="0.55" fill="#333"/>
<text x="775.6" y="675.9" font-size="5.6" text-anchor="start" fill="#555">-5</text>
<text x="701.5" y="694.3" font-size="5.6" text-anchor="middle" fill="#555">-5</text>
<text x="726.5" y="694.3" font-size="5.6" text-anchor="middle" fill="#555">0</text>
<text x="753.5" y="694.3" font-size="5.6" text-anchor="middle" fill="#555">+5 cm</text>
<text x="771" y="694.3" font-size="5.6" text-anchor="middle" fill="#555">(X)</text>
</g>
<g id="panel-d">
<text x="0.3" y="780.3" font-size="26" font-weight="bold" fill="#0a0a0a">d</text>
<path d="M155.4,708.9 V743.5 H248.2 V760" fill="none" stroke="#909090" stroke-width="1"/>
<path d="M549.6,708.9 V745.1 H651.6 V760.8" fill="none" stroke="#909090" stroke-width="1"/>
<text x="163" y="741" font-size="17.3" font-weight="bold" fill="#1a1a1a">80-120 ms</text>
<text x="554.5" y="740.2" font-size="17.3" font-weight="bold" fill="#1a1a1a">200-320 ms</text>
<rect x="27.9" y="760.9" width="754" height="216.3" fill="none" stroke="#1c6b1e" stroke-width="2.1" stroke-dasharray="7.5 4.1"/>
<line x1="87.5" y1="778.5" x2="373" y2="778.5" stroke="#c4c4c4" stroke-width="1"/>
<text x="74.8" y="783.5" font-size="14.3" text-anchor="end" fill="#222">10</text>
<line x1="87.5" y1="811.4" x2="373" y2="811.4" stroke="#c4c4c4" stroke-width="1"/>
<text x="74.8" y="816.4" font-size="14.3" text-anchor="end" fill="#222">9</text>
<line x1="87.5" y1="844.3" x2="373" y2="844.3" stroke="#c4c4c4" stroke-width="1"/>
<text x="74.8" y="849.3" font-size="14.3" text-anchor="end" fill="#222">8</text>
<line x1="87.5" y1="876.9" x2="373" y2="876.9" stroke="#c4c4c4" stroke-width="1"/>
<text x="74.8" y="881.9" font-size="14.3" text-anchor="end" fill="#222">7</text>
<line x1="87.5" y1="909.7" x2="373" y2="909.7" stroke="#c4c4c4" stroke-width="1"/>
<text x="74.8" y="914.7" font-size="14.3" text-anchor="end" fill="#222">6</text>
<line x1="87.5" y1="942.4" x2="373" y2="942.4" stroke="#c4c4c4" stroke-width="1"/>
<text x="74.8" y="947.4" font-size="14.3" text-anchor="end" fill="#222">5</text>
<text transform="translate(52.8,861) rotate(-90)" font-size="15.2" text-anchor="middle" fill="#222">ERP Mean Ampl. (µV)</text>
<line x1="158.9" y1="824.6" x2="158.9" y2="880.4" stroke="#8a8a8a" stroke-width="0.7"/><line x1="157.3" y1="824.6" x2="160.5" y2="824.6" stroke="#8a8a8a" stroke-width="0.7"/><line x1="157.3" y1="880.4" x2="160.5" y2="880.4" stroke="#8a8a8a" stroke-width="0.7"/>
<line x1="158.9" y1="840.4" x2="158.9" y2="896.5" stroke="#8a8a8a" stroke-width="0.7"/><line x1="157.3" y1="840.4" x2="160.5" y2="840.4" stroke="#8a8a8a" stroke-width="0.7"/><line x1="157.3" y1="896.5" x2="160.5" y2="896.5" stroke="#8a8a8a" stroke-width="0.7"/>
<line x1="301.2" y1="838.5" x2="301.2" y2="892.9" stroke="#8a8a8a" stroke-width="0.7"/><line x1="299.6" y1="838.5" x2="302.8" y2="838.5" stroke="#8a8a8a" stroke-width="0.7"/><line x1="299.6" y1="892.9" x2="302.8" y2="892.9" stroke="#8a8a8a" stroke-width="0.7"/>
<line x1="301.2" y1="859" x2="301.2" y2="913.8" stroke="#8a8a8a" stroke-width="0.7"/><line x1="299.6" y1="859" x2="302.8" y2="859" stroke="#8a8a8a" stroke-width="0.7"/><line x1="299.6" y1="913.8" x2="302.8" y2="913.8" stroke="#8a8a8a" stroke-width="0.7"/>
<line x1="158.9" y1="852.7" x2="301.2" y2="886.7" stroke="#8c1414" stroke-width="2.2"/>
<line x1="158.9" y1="868.5" x2="301.2" y2="865.6" stroke="#1c1c9c" stroke-width="2.2"/>
<circle cx="158.9" cy="852.7" r="2.3" fill="#8c1414"/>
<circle cx="158.9" cy="868.5" r="2.3" fill="#1c1c9c"/>
<circle cx="301.2" cy="886.7" r="2.3" fill="#8c1414"/>
<circle cx="301.2" cy="865.6" r="2.3" fill="#1c1c9c"/>
<line x1="316.1" y1="804" x2="326.9" y2="804" stroke="#8c1414" stroke-width="1.5"/>
<circle cx="321.5" cy="804" r="1.7" fill="#8c1414"/>
<text x="327.4" y="808.9" font-size="11.4" fill="#222">positive</text>
<line x1="316.1" y1="821" x2="326.9" y2="821" stroke="#1c1c9c" stroke-width="1.5"/>
<circle cx="321.5" cy="821" r="1.7" fill="#1c1c9c"/>
<text x="327.4" y="825.9" font-size="11.4" fill="#222">negative</text>
<text x="158.9" y="966.4" font-size="15.5" text-anchor="middle" fill="#222">social</text>
<text x="301.2" y="966.4" font-size="15.5" text-anchor="middle" fill="#222">nonsocial</text>
<line x1="478.5" y1="779.9" x2="765.4" y2="779.9" stroke="#c4c4c4" stroke-width="1"/>
<text x="466.2" y="784.9" font-size="14.3" text-anchor="end" fill="#222">13</text>
<line x1="478.5" y1="812.8" x2="765.4" y2="812.8" stroke="#c4c4c4" stroke-width="1"/>
<text x="466.2" y="817.8" font-size="14.3" text-anchor="end" fill="#222">12</text>
<line x1="478.5" y1="845.7" x2="765.4" y2="845.7" stroke="#c4c4c4" stroke-width="1"/>
<text x="466.2" y="850.7" font-size="14.3" text-anchor="end" fill="#222">11</text>
<line x1="478.5" y1="878.5" x2="765.4" y2="878.5" stroke="#c4c4c4" stroke-width="1"/>
<text x="466.2" y="883.5" font-size="14.3" text-anchor="end" fill="#222">10</text>
<line x1="478.5" y1="911.4" x2="765.4" y2="911.4" stroke="#c4c4c4" stroke-width="1"/>
<text x="466.2" y="916.4" font-size="14.3" text-anchor="end" fill="#222">9</text>
<line x1="478.5" y1="943.7" x2="765.4" y2="943.7" stroke="#c4c4c4" stroke-width="1"/>
<text x="466.2" y="948.7" font-size="14.3" text-anchor="end" fill="#222">8</text>
<text transform="translate(445,862) rotate(-90)" font-size="15.2" text-anchor="middle" fill="#222">ERP Mean Ampl. (µV)</text>
<line x1="551.1" y1="794.2" x2="551.1" y2="861.8" stroke="#8a8a8a" stroke-width="0.7"/><line x1="549.5" y1="794.2" x2="552.7" y2="794.2" stroke="#8a8a8a" stroke-width="0.7"/><line x1="549.5" y1="861.8" x2="552.7" y2="861.8" stroke="#8a8a8a" stroke-width="0.7"/>
<line x1="551.1" y1="810.3" x2="551.1" y2="879" stroke="#8a8a8a" stroke-width="0.7"/><line x1="549.5" y1="810.3" x2="552.7" y2="810.3" stroke="#8a8a8a" stroke-width="0.7"/><line x1="549.5" y1="879" x2="552.7" y2="879" stroke="#8a8a8a" stroke-width="0.7"/>
<line x1="693.3" y1="808.9" x2="693.3" y2="874.1" stroke="#8a8a8a" stroke-width="0.7"/><line x1="691.7" y1="808.9" x2="694.9" y2="808.9" stroke="#8a8a8a" stroke-width="0.7"/><line x1="691.7" y1="874.1" x2="694.9" y2="874.1" stroke="#8a8a8a" stroke-width="0.7"/>
<line x1="693.3" y1="857.9" x2="693.3" y2="923.2" stroke="#8a8a8a" stroke-width="0.7"/><line x1="691.7" y1="857.9" x2="694.9" y2="857.9" stroke="#8a8a8a" stroke-width="0.7"/><line x1="691.7" y1="923.2" x2="694.9" y2="923.2" stroke="#8a8a8a" stroke-width="0.7"/>
<line x1="551.1" y1="843.7" x2="693.3" y2="890.3" stroke="#8c1414" stroke-width="2.2"/>
<line x1="551.1" y1="827.5" x2="693.3" y2="841.2" stroke="#1c1c9c" stroke-width="2.2"/>
<circle cx="551.1" cy="843.7" r="2.3" fill="#8c1414"/>
<circle cx="551.1" cy="827.5" r="2.3" fill="#1c1c9c"/>
<circle cx="693.3" cy="890.3" r="2.3" fill="#8c1414"/>
<circle cx="693.3" cy="841.2" r="2.3" fill="#1c1c9c"/>
<line x1="707.2" y1="806.1" x2="718" y2="806.1" stroke="#8c1414" stroke-width="1.5"/>
<circle cx="712.6" cy="806.1" r="1.7" fill="#8c1414"/>
<text x="718.5" y="811" font-size="11.4" fill="#222">positive</text>
<line x1="707.2" y1="819" x2="718" y2="819" stroke="#1c1c9c" stroke-width="1.5"/>
<circle cx="712.6" cy="819" r="1.7" fill="#1c1c9c"/>
<text x="718.5" y="823.9" font-size="11.4" fill="#222">negative</text>
<text x="551.1" y="967.3" font-size="15.5" text-anchor="middle" fill="#222">social</text>
<text x="693.3" y="967.3" font-size="15.5" text-anchor="middle" fill="#222">nonsocial</text>
</g>
<g id="panel-e">
<text x="0.3" y="1030.6" font-size="26.5" font-weight="bold" fill="#0a0a0a">e</text>
<rect x="27.7" y="1018.8" width="754.5" height="215.4" fill="none" stroke="#7070fa" stroke-width="2" stroke-dasharray="7.5 4.1"/>
<text x="174.8" y="1039.4" font-size="17.6" text-anchor="middle" font-weight="normal" fill="#111">200-320 ms</text>
<text x="345.9" y="1039.4" font-size="17.6" text-anchor="middle" font-weight="normal" fill="#111">320-420 ms</text>
<text x="524.6" y="1038.8" font-size="17.6" text-anchor="middle" font-weight="normal" fill="#111">420-620 ms</text>
<text x="32.6" y="1091.3" font-size="17.6" text-anchor="start" font-weight="bold" fill="#111">negative –</text>
<text x="32.6" y="1110.9" font-size="17.6" text-anchor="start" font-weight="bold" fill="#111">positive</text>
<path d="M162,1052.7 C162,1041.85 172,1041.85 172,1052.7" fill="#fff" stroke="#666" stroke-width="0.8"/>
<clipPath id="c7"><circle cx="167" cy="1103" r="50.9"/></clipPath>
<circle cx="167" cy="1103" r="50.9" fill="#fff"/>
<g clip-path="url(#c7)"><g filter="url(#blur0_5)"><g transform="translate(167,1103) scale(50.9)">
<path d="M0,-1.05 C0.19,-1.04 0.44,-0.93 0.56,-0.85 C0.68,-0.77 0.72,-0.66 0.74,-0.57 C0.76,-0.48 0.72,-0.39 0.67,-0.31 C0.62,-0.23 0.52,-0.19 0.45,-0.12 C0.39,-0.05 0.35,0.06 0.28,0.11 C0.22,0.16 0.14,0.21 0.06,0.19 C-0.02,0.17 -0.12,0.09 -0.2,0.02 C-0.28,-0.04 -0.34,-0.14 -0.42,-0.2 C-0.5,-0.26 -0.64,-0.28 -0.7,-0.34 C-0.76,-0.4 -0.79,-0.45 -0.77,-0.54 C-0.75,-0.63 -0.71,-0.82 -0.58,-0.9 C-0.45,-0.98 -0.19,-1.06 0,-1.05Z" fill="#c8c8fa"/>
<path d="M-0,-1 C0.17,-0.99 0.39,-0.89 0.5,-0.82 C0.61,-0.75 0.65,-0.65 0.66,-0.57 C0.68,-0.49 0.64,-0.4 0.6,-0.33 C0.56,-0.27 0.46,-0.23 0.4,-0.16 C0.34,-0.1 0.31,-0 0.25,0.04 C0.19,0.09 0.12,0.13 0.05,0.12 C-0.02,0.1 -0.11,0.02 -0.18,-0.04 C-0.25,-0.1 -0.3,-0.18 -0.38,-0.23 C-0.46,-0.29 -0.58,-0.31 -0.63,-0.36 C-0.68,-0.41 -0.71,-0.46 -0.7,-0.54 C-0.68,-0.62 -0.64,-0.79 -0.52,-0.86 C-0.41,-0.94 -0.17,-1.01 -0,-1Z" fill="#b0b0f7"/>
<path d="M0,-1.05 C0.13,-1.06 0.2,-1 0.28,-0.95 C0.36,-0.9 0.47,-0.81 0.5,-0.73 C0.53,-0.65 0.52,-0.57 0.48,-0.48 C0.44,-0.39 0.35,-0.27 0.28,-0.2 C0.21,-0.13 0.16,-0.09 0.08,-0.08 C0,-0.07 -0.09,-0.12 -0.17,-0.17 C-0.25,-0.22 -0.32,-0.3 -0.39,-0.37 C-0.46,-0.44 -0.55,-0.48 -0.57,-0.57 C-0.59,-0.66 -0.59,-0.82 -0.5,-0.9 C-0.41,-0.98 -0.13,-1.04 0,-1.05Z" fill="#8a8af2"/>
<ellipse cx="-0.06" cy="-0.61" rx="0.32" ry="0.28" fill="#4a4ae6"/>
<path d="M-1.3,-0.07 C-1.25,-0.07 -1.09,-0.1 -1,-0.07 C-0.91,-0.04 -0.86,0.04 -0.78,0.08 C-0.7,0.12 -0.58,0.14 -0.5,0.19 C-0.42,0.24 -0.34,0.3 -0.28,0.36 C-0.22,0.42 -0.19,0.51 -0.14,0.55 C-0.09,0.59 -0.05,0.62 0,0.62 C0.05,0.62 0.08,0.59 0.14,0.55 C0.2,0.51 0.26,0.43 0.34,0.36 C0.42,0.29 0.51,0.2 0.62,0.11 C0.73,0.02 0.89,-0.14 1,-0.19 C1.11,-0.24 1.25,-0.19 1.3,-0.19 L1.3,1.4 L-1.3,1.4 Z" fill="#fdd0d0"/>
<path d="M-1.3,0.03 C-1.25,0.03 -1.09,0.01 -1,0.03 C-0.91,0.05 -0.86,0.14 -0.78,0.18 C-0.7,0.22 -0.58,0.24 -0.5,0.29 C-0.42,0.34 -0.34,0.4 -0.28,0.46 C-0.22,0.52 -0.19,0.61 -0.14,0.65 C-0.09,0.69 -0.05,0.72 0,0.72 C0.05,0.72 0.08,0.69 0.14,0.65 C0.2,0.61 0.26,0.53 0.34,0.46 C0.42,0.39 0.51,0.3 0.62,0.21 C0.73,0.12 0.89,-0.04 1,-0.09 C1.11,-0.14 1.25,-0.09 1.3,-0.09 L1.3,1.4 L-1.3,1.4 Z" fill="#f9a0a0"/>
<path d="M-1.3,0.13 C-1.25,0.13 -1.09,0.1 -1,0.13 C-0.91,0.15 -0.86,0.24 -0.78,0.28 C-0.7,0.32 -0.58,0.34 -0.5,0.39 C-0.42,0.44 -0.34,0.5 -0.28,0.56 C-0.22,0.62 -0.19,0.71 -0.14,0.75 C-0.09,0.79 -0.05,0.82 0,0.82 C0.05,0.82 0.08,0.79 0.14,0.75 C0.2,0.71 0.26,0.63 0.34,0.56 C0.42,0.49 0.51,0.4 0.62,0.31 C0.73,0.22 0.89,0.06 1,0.01 C1.11,-0.04 1.25,0.01 1.3,0.01 L1.3,1.4 L-1.3,1.4 Z" fill="#f46060"/>
<path d="M-1.3,0.42 C-1.25,0.42 -1.12,0.43 -1,0.42 C-0.88,0.41 -0.66,0.36 -0.56,0.37 C-0.46,0.38 -0.43,0.44 -0.38,0.5 C-0.33,0.56 -0.28,0.68 -0.24,0.75 C-0.2,0.82 -0.16,0.87 -0.12,0.9 C-0.08,0.93 -0.04,0.93 0,0.93 C0.04,0.93 0.08,0.94 0.12,0.9 C0.16,0.86 0.21,0.79 0.26,0.72 C0.31,0.65 0.35,0.56 0.42,0.5 C0.49,0.44 0.56,0.4 0.66,0.34 C0.76,0.28 0.89,0.18 1,0.15 C1.11,0.12 1.25,0.15 1.3,0.15 L1.3,1.4 L-1.3,1.4 Z" fill="#f00808"/>
<ellipse cx="-0.64" cy="0.6" rx="0.27" ry="0.2" fill="#e40000" transform="rotate(15 -0.64 0.6)"/>
<ellipse cx="0.68" cy="0.66" rx="0.32" ry="0.34" fill="#cc0000" transform="rotate(-30 0.68 0.66)"/>
<ellipse cx="0.67" cy="0.63" rx="0.19" ry="0.17" fill="#a80000" transform="rotate(-30 0.67 0.63)"/>
<ellipse cx="0.64" cy="0.62" rx="0.09" ry="0.07" fill="#780000" transform="rotate(-30 0.64 0.62)"/>
</g></g></g>
<circle cx="167" cy="1103" r="50.9" fill="none" stroke="#222" stroke-width="0.8"/>
<circle cx="155.39" cy="1065.64" r="1.25" fill="none" stroke="#555" stroke-width="0.55" opacity="0.8"/>
<circle cx="167" cy="1065.64" r="1.25" fill="none" stroke="#555" stroke-width="0.55" opacity="0.8"/>
<circle cx="178.61" cy="1065.64" r="1.25" fill="none" stroke="#555" stroke-width="0.55" opacity="0.8"/>
<circle cx="144.25" cy="1073.1" r="1.25" fill="none" stroke="#555" stroke-width="0.55" opacity="0.8"/>
<circle cx="155.39" cy="1073.1" r="1.25" fill="none" stroke="#555" stroke-width="0.55" opacity="0.8"/>
<circle cx="167" cy="1073.1" r="1.25" fill="none" stroke="#555" stroke-width="0.55" opacity="0.8"/>
<circle cx="178.61" cy="1073.1" r="1.25" fill="none" stroke="#555" stroke-width="0.55" opacity="0.8"/>
<circle cx="189.75" cy="1073.1" r="1.25" fill="none" stroke="#555" stroke-width="0.55" opacity="0.8"/>
<circle cx="135.95" cy="1080.6" r="1.25" fill="none" stroke="#555" stroke-width="0.55" opacity="0.8"/>
<circle cx="143.46" cy="1082.13" r="1.25" fill="none" stroke="#555" stroke-width="0.55" opacity="0.8"/>
<circle cx="151.09" cy="1082.13" r="1.25" fill="none" stroke="#555" stroke-width="0.55" opacity="0.8"/>
<circle cx="159.06" cy="1082.13" r="1.25" fill="none" stroke="#555" stroke-width="0.55" opacity="0.8"/>
<circle cx="167" cy="1082.13" r="1.25" fill="none" stroke="#555" stroke-width="0.55" opacity="0.8"/>
<circle cx="174.94" cy="1082.13" r="1.25" fill="none" stroke="#555" stroke-width="0.55" opacity="0.8"/>
<circle cx="182.91" cy="1082.13" r="1.25" fill="none" stroke="#555" stroke-width="0.55" opacity="0.8"/>
<circle cx="190.54" cy="1082.13" r="1.25" fill="none" stroke="#555" stroke-width="0.55" opacity="0.8"/>
<circle cx="198.05" cy="1080.6" r="1.25" fill="none" stroke="#555" stroke-width="0.55" opacity="0.8"/>
<circle cx="130.35" cy="1092.18" r="1.25" fill="none" stroke="#555" stroke-width="0.55" opacity="0.8"/>
<circle cx="139.51" cy="1092.18" r="1.25" fill="none" stroke="#555" stroke-width="0.55" opacity="0.8"/>
<circle cx="148.68" cy="1092.18" r="1.25" fill="none" stroke="#555" stroke-width="0.55" opacity="0.8"/>
<circle cx="157.84" cy="1092.18" r="1.25" fill="none" stroke="#555" stroke-width="0.55" opacity="0.8"/>
<circle cx="167" cy="1092.18" r="1.25" fill="none" stroke="#555" stroke-width="0.55" opacity="0.8"/>
<circle cx="176.16" cy="1092.18" r="1.25" fill="none" stroke="#555" stroke-width="0.55" opacity="0.8"/>
<circle cx="185.32" cy="1092.18" r="1.25" fill="none" stroke="#555" stroke-width="0.55" opacity="0.8"/>
<circle cx="194.49" cy="1092.18" r="1.25" fill="none" stroke="#555" stroke-width="0.55" opacity="0.8"/>
<circle cx="203.65" cy="1092.18" r="1.25" fill="none" stroke="#555" stroke-width="0.55" opacity="0.8"/>
<circle cx="128.82" cy="1103" r="1.25" fill="none" stroke="#555" stroke-width="0.55" opacity="0.8"/>
<circle cx="138.37" cy="1103" r="1.25" fill="none" stroke="#555" stroke-width="0.55" opacity="0.8"/>
<circle cx="147.91" cy="1103" r="1.25" fill="none" stroke="#555" stroke-width="0.55" opacity="0.8"/>
<circle cx="157.46" cy="1103" r="1.25" fill="none" stroke="#555" stroke-width="0.55" opacity="0.8"/>
<circle cx="167" cy="1103" r="1.25" fill="none" stroke="#555" stroke-width="0.55" opacity="0.8"/>
<circle cx="176.54" cy="1103" r="1.25" fill="none" stroke="#555" stroke-width="0.55" opacity="0.8"/>
<circle cx="186.09" cy="1103" r="1.25" fill="none" stroke="#555" stroke-width="0.55" opacity="0.8"/>
<circle cx="195.63" cy="1103" r="1.25" fill="none" stroke="#555" stroke-width="0.55" opacity="0.8"/>
<circle cx="205.18" cy="1103" r="1.25" fill="none" stroke="#555" stroke-width="0.55" opacity="0.8"/>
<circle cx="130.35" cy="1113.33" r="1.25" fill="none" stroke="#555" stroke-width="0.55" opacity="0.8"/>
<circle cx="139.51" cy="1113.33" r="1.25" fill="none" stroke="#555" stroke-width="0.55" opacity="0.8"/>
<circle cx="148.68" cy="1113.33" r="1.25" fill="none" stroke="#555" stroke-width="0.55" opacity="0.8"/>
<circle cx="157.84" cy="1113.33" r="1.25" fill="none" stroke="#555" stroke-width="0.55" opacity="0.8"/>
<circle cx="167" cy="1113.33" r="1.25" fill="none" stroke="#555" stroke-width="0.55" opacity="0.8"/>
<circle cx="176.16" cy="1113.33" r="1.25" fill="none" stroke="#555" stroke-width="0.55" opacity="0.8"/>
<circle cx="185.32" cy="1113.33" r="1.25" fill="none" stroke="#555" stroke-width="0.55" opacity="0.8"/>
<circle cx="194.49" cy="1113.33" r="1.25" fill="none" stroke="#555" stroke-width="0.55" opacity="0.8"/>
<circle cx="203.65" cy="1113.33" r="1.25" fill="none" stroke="#555" stroke-width="0.55" opacity="0.8"/>
<circle cx="143.46" cy="1122.55" r="1.25" fill="none" stroke="#555" stroke-width="0.55" opacity="0.8"/>
<circle cx="151.09" cy="1122.55" r="1.25" fill="none" stroke="#555" stroke-width="0.55" opacity="0.8"/>
<circle cx="159.06" cy="1122.55" r="1.25" fill="none" stroke="#555" stroke-width="0.55" opacity="0.8"/>
<circle cx="167" cy="1122.55" r="1.25" fill="none" stroke="#555" stroke-width="0.55" opacity="0.8"/>
<circle cx="174.94" cy="1122.55" r="1.25" fill="none" stroke="#555" stroke-width="0.55" opacity="0.8"/>
<circle cx="182.91" cy="1122.55" r="1.25" fill="none" stroke="#555" stroke-width="0.55" opacity="0.8"/>
<circle cx="190.54" cy="1122.55" r="1.25" fill="none" stroke="#555" stroke-width="0.55" opacity="0.8"/>
<circle cx="135.95" cy="1125.9" r="1.25" fill="none" stroke="#555" stroke-width="0.55" opacity="0.8"/>
<circle cx="198.05" cy="1125.4" r="1.25" fill="none" stroke="#555" stroke-width="0.55" opacity="0.8"/>
<circle cx="128.82" cy="1131.63" r="1.25" fill="none" stroke="#555" stroke-width="0.55" opacity="0.8"/>
<circle cx="144.09" cy="1133.03" r="1.25" fill="none" stroke="#555" stroke-width="0.55" opacity="0.8"/>
<circle cx="155.39" cy="1131.63" r="1.25" fill="none" stroke="#555" stroke-width="0.55" opacity="0.8"/>
<circle cx="167" cy="1131.63" r="1.25" fill="none" stroke="#555" stroke-width="0.55" opacity="0.8"/>
<circle cx="178.61" cy="1131.63" r="1.25" fill="none" stroke="#555" stroke-width="0.55" opacity="0.8"/>
<circle cx="189.4" cy="1133.03" r="1.25" fill="none" stroke="#555" stroke-width="0.55" opacity="0.8"/>
<circle cx="205.18" cy="1131.63" r="1.25" fill="none" stroke="#555" stroke-width="0.55" opacity="0.8"/>
<circle cx="155.39" cy="1139.65" r="1.25" fill="none" stroke="#555" stroke-width="0.55" opacity="0.8"/>
<circle cx="167" cy="1140.92" r="1.25" fill="none" stroke="#555" stroke-width="0.55" opacity="0.8"/>
<circle cx="178.61" cy="1139.65" r="1.25" fill="none" stroke="#555" stroke-width="0.55" opacity="0.8"/>
<circle cx="167" cy="1149.83" r="1.25" fill="none" stroke="#555" stroke-width="0.55" opacity="0.8"/>
<path d="M333.3,1052.5 C333.3,1041.65 343.3,1041.65 343.3,1052.5" fill="#fff" stroke="#666" stroke-width="0.8"/>
<clipPath id="c8"><circle cx="338.3" cy="1102.8" r="50.9"/></clipPath>
<circle cx="338.3" cy="1102.8" r="50.9" fill="#fff"/>
<g clip-path="url(#c8)"><g filter="url(#blur0_5)"><g transform="translate(338.3,1102.8) scale(50.9)">
<path d="M-0.1,-0.78 C-0.01,-0.79 0.1,-0.79 0.18,-0.74 C0.26,-0.69 0.32,-0.6 0.37,-0.5 C0.42,-0.4 0.5,-0.22 0.51,-0.11 C0.52,0 0.48,0.09 0.43,0.17 C0.38,0.25 0.26,0.32 0.18,0.36 C0.1,0.4 0.05,0.41 -0.02,0.39 C-0.1,0.37 -0.18,0.31 -0.27,0.25 C-0.36,0.19 -0.5,0.1 -0.58,0.03 C-0.66,-0.04 -0.74,-0.09 -0.75,-0.17 C-0.76,-0.25 -0.72,-0.36 -0.66,-0.45 C-0.6,-0.54 -0.47,-0.64 -0.38,-0.7 C-0.29,-0.76 -0.19,-0.77 -0.1,-0.78Z" fill="#cacafa"/>
<path d="M-0.09,-0.7 C-0.01,-0.71 0.08,-0.71 0.15,-0.67 C0.22,-0.63 0.27,-0.55 0.32,-0.46 C0.36,-0.37 0.43,-0.22 0.44,-0.12 C0.45,-0.02 0.42,0.05 0.37,0.12 C0.32,0.19 0.22,0.26 0.15,0.29 C0.09,0.32 0.04,0.33 -0.02,0.31 C-0.09,0.3 -0.16,0.24 -0.24,0.19 C-0.32,0.14 -0.44,0.06 -0.51,0 C-0.58,-0.06 -0.65,-0.1 -0.66,-0.17 C-0.67,-0.24 -0.63,-0.34 -0.58,-0.42 C-0.53,-0.49 -0.42,-0.59 -0.34,-0.64 C-0.25,-0.68 -0.17,-0.7 -0.09,-0.7Z" fill="#a4a4f5"/>
<path d="M-0.08,-0.62 C-0.02,-0.63 0.06,-0.63 0.12,-0.59 C0.18,-0.56 0.22,-0.5 0.26,-0.42 C0.3,-0.34 0.35,-0.22 0.36,-0.13 C0.37,-0.05 0.34,0.01 0.3,0.07 C0.26,0.13 0.18,0.18 0.12,0.21 C0.07,0.24 0.03,0.24 -0.03,0.23 C-0.08,0.22 -0.14,0.17 -0.21,0.13 C-0.28,0.08 -0.38,0.02 -0.43,-0.03 C-0.49,-0.08 -0.55,-0.12 -0.56,-0.18 C-0.57,-0.24 -0.54,-0.32 -0.49,-0.38 C-0.45,-0.45 -0.36,-0.52 -0.29,-0.56 C-0.22,-0.61 -0.15,-0.62 -0.08,-0.62Z" fill="#7474ee"/>
<path d="M-0.07,-0.53 C-0.02,-0.53 0.04,-0.53 0.09,-0.51 C0.13,-0.48 0.16,-0.43 0.19,-0.37 C0.23,-0.31 0.27,-0.21 0.27,-0.15 C0.28,-0.09 0.26,-0.03 0.23,0.01 C0.2,0.06 0.13,0.1 0.09,0.12 C0.04,0.14 0.01,0.15 -0.03,0.14 C-0.07,0.13 -0.12,0.09 -0.17,0.06 C-0.22,0.02 -0.3,-0.03 -0.35,-0.07 C-0.39,-0.11 -0.44,-0.14 -0.44,-0.18 C-0.45,-0.23 -0.43,-0.29 -0.39,-0.34 C-0.36,-0.39 -0.29,-0.45 -0.23,-0.48 C-0.18,-0.52 -0.13,-0.53 -0.07,-0.53Z" fill="#4242e8"/>
<ellipse cx="-0.02" cy="-0.2" rx="0.15" ry="0.25" fill="#0c0ce6" transform="rotate(-27 -0.02 -0.2)"/>
<path d="M-1.3,-0.12 C-1.25,-0.12 -1.08,-0.15 -1,-0.12 C-0.92,-0.09 -0.88,0.01 -0.8,0.08 C-0.72,0.15 -0.61,0.22 -0.52,0.28 C-0.43,0.34 -0.33,0.41 -0.24,0.45 C-0.15,0.49 -0.08,0.53 0,0.52 C0.08,0.52 0.17,0.48 0.26,0.42 C0.35,0.36 0.45,0.26 0.54,0.17 C0.63,0.08 0.74,-0.06 0.82,-0.14 C0.9,-0.23 0.92,-0.31 1,-0.34 C1.08,-0.37 1.25,-0.34 1.3,-0.34 L1.3,1.4 L-1.3,1.4 Z" fill="#fdd0d0"/>
<path d="M-1.3,-0.06 C-1.25,-0.06 -1.08,-0.09 -1,-0.06 C-0.92,-0.02 -0.88,0.08 -0.8,0.14 C-0.72,0.21 -0.61,0.28 -0.52,0.34 C-0.43,0.4 -0.33,0.47 -0.24,0.51 C-0.15,0.55 -0.08,0.59 0,0.58 C0.08,0.58 0.17,0.54 0.26,0.48 C0.35,0.42 0.45,0.33 0.54,0.23 C0.63,0.14 0.74,0.01 0.82,-0.08 C0.9,-0.16 0.92,-0.24 1,-0.28 C1.08,-0.31 1.25,-0.28 1.3,-0.28 L1.3,1.4 L-1.3,1.4 Z" fill="#f99c9c"/>
<path d="M-1.3,0 C-1.25,0 -1.08,-0.03 -1,0 C-0.92,0.04 -0.88,0.14 -0.8,0.2 C-0.72,0.27 -0.61,0.34 -0.52,0.4 C-0.43,0.47 -0.33,0.53 -0.24,0.57 C-0.15,0.61 -0.08,0.65 0,0.64 C0.08,0.64 0.17,0.6 0.26,0.54 C0.35,0.49 0.45,0.39 0.54,0.29 C0.63,0.2 0.74,0.07 0.82,-0.02 C0.9,-0.1 0.92,-0.18 1,-0.22 C1.08,-0.25 1.25,-0.22 1.3,-0.22 L1.3,1.4 L-1.3,1.4 Z" fill="#f45c5c"/>
<path d="M-1.3,0.07 C-1.25,0.07 -1.08,0.03 -1,0.07 C-0.92,0.1 -0.88,0.2 -0.8,0.27 C-0.72,0.33 -0.61,0.4 -0.52,0.47 C-0.43,0.53 -0.33,0.6 -0.24,0.64 C-0.15,0.68 -0.08,0.71 0,0.71 C0.08,0.7 0.17,0.66 0.26,0.61 C0.35,0.55 0.45,0.45 0.54,0.36 C0.63,0.26 0.74,0.13 0.82,0.05 C0.9,-0.04 0.92,-0.12 1,-0.15 C1.08,-0.19 1.25,-0.15 1.3,-0.15 L1.3,1.4 L-1.3,1.4 Z" fill="#f00808"/>
<path d="M-1.3,0.3 C-1.25,0.3 -1.11,0.27 -1,0.3 C-0.89,0.33 -0.76,0.4 -0.66,0.45 C-0.56,0.5 -0.49,0.54 -0.38,0.59 C-0.27,0.64 -0.09,0.72 0,0.73 C0.09,0.73 0.12,0.67 0.18,0.62 C0.24,0.57 0.29,0.5 0.37,0.45 C0.45,0.4 0.55,0.35 0.65,0.31 C0.76,0.27 0.89,0.22 1,0.2 C1.11,0.18 1.25,0.2 1.3,0.2 L1.3,1.4 L-1.3,1.4 Z" fill="#c40000"/>
<path d="M-1.3,0.36 C-1.25,0.36 -1.11,0.33 -1,0.36 C-0.89,0.39 -0.76,0.46 -0.66,0.51 C-0.56,0.56 -0.49,0.6 -0.38,0.65 C-0.27,0.7 -0.09,0.79 0,0.79 C0.09,0.8 0.12,0.73 0.18,0.68 C0.24,0.63 0.29,0.56 0.37,0.51 C0.45,0.46 0.55,0.41 0.65,0.37 C0.76,0.33 0.89,0.28 1,0.26 C1.11,0.24 1.25,0.26 1.3,0.26 L1.3,1.4 L-1.3,1.4 Z" fill="#a00000"/>
<ellipse cx="-0.47" cy="0.76" rx="0.36" ry="0.11" fill="#800000" transform="rotate(24 -0.47 0.76)"/>
<ellipse cx="-0.47" cy="0.76" rx="0.22" ry="0.07" fill="#640000" transform="rotate(24 -0.47 0.76)"/>
<ellipse cx="0.52" cy="0.7" rx="0.37" ry="0.22" fill="#840000" transform="rotate(-36 0.52 0.7)"/>
<ellipse cx="0.52" cy="0.7" rx="0.23" ry="0.14" fill="#4c0000" transform="rotate(-36 0.52 0.7)"/>
<path d="M-1.2,1.3 L1.2,1.3 L1.2,0.7 Q0,1.22 -1.2,0.7 Z" fill="#a80000"/>
</g></g></g>
<circle cx="338.3" cy="1102.8" r="50.9" fill="none" stroke="#222" stroke-width="0.8"/>
<circle cx="326.69" cy="1065.44" r="1.25" fill="none" stroke="#555" stroke-width="0.55" opacity="0.8"/>
<circle cx="338.3" cy="1065.44" r="1.25" fill="none" stroke="#555" stroke-width="0.55" opacity="0.8"/>
<circle cx="349.91" cy="1065.44" r="1.25" fill="none" stroke="#555" stroke-width="0.55" opacity="0.8"/>
<circle cx="315.55" cy="1072.9" r="1.25" fill="none" stroke="#555" stroke-width="0.55" opacity="0.8"/>
<circle cx="326.69" cy="1072.9" r="1.25" fill="none" stroke="#555" stroke-width="0.55" opacity="0.8"/>
<circle cx="338.3" cy="1072.9" r="1.25" fill="none" stroke="#555" stroke-width="0.55" opacity="0.8"/>
<circle cx="349.91" cy="1072.9" r="1.25" fill="none" stroke="#555" stroke-width="0.55" opacity="0.8"/>
<circle cx="361.05" cy="1072.9" r="1.25" fill="none" stroke="#555" stroke-width="0.55" opacity="0.8"/>
<circle cx="307.25" cy="1080.4" r="1.25" fill="none" stroke="#555" stroke-width="0.55" opacity="0.8"/>
<circle cx="314.76" cy="1081.93" r="1.25" fill="none" stroke="#555" stroke-width="0.55" opacity="0.8"/>
<circle cx="322.39" cy="1081.93" r="1.25" fill="none" stroke="#555" stroke-width="0.55" opacity="0.8"/>
<circle cx="330.36" cy="1081.93" r="1.25" fill="none" stroke="#555" stroke-width="0.55" opacity="0.8"/>
<circle cx="338.3" cy="1081.93" r="1.25" fill="none" stroke="#555" stroke-width="0.55" opacity="0.8"/>
<circle cx="346.24" cy="1081.93" r="1.25" fill="none" stroke="#555" stroke-width="0.55" opacity="0.8"/>
<circle cx="354.21" cy="1081.93" r="1.25" fill="none" stroke="#555" stroke-width="0.55" opacity="0.8"/>
<circle cx="361.84" cy="1081.93" r="1.25" fill="none" stroke="#555" stroke-width="0.55" opacity="0.8"/>
<circle cx="369.35" cy="1080.4" r="1.25" fill="none" stroke="#555" stroke-width="0.55" opacity="0.8"/>
<circle cx="301.65" cy="1091.98" r="1.25" fill="none" stroke="#555" stroke-width="0.55" opacity="0.8"/>
<circle cx="310.81" cy="1091.98" r="1.25" fill="none" stroke="#555" stroke-width="0.55" opacity="0.8"/>
<circle cx="319.98" cy="1091.98" r="1.25" fill="none" stroke="#555" stroke-width="0.55" opacity="0.8"/>
<circle cx="329.14" cy="1091.98" r="1.25" fill="none" stroke="#555" stroke-width="0.55" opacity="0.8"/>
<circle cx="338.3" cy="1091.98" r="1.25" fill="none" stroke="#555" stroke-width="0.55" opacity="0.8"/>
<circle cx="347.46" cy="1091.98" r="1.25" fill="none" stroke="#555" stroke-width="0.55" opacity="0.8"/>
<circle cx="356.62" cy="1091.98" r="1.25" fill="none" stroke="#555" stroke-width="0.55" opacity="0.8"/>
<circle cx="365.79" cy="1091.98" r="1.25" fill="none" stroke="#555" stroke-width="0.55" opacity="0.8"/>
<circle cx="374.95" cy="1091.98" r="1.25" fill="none" stroke="#555" stroke-width="0.55" opacity="0.8"/>
<circle cx="300.12" cy="1102.8" r="1.25" fill="none" stroke="#555" stroke-width="0.55" opacity="0.8"/>
<circle cx="309.67" cy="1102.8" r="1.25" fill="none" stroke="#555" stroke-width="0.55" opacity="0.8"/>
<circle cx="319.21" cy="1102.8" r="1.25" fill="none" stroke="#555" stroke-width="0.55" opacity="0.8"/>
<circle cx="328.76" cy="1102.8" r="1.25" fill="none" stroke="#555" stroke-width="0.55" opacity="0.8"/>
<circle cx="338.3" cy="1102.8" r="1.25" fill="none" stroke="#555" stroke-width="0.55" opacity="0.8"/>
<circle cx="347.84" cy="1102.8" r="1.25" fill="none" stroke="#555" stroke-width="0.55" opacity="0.8"/>
<circle cx="357.39" cy="1102.8" r="1.25" fill="none" stroke="#555" stroke-width="0.55" opacity="0.8"/>
<circle cx="366.93" cy="1102.8" r="1.25" fill="none" stroke="#555" stroke-width="0.55" opacity="0.8"/>
<circle cx="376.48" cy="1102.8" r="1.25" fill="none" stroke="#555" stroke-width="0.55" opacity="0.8"/>
<circle cx="301.65" cy="1113.13" r="1.25" fill="none" stroke="#555" stroke-width="0.55" opacity="0.8"/>
<circle cx="310.81" cy="1113.13" r="1.25" fill="none" stroke="#555" stroke-width="0.55" opacity="0.8"/>
<circle cx="319.98" cy="1113.13" r="1.25" fill="none" stroke="#555" stroke-width="0.55" opacity="0.8"/>
<circle cx="329.14" cy="1113.13" r="1.25" fill="none" stroke="#555" stroke-width="0.55" opacity="0.8"/>
<circle cx="338.3" cy="1113.13" r="1.25" fill="none" stroke="#555" stroke-width="0.55" opacity="0.8"/>
<circle cx="347.46" cy="1113.13" r="1.25" fill="none" stroke="#555" stroke-width="0.55" opacity="0.8"/>
<circle cx="356.62" cy="1113.13" r="1.25" fill="none" stroke="#555" stroke-width="0.55" opacity="0.8"/>
<circle cx="365.79" cy="1113.13" r="1.25" fill="none" stroke="#555" stroke-width="0.55" opacity="0.8"/>
<circle cx="374.95" cy="1113.13" r="1.25" fill="none" stroke="#555" stroke-width="0.55" opacity="0.8"/>
<circle cx="314.76" cy="1122.35" r="1.25" fill="none" stroke="#555" stroke-width="0.55" opacity="0.8"/>
<circle cx="322.39" cy="1122.35" r="1.25" fill="none" stroke="#555" stroke-width="0.55" opacity="0.8"/>
<circle cx="330.36" cy="1122.35" r="1.25" fill="none" stroke="#555" stroke-width="0.55" opacity="0.8"/>
<circle cx="338.3" cy="1122.35" r="1.25" fill="none" stroke="#555" stroke-width="0.55" opacity="0.8"/>
<circle cx="346.24" cy="1122.35" r="1.25" fill="none" stroke="#555" stroke-width="0.55" opacity="0.8"/>
<circle cx="354.21" cy="1122.35" r="1.25" fill="none" stroke="#555" stroke-width="0.55" opacity="0.8"/>
<circle cx="361.84" cy="1122.35" r="1.25" fill="none" stroke="#555" stroke-width="0.55" opacity="0.8"/>
<circle cx="307.25" cy="1125.7" r="1.25" fill="none" stroke="#555" stroke-width="0.55" opacity="0.8"/>
<circle cx="369.35" cy="1125.2" r="1.25" fill="none" stroke="#555" stroke-width="0.55" opacity="0.8"/>
<circle cx="300.12" cy="1131.43" r="1.25" fill="none" stroke="#555" stroke-width="0.55" opacity="0.8"/>
<circle cx="315.39" cy="1132.83" r="1.25" fill="none" stroke="#555" stroke-width="0.55" opacity="0.8"/>
<circle cx="326.69" cy="1131.43" r="1.25" fill="none" stroke="#555" stroke-width="0.55" opacity="0.8"/>
<circle cx="338.3" cy="1131.43" r="1.25" fill="none" stroke="#555" stroke-width="0.55" opacity="0.8"/>
<circle cx="349.91" cy="1131.43" r="1.25" fill="none" stroke="#555" stroke-width="0.55" opacity="0.8"/>
<circle cx="360.7" cy="1132.83" r="1.25" fill="none" stroke="#555" stroke-width="0.55" opacity="0.8"/>
<circle cx="376.48" cy="1131.43" r="1.25" fill="none" stroke="#555" stroke-width="0.55" opacity="0.8"/>
<circle cx="326.69" cy="1139.45" r="1.25" fill="none" stroke="#555" stroke-width="0.55" opacity="0.8"/>
<circle cx="338.3" cy="1140.72" r="1.25" fill="none" stroke="#555" stroke-width="0.55" opacity="0.8"/>
<circle cx="349.91" cy="1139.45" r="1.25" fill="none" stroke="#555" stroke-width="0.55" opacity="0.8"/>
<circle cx="338.3" cy="1149.63" r="1.25" fill="none" stroke="#555" stroke-width="0.55" opacity="0.8"/>
<path d="M511.7,1053 C511.7,1042.15 521.7,1042.15 521.7,1053" fill="#fff" stroke="#666" stroke-width="0.8"/>
<clipPath id="c9"><circle cx="516.7" cy="1103.3" r="50.9"/></clipPath>
<circle cx="516.7" cy="1103.3" r="50.9" fill="#fff"/>
<g clip-path="url(#c9)"><g filter="url(#blur0_5)"><g transform="translate(516.7,1103.3) scale(50.9)">
<path d="M-1.3,-0.9 C-1.25,-0.9 -1.04,-0.98 -0.97,-0.9 C-0.9,-0.82 -0.93,-0.55 -0.9,-0.43 C-0.87,-0.32 -0.87,-0.27 -0.8,-0.21 C-0.73,-0.15 -0.6,-0.12 -0.5,-0.07 C-0.4,-0.02 -0.28,0.03 -0.19,0.07 C-0.1,0.11 -0.06,0.15 0.01,0.16 C0.07,0.17 0.14,0.15 0.2,0.1 C0.27,0.05 0.32,-0.06 0.4,-0.12 C0.48,-0.18 0.58,-0.23 0.68,-0.24 C0.78,-0.25 0.9,-0.21 1,-0.2 C1.1,-0.19 1.25,-0.2 1.3,-0.2 L1.3,-1.4 L-1.3,-1.4 Z" fill="#d6d6fb"/>
<path d="M-1.3,-0.9 C-1.23,-0.9 -0.98,-0.96 -0.9,-0.9 C-0.82,-0.84 -0.85,-0.64 -0.83,-0.54 C-0.81,-0.44 -0.83,-0.39 -0.78,-0.32 C-0.73,-0.26 -0.64,-0.2 -0.55,-0.15 C-0.46,-0.1 -0.31,-0.07 -0.22,-0.04 C-0.13,-0.01 -0.07,0.02 0.01,0.02 C0.08,0.02 0.17,-0 0.23,-0.04 C0.3,-0.08 0.33,-0.16 0.4,-0.21 C0.48,-0.26 0.58,-0.31 0.68,-0.32 C0.78,-0.33 0.9,-0.29 1,-0.29 C1.1,-0.28 1.25,-0.29 1.3,-0.29 L1.3,-1.4 L-1.3,-1.4 Z" fill="#b2b2f6"/>
<path d="M-1.3,-1 C-1.2,-1 -0.83,-1.04 -0.72,-1 C-0.61,-0.96 -0.67,-0.84 -0.66,-0.74 C-0.65,-0.64 -0.68,-0.49 -0.64,-0.4 C-0.6,-0.31 -0.52,-0.26 -0.41,-0.21 C-0.3,-0.16 -0.1,-0.12 0.01,-0.12 C0.12,-0.11 0.16,-0.14 0.23,-0.18 C0.3,-0.22 0.38,-0.31 0.46,-0.35 C0.54,-0.39 0.61,-0.39 0.7,-0.4 C0.79,-0.41 0.9,-0.4 1,-0.4 C1.1,-0.4 1.25,-0.4 1.3,-0.4 L1.3,-1.4 L-1.3,-1.4 Z" fill="#8282ee"/>
<path d="M-1.3,-1.1 C-1.17,-1.1 -0.64,-1.14 -0.5,-1.1 C-0.36,-1.06 -0.45,-0.96 -0.44,-0.88 C-0.43,-0.8 -0.47,-0.67 -0.45,-0.6 C-0.43,-0.53 -0.38,-0.47 -0.3,-0.43 C-0.22,-0.39 -0.09,-0.38 0.01,-0.38 C0.11,-0.38 0.2,-0.4 0.29,-0.43 C0.38,-0.46 0.47,-0.51 0.57,-0.53 C0.67,-0.55 0.83,-0.54 0.9,-0.54 C0.97,-0.54 0.93,-0.54 1,-0.54 C1.07,-0.54 1.25,-0.54 1.3,-0.54 L1.3,-1.4 L-1.3,-1.4 Z" fill="#5252e8"/>
<path d="M-1.3,-1.2 C-1.12,-1.2 -0.43,-1.24 -0.24,-1.2 C-0.05,-1.16 -0.19,-1.06 -0.19,-0.98 C-0.19,-0.9 -0.25,-0.78 -0.24,-0.71 C-0.23,-0.64 -0.2,-0.6 -0.13,-0.57 C-0.07,-0.54 0.05,-0.53 0.15,-0.54 C0.25,-0.55 0.37,-0.58 0.46,-0.61 C0.55,-0.64 0.62,-0.68 0.71,-0.71 C0.8,-0.74 0.9,-0.79 1,-0.8 C1.1,-0.82 1.25,-0.8 1.3,-0.8 L1.3,-1.4 L-1.3,-1.4 Z" fill="#2a2ae4"/>
<ellipse cx="0.26" cy="-0.85" rx="0.08" ry="0.05" fill="#1616b4" transform="rotate(-10 0.26 -0.85)"/>
<path d="M-1.3,-0.08 C-1.25,-0.08 -1.1,-0.11 -1,-0.08 C-0.9,-0.05 -0.78,0.03 -0.69,0.07 C-0.6,0.11 -0.54,0.11 -0.47,0.16 C-0.4,0.21 -0.33,0.3 -0.27,0.35 C-0.21,0.4 -0.18,0.44 -0.13,0.46 C-0.08,0.48 -0.04,0.5 0.01,0.49 C0.06,0.48 0.12,0.46 0.18,0.41 C0.24,0.36 0.3,0.27 0.37,0.21 C0.44,0.15 0.52,0.08 0.62,0.04 C0.72,0 0.89,-0.01 1,-0.02 C1.11,-0.03 1.25,-0.02 1.3,-0.02 L1.3,1.4 L-1.3,1.4 Z" fill="#fdd0d0"/>
<path d="M-1.3,0.01 C-1.25,0.01 -1.1,-0.02 -1,0.01 C-0.9,0.03 -0.78,0.12 -0.69,0.16 C-0.6,0.2 -0.54,0.2 -0.47,0.24 C-0.4,0.29 -0.33,0.39 -0.27,0.43 C-0.21,0.48 -0.18,0.52 -0.13,0.55 C-0.08,0.57 -0.04,0.58 0.01,0.57 C0.06,0.57 0.12,0.54 0.18,0.49 C0.24,0.45 0.3,0.36 0.37,0.29 C0.44,0.23 0.52,0.16 0.62,0.12 C0.72,0.09 0.89,0.07 1,0.07 C1.11,0.06 1.25,0.07 1.3,0.07 L1.3,1.4 L-1.3,1.4 Z" fill="#f9a0a0"/>
<path d="M-1.3,0.09 C-1.25,0.09 -1.1,0.07 -1,0.09 C-0.9,0.12 -0.78,0.2 -0.69,0.24 C-0.6,0.28 -0.54,0.28 -0.47,0.33 C-0.4,0.38 -0.33,0.47 -0.27,0.52 C-0.21,0.57 -0.18,0.61 -0.13,0.63 C-0.08,0.65 -0.04,0.67 0.01,0.66 C0.06,0.65 0.12,0.63 0.18,0.58 C0.24,0.53 0.3,0.44 0.37,0.38 C0.44,0.32 0.52,0.25 0.62,0.21 C0.72,0.17 0.89,0.16 1,0.15 C1.11,0.14 1.25,0.15 1.3,0.15 L1.3,1.4 L-1.3,1.4 Z" fill="#f46060"/>
<path d="M-1.3,0.17 C-1.25,0.17 -1.1,0.15 -1,0.17 C-0.9,0.2 -0.78,0.29 -0.69,0.33 C-0.6,0.36 -0.54,0.37 -0.47,0.42 C-0.4,0.46 -0.33,0.55 -0.27,0.6 C-0.21,0.66 -0.18,0.69 -0.13,0.72 C-0.08,0.74 -0.04,0.75 0.01,0.74 C0.06,0.74 0.12,0.71 0.18,0.67 C0.24,0.62 0.3,0.53 0.37,0.46 C0.44,0.4 0.52,0.33 0.62,0.29 C0.72,0.26 0.89,0.24 1,0.24 C1.11,0.23 1.25,0.24 1.3,0.24 L1.3,1.4 L-1.3,1.4 Z" fill="#f00808"/>
<ellipse cx="-0.59" cy="0.56" rx="0.22" ry="0.19" fill="#c40000" transform="rotate(20 -0.59 0.56)"/>
<ellipse cx="-0.6" cy="0.57" rx="0.13" ry="0.11" fill="#b40000" transform="rotate(20 -0.6 0.57)"/>
<ellipse cx="0.6" cy="0.61" rx="0.37" ry="0.35" fill="#cc0000" transform="rotate(-35 0.6 0.61)"/>
<ellipse cx="0.6" cy="0.6" rx="0.27" ry="0.24" fill="#9c0000" transform="rotate(-35 0.6 0.6)"/>
<ellipse cx="0.58" cy="0.61" rx="0.18" ry="0.15" fill="#700000" transform="rotate(-35 0.58 0.61)"/>
<ellipse cx="0.55" cy="0.63" rx="0.1" ry="0.09" fill="#440000" transform="rotate(-35 0.55 0.63)"/>
</g></g></g>
<circle cx="516.7" cy="1103.3" r="50.9" fill="none" stroke="#222" stroke-width="0.8"/>
<circle cx="505.09" cy="1065.94" r="1.25" fill="none" stroke="#555" stroke-width="0.55" opacity="0.8"/>
<circle cx="516.7" cy="1065.94" r="1.25" fill="none" stroke="#555" stroke-width="0.55" opacity="0.8"/>
<circle cx="528.31" cy="1065.94" r="1.25" fill="none" stroke="#555" stroke-width="0.55" opacity="0.8"/>
<circle cx="493.95" cy="1073.4" r="1.25" fill="none" stroke="#555" stroke-width="0.55" opacity="0.8"/>
<circle cx="505.09" cy="1073.4" r="1.25" fill="none" stroke="#555" stroke-width="0.55" opacity="0.8"/>
<circle cx="516.7" cy="1073.4" r="1.25" fill="none" stroke="#555" stroke-width="0.55" opacity="0.8"/>
<circle cx="528.31" cy="1073.4" r="1.25" fill="none" stroke="#555" stroke-width="0.55" opacity="0.8"/>
<circle cx="539.45" cy="1073.4" r="1.25" fill="none" stroke="#555" stroke-width="0.55" opacity="0.8"/>
<circle cx="485.65" cy="1080.9" r="1.25" fill="none" stroke="#555" stroke-width="0.55" opacity="0.8"/>
<circle cx="493.16" cy="1082.43" r="1.25" fill="none" stroke="#555" stroke-width="0.55" opacity="0.8"/>
<circle cx="500.79" cy="1082.43" r="1.25" fill="none" stroke="#555" stroke-width="0.55" opacity="0.8"/>
<circle cx="508.76" cy="1082.43" r="1.25" fill="none" stroke="#555" stroke-width="0.55" opacity="0.8"/>
<circle cx="516.7" cy="1082.43" r="1.25" fill="none" stroke="#555" stroke-width="0.55" opacity="0.8"/>
<circle cx="524.64" cy="1082.43" r="1.25" fill="none" stroke="#555" stroke-width="0.55" opacity="0.8"/>
<circle cx="532.61" cy="1082.43" r="1.25" fill="none" stroke="#555" stroke-width="0.55" opacity="0.8"/>
<circle cx="540.24" cy="1082.43" r="1.25" fill="none" stroke="#555" stroke-width="0.55" opacity="0.8"/>
<circle cx="547.75" cy="1080.9" r="1.25" fill="none" stroke="#555" stroke-width="0.55" opacity="0.8"/>
<circle cx="480.05" cy="1092.48" r="1.25" fill="none" stroke="#555" stroke-width="0.55" opacity="0.8"/>
<circle cx="489.21" cy="1092.48" r="1.25" fill="none" stroke="#555" stroke-width="0.55" opacity="0.8"/>
<circle cx="498.38" cy="1092.48" r="1.25" fill="none" stroke="#555" stroke-width="0.55" opacity="0.8"/>
<circle cx="507.54" cy="1092.48" r="1.25" fill="none" stroke="#555" stroke-width="0.55" opacity="0.8"/>
<circle cx="516.7" cy="1092.48" r="1.25" fill="none" stroke="#555" stroke-width="0.55" opacity="0.8"/>
<circle cx="525.86" cy="1092.48" r="1.25" fill="none" stroke="#555" stroke-width="0.55" opacity="0.8"/>
<circle cx="535.02" cy="1092.48" r="1.25" fill="none" stroke="#555" stroke-width="0.55" opacity="0.8"/>
<circle cx="544.19" cy="1092.48" r="1.25" fill="none" stroke="#555" stroke-width="0.55" opacity="0.8"/>
<circle cx="553.35" cy="1092.48" r="1.25" fill="none" stroke="#555" stroke-width="0.55" opacity="0.8"/>
<circle cx="478.53" cy="1103.3" r="1.25" fill="none" stroke="#555" stroke-width="0.55" opacity="0.8"/>
<circle cx="488.07" cy="1103.3" r="1.25" fill="none" stroke="#555" stroke-width="0.55" opacity="0.8"/>
<circle cx="497.61" cy="1103.3" r="1.25" fill="none" stroke="#555" stroke-width="0.55" opacity="0.8"/>
<circle cx="507.16" cy="1103.3" r="1.25" fill="none" stroke="#555" stroke-width="0.55" opacity="0.8"/>
<circle cx="516.7" cy="1103.3" r="1.25" fill="none" stroke="#555" stroke-width="0.55" opacity="0.8"/>
<circle cx="526.24" cy="1103.3" r="1.25" fill="none" stroke="#555" stroke-width="0.55" opacity="0.8"/>
<circle cx="535.79" cy="1103.3" r="1.25" fill="none" stroke="#555" stroke-width="0.55" opacity="0.8"/>
<circle cx="545.33" cy="1103.3" r="1.25" fill="none" stroke="#555" stroke-width="0.55" opacity="0.8"/>
<circle cx="554.88" cy="1103.3" r="1.25" fill="none" stroke="#555" stroke-width="0.55" opacity="0.8"/>
<circle cx="480.05" cy="1113.63" r="1.25" fill="none" stroke="#555" stroke-width="0.55" opacity="0.8"/>
<circle cx="489.21" cy="1113.63" r="1.25" fill="none" stroke="#555" stroke-width="0.55" opacity="0.8"/>
<circle cx="498.38" cy="1113.63" r="1.25" fill="none" stroke="#555" stroke-width="0.55" opacity="0.8"/>
<circle cx="507.54" cy="1113.63" r="1.25" fill="none" stroke="#555" stroke-width="0.55" opacity="0.8"/>
<circle cx="516.7" cy="1113.63" r="1.25" fill="none" stroke="#555" stroke-width="0.55" opacity="0.8"/>
<circle cx="525.86" cy="1113.63" r="1.25" fill="none" stroke="#555" stroke-width="0.55" opacity="0.8"/>
<circle cx="535.02" cy="1113.63" r="1.25" fill="none" stroke="#555" stroke-width="0.55" opacity="0.8"/>
<circle cx="544.19" cy="1113.63" r="1.25" fill="none" stroke="#555" stroke-width="0.55" opacity="0.8"/>
<circle cx="553.35" cy="1113.63" r="1.25" fill="none" stroke="#555" stroke-width="0.55" opacity="0.8"/>
<circle cx="493.16" cy="1122.85" r="1.25" fill="none" stroke="#555" stroke-width="0.55" opacity="0.8"/>
<circle cx="500.79" cy="1122.85" r="1.25" fill="none" stroke="#555" stroke-width="0.55" opacity="0.8"/>
<circle cx="508.76" cy="1122.85" r="1.25" fill="none" stroke="#555" stroke-width="0.55" opacity="0.8"/>
<circle cx="516.7" cy="1122.85" r="1.25" fill="none" stroke="#555" stroke-width="0.55" opacity="0.8"/>
<circle cx="524.64" cy="1122.85" r="1.25" fill="none" stroke="#555" stroke-width="0.55" opacity="0.8"/>
<circle cx="532.61" cy="1122.85" r="1.25" fill="none" stroke="#555" stroke-width="0.55" opacity="0.8"/>
<circle cx="540.24" cy="1122.85" r="1.25" fill="none" stroke="#555" stroke-width="0.55" opacity="0.8"/>
<circle cx="485.65" cy="1126.2" r="1.25" fill="none" stroke="#555" stroke-width="0.55" opacity="0.8"/>
<circle cx="547.75" cy="1125.7" r="1.25" fill="none" stroke="#555" stroke-width="0.55" opacity="0.8"/>
<circle cx="478.53" cy="1131.93" r="1.25" fill="none" stroke="#555" stroke-width="0.55" opacity="0.8"/>
<circle cx="493.8" cy="1133.33" r="1.25" fill="none" stroke="#555" stroke-width="0.55" opacity="0.8"/>
<circle cx="505.09" cy="1131.93" r="1.25" fill="none" stroke="#555" stroke-width="0.55" opacity="0.8"/>
<circle cx="516.7" cy="1131.93" r="1.25" fill="none" stroke="#555" stroke-width="0.55" opacity="0.8"/>
<circle cx="528.31" cy="1131.93" r="1.25" fill="none" stroke="#555" stroke-width="0.55" opacity="0.8"/>
<circle cx="539.1" cy="1133.33" r="1.25" fill="none" stroke="#555" stroke-width="0.55" opacity="0.8"/>
<circle cx="554.88" cy="1131.93" r="1.25" fill="none" stroke="#555" stroke-width="0.55" opacity="0.8"/>
<circle cx="505.09" cy="1139.95" r="1.25" fill="none" stroke="#555" stroke-width="0.55" opacity="0.8"/>
<circle cx="516.7" cy="1141.22" r="1.25" fill="none" stroke="#555" stroke-width="0.55" opacity="0.8"/>
<circle cx="528.31" cy="1139.95" r="1.25" fill="none" stroke="#555" stroke-width="0.55" opacity="0.8"/>
<circle cx="516.7" cy="1150.13" r="1.25" fill="none" stroke="#555" stroke-width="0.55" opacity="0.8"/>
<text x="98.5" y="1160" font-size="17.6" text-anchor="start" font-weight="normal" fill="#111">neg</text>
<text x="203.6" y="1160" font-size="17.6" text-anchor="start" font-weight="normal" fill="#111">pos</text>
<path d="M131.3,1164.9 C131.3,1158.05 136.5,1158.05 136.5,1164.9" fill="#fff" stroke="#666" stroke-width="0.8"/>
<clipPath id="c10"><circle cx="133.9" cy="1195" r="30.7"/></clipPath>
<circle cx="133.9" cy="1195" r="30.7" fill="#fff"/>
<g clip-path="url(#c10)"><g filter="url(#blur0_4)"><g transform="translate(133.9,1195) scale(30.7)">
<ellipse cx="0" cy="0" rx="1.1" ry="1.1" fill="#b6b6f8"/>
<path d="M-1.3,-0.55 C-1.25,-0.55 -1.12,-0.53 -1,-0.55 C-0.88,-0.58 -0.72,-0.69 -0.6,-0.7 C-0.48,-0.71 -0.4,-0.64 -0.3,-0.6 C-0.2,-0.56 -0.1,-0.45 0,-0.45 C0.1,-0.45 0.2,-0.56 0.3,-0.6 C0.4,-0.64 0.48,-0.72 0.6,-0.7 C0.72,-0.68 0.88,-0.53 1,-0.5 C1.12,-0.47 1.25,-0.5 1.3,-0.5 L1.3,-1.4 L-1.3,-1.4 Z" fill="#8c8cf2"/>
<ellipse cx="-0.52" cy="-0.6" rx="0.2" ry="0.11" fill="#cfcffb" transform="rotate(-30 -0.52 -0.6)"/>
<ellipse cx="0.64" cy="-0.52" rx="0.2" ry="0.15" fill="#cfcffb" transform="rotate(45 0.64 -0.52)"/>
<ellipse cx="0" cy="-0.28" rx="0.63" ry="0.31" fill="#7e7eee"/>
<ellipse cx="0.02" cy="-0.26" rx="0.43" ry="0.23" fill="#5a5ae8"/>
<ellipse cx="0.01" cy="-0.24" rx="0.2" ry="0.14" fill="#1010e4"/>
<path d="M-1.3,-0.15 C-1.25,-0.15 -1.09,-0.16 -1,-0.15 C-0.91,-0.14 -0.84,-0.12 -0.76,-0.1 C-0.68,-0.08 -0.61,-0.04 -0.53,0 C-0.45,0.04 -0.34,0.11 -0.25,0.14 C-0.16,0.18 -0.09,0.21 0,0.21 C0.09,0.21 0.18,0.18 0.26,0.14 C0.34,0.11 0.41,0.04 0.49,0 C0.57,-0.04 0.66,-0.08 0.74,-0.12 C0.82,-0.16 0.91,-0.21 1,-0.23 C1.09,-0.25 1.25,-0.23 1.3,-0.23 L1.3,1.4 L-1.3,1.4 Z" fill="#ffffff"/>
<path d="M-1.3,0.16 C-1.25,0.16 -1.1,0.16 -1,0.16 C-0.9,0.16 -0.78,0.14 -0.68,0.16 C-0.58,0.18 -0.5,0.25 -0.39,0.28 C-0.28,0.31 -0.12,0.36 0,0.36 C0.12,0.36 0.22,0.32 0.32,0.28 C0.42,0.24 0.49,0.18 0.6,0.14 C0.71,0.1 0.88,0.07 1,0.05 C1.12,0.04 1.25,0.05 1.3,0.05 L1.3,1.4 L-1.3,1.4 Z" fill="#fdd0d0"/>
<path d="M-1.3,0.2 C-1.25,0.2 -1.1,0.2 -1,0.2 C-0.9,0.2 -0.78,0.18 -0.68,0.2 C-0.58,0.22 -0.5,0.29 -0.39,0.32 C-0.28,0.36 -0.12,0.4 0,0.4 C0.12,0.4 0.22,0.36 0.32,0.32 C0.42,0.29 0.49,0.22 0.6,0.18 C0.71,0.14 0.88,0.11 1,0.09 C1.12,0.08 1.25,0.09 1.3,0.09 L1.3,1.4 L-1.3,1.4 Z" fill="#f99c9c"/>
<path d="M-1.3,0.24 C-1.25,0.24 -1.1,0.24 -1,0.24 C-0.9,0.24 -0.78,0.22 -0.68,0.24 C-0.58,0.26 -0.5,0.33 -0.39,0.36 C-0.28,0.4 -0.12,0.44 0,0.44 C0.12,0.44 0.22,0.4 0.32,0.36 C0.42,0.33 0.49,0.26 0.6,0.22 C0.71,0.19 0.88,0.15 1,0.13 C1.12,0.12 1.25,0.13 1.3,0.13 L1.3,1.4 L-1.3,1.4 Z" fill="#f46060"/>
<path d="M-1.3,0.29 C-1.25,0.29 -1.1,0.29 -1,0.29 C-0.9,0.29 -0.78,0.27 -0.68,0.29 C-0.58,0.31 -0.5,0.37 -0.39,0.41 C-0.28,0.44 -0.12,0.49 0,0.49 C0.12,0.49 0.22,0.44 0.32,0.41 C0.42,0.37 0.49,0.3 0.6,0.27 C0.71,0.23 0.88,0.19 1,0.18 C1.12,0.16 1.25,0.18 1.3,0.18 L1.3,1.4 L-1.3,1.4 Z" fill="#ec2424"/>
<path d="M-1.3,0.33 C-1.25,0.33 -1.1,0.33 -1,0.33 C-0.9,0.33 -0.78,0.31 -0.68,0.33 C-0.58,0.35 -0.5,0.41 -0.39,0.45 C-0.28,0.48 -0.12,0.53 0,0.53 C0.12,0.53 0.22,0.48 0.32,0.45 C0.42,0.41 0.49,0.35 0.6,0.31 C0.71,0.27 0.88,0.23 1,0.22 C1.12,0.2 1.25,0.22 1.3,0.22 L1.3,1.4 L-1.3,1.4 Z" fill="#e00000"/>
<path d="M-1.3,0.4 C-1.25,0.4 -1.13,0.39 -1,0.4 C-0.87,0.41 -0.67,0.44 -0.5,0.48 C-0.33,0.52 -0.17,0.62 0,0.62 C0.17,0.62 0.33,0.54 0.5,0.5 C0.67,0.46 0.87,0.39 1,0.37 C1.13,0.35 1.25,0.37 1.3,0.37 L1.3,1.4 L-1.3,1.4 Z" fill="#b40000"/>
<path d="M-1.3,0.45 C-1.25,0.45 -1.13,0.44 -1,0.45 C-0.87,0.46 -0.67,0.49 -0.5,0.53 C-0.33,0.57 -0.17,0.67 0,0.67 C0.17,0.67 0.33,0.59 0.5,0.55 C0.67,0.51 0.87,0.44 1,0.42 C1.13,0.4 1.25,0.42 1.3,0.42 L1.3,1.4 L-1.3,1.4 Z" fill="#980000"/>
<ellipse cx="-0.36" cy="0.63" rx="0.34" ry="0.14" fill="#780000" transform="rotate(14 -0.36 0.63)"/>
<ellipse cx="-0.36" cy="0.63" rx="0.2" ry="0.08" fill="#5c0000" transform="rotate(14 -0.36 0.63)"/>
<ellipse cx="0.42" cy="0.68" rx="0.3" ry="0.12" fill="#780000" transform="rotate(-22 0.42 0.68)"/>
<ellipse cx="0.42" cy="0.68" rx="0.15" ry="0.06" fill="#5c0000" transform="rotate(-22 0.42 0.68)"/>
<path d="M-1.2,1.3 L1.2,1.3 L1.2,0.62 Q0,1.16 -1.2,0.62 Z" fill="#c40000"/>
</g></g></g>
<circle cx="133.9" cy="1195" r="30.7" fill="none" stroke="#222" stroke-width="0.7"/>
<circle cx="126.9" cy="1172.47" r="0.75" fill="#333" opacity="0.6"/>
<circle cx="133.9" cy="1172.47" r="0.75" fill="#333" opacity="0.6"/>
<circle cx="140.9" cy="1172.47" r="0.75" fill="#333" opacity="0.6"/>
<circle cx="120.18" cy="1176.96" r="0.75" fill="#333" opacity="0.6"/>
<circle cx="126.9" cy="1176.96" r="0.75" fill="#333" opacity="0.6"/>
<circle cx="133.9" cy="1176.96" r="0.75" fill="#333" opacity="0.6"/>
<circle cx="140.9" cy="1176.96" r="0.75" fill="#333" opacity="0.6"/>
<circle cx="147.62" cy="1176.96" r="0.75" fill="#333" opacity="0.6"/>
<circle cx="115.17" cy="1181.49" r="0.75" fill="#333" opacity="0.6"/>
<circle cx="119.7" cy="1182.41" r="0.75" fill="#333" opacity="0.6"/>
<circle cx="124.31" cy="1182.41" r="0.75" fill="#333" opacity="0.6"/>
<circle cx="129.11" cy="1182.41" r="0.75" fill="#333" opacity="0.6"/>
<circle cx="133.9" cy="1182.41" r="0.75" fill="#333" opacity="0.6"/>
<circle cx="138.69" cy="1182.41" r="0.75" fill="#333" opacity="0.6"/>
<circle cx="143.49" cy="1182.41" r="0.75" fill="#333" opacity="0.6"/>
<circle cx="148.1" cy="1182.41" r="0.75" fill="#333" opacity="0.6"/>
<circle cx="152.63" cy="1181.49" r="0.75" fill="#333" opacity="0.6"/>
<circle cx="111.8" cy="1188.48" r="0.75" fill="#333" opacity="0.6"/>
<circle cx="117.32" cy="1188.48" r="0.75" fill="#333" opacity="0.6"/>
<circle cx="122.85" cy="1188.48" r="0.75" fill="#333" opacity="0.6"/>
<circle cx="128.37" cy="1188.48" r="0.75" fill="#333" opacity="0.6"/>
<circle cx="133.9" cy="1188.48" r="0.75" fill="#333" opacity="0.6"/>
<circle cx="139.43" cy="1188.48" r="0.75" fill="#333" opacity="0.6"/>
<circle cx="144.95" cy="1188.48" r="0.75" fill="#333" opacity="0.6"/>
<circle cx="150.48" cy="1188.48" r="0.75" fill="#333" opacity="0.6"/>
<circle cx="156" cy="1188.48" r="0.75" fill="#333" opacity="0.6"/>
<circle cx="110.88" cy="1195" r="0.75" fill="#333" opacity="0.6"/>
<circle cx="116.63" cy="1195" r="0.75" fill="#333" opacity="0.6"/>
<circle cx="122.39" cy="1195" r="0.75" fill="#333" opacity="0.6"/>
<circle cx="128.14" cy="1195" r="0.75" fill="#333" opacity="0.6"/>
<circle cx="133.9" cy="1195" r="0.75" fill="#333" opacity="0.6"/>
<circle cx="139.66" cy="1195" r="0.75" fill="#333" opacity="0.6"/>
<circle cx="145.41" cy="1195" r="0.75" fill="#333" opacity="0.6"/>
<circle cx="151.17" cy="1195" r="0.75" fill="#333" opacity="0.6"/>
<circle cx="156.93" cy="1195" r="0.75" fill="#333" opacity="0.6"/>
<circle cx="111.8" cy="1201.23" r="0.75" fill="#333" opacity="0.6"/>
<circle cx="117.32" cy="1201.23" r="0.75" fill="#333" opacity="0.6"/>
<circle cx="122.85" cy="1201.23" r="0.75" fill="#333" opacity="0.6"/>
<circle cx="128.37" cy="1201.23" r="0.75" fill="#333" opacity="0.6"/>
<circle cx="133.9" cy="1201.23" r="0.75" fill="#333" opacity="0.6"/>
<circle cx="139.43" cy="1201.23" r="0.75" fill="#333" opacity="0.6"/>
<circle cx="144.95" cy="1201.23" r="0.75" fill="#333" opacity="0.6"/>
<circle cx="150.48" cy="1201.23" r="0.75" fill="#333" opacity="0.6"/>
<circle cx="156" cy="1201.23" r="0.75" fill="#333" opacity="0.6"/>
<circle cx="119.7" cy="1206.79" r="0.75" fill="#333" opacity="0.6"/>
<circle cx="124.31" cy="1206.79" r="0.75" fill="#333" opacity="0.6"/>
<circle cx="129.11" cy="1206.79" r="0.75" fill="#333" opacity="0.6"/>
<circle cx="133.9" cy="1206.79" r="0.75" fill="#333" opacity="0.6"/>
<circle cx="138.69" cy="1206.79" r="0.75" fill="#333" opacity="0.6"/>
<circle cx="143.49" cy="1206.79" r="0.75" fill="#333" opacity="0.6"/>
<circle cx="148.1" cy="1206.79" r="0.75" fill="#333" opacity="0.6"/>
<circle cx="115.17" cy="1208.82" r="0.75" fill="#333" opacity="0.6"/>
<circle cx="152.63" cy="1208.51" r="0.75" fill="#333" opacity="0.6"/>
<circle cx="110.88" cy="1212.27" r="0.75" fill="#333" opacity="0.6"/>
<circle cx="120.09" cy="1213.11" r="0.75" fill="#333" opacity="0.6"/>
<circle cx="126.9" cy="1212.27" r="0.75" fill="#333" opacity="0.6"/>
<circle cx="133.9" cy="1212.27" r="0.75" fill="#333" opacity="0.6"/>
<circle cx="140.9" cy="1212.27" r="0.75" fill="#333" opacity="0.6"/>
<circle cx="147.41" cy="1213.11" r="0.75" fill="#333" opacity="0.6"/>
<circle cx="156.93" cy="1212.27" r="0.75" fill="#333" opacity="0.6"/>
<circle cx="126.9" cy="1217.1" r="0.75" fill="#333" opacity="0.6"/>
<circle cx="133.9" cy="1217.87" r="0.75" fill="#333" opacity="0.6"/>
<circle cx="140.9" cy="1217.1" r="0.75" fill="#333" opacity="0.6"/>
<circle cx="133.9" cy="1223.24" r="0.75" fill="#333" opacity="0.6"/>
<path d="M195.9,1164.9 C195.9,1158.05 201.1,1158.05 201.1,1164.9" fill="#fff" stroke="#666" stroke-width="0.8"/>
<clipPath id="c11"><circle cx="198.5" cy="1195" r="30.7"/></clipPath>
<circle cx="198.5" cy="1195" r="30.7" fill="#fff"/>
<g clip-path="url(#c11)"><g filter="url(#blur0_4)"><g transform="translate(198.5,1195) scale(30.7)">
<ellipse cx="0" cy="0" rx="1.1" ry="1.1" fill="#b6b6f8"/>
<path d="M-1.3,-0.55 C-1.25,-0.55 -1.12,-0.53 -1,-0.55 C-0.88,-0.58 -0.72,-0.69 -0.6,-0.7 C-0.48,-0.71 -0.4,-0.64 -0.3,-0.6 C-0.2,-0.56 -0.1,-0.45 0,-0.45 C0.1,-0.45 0.2,-0.56 0.3,-0.6 C0.4,-0.64 0.48,-0.72 0.6,-0.7 C0.72,-0.68 0.88,-0.53 1,-0.5 C1.12,-0.47 1.25,-0.5 1.3,-0.5 L1.3,-1.4 L-1.3,-1.4 Z" fill="#8c8cf2"/>
<ellipse cx="-0.52" cy="-0.6" rx="0.2" ry="0.11" fill="#cfcffb" transform="rotate(-30 -0.52 -0.6)"/>
<ellipse cx="0.64" cy="-0.52" rx="0.2" ry="0.15" fill="#cfcffb" transform="rotate(45 0.64 -0.52)"/>
<ellipse cx="0" cy="-0.28" rx="0.63" ry="0.31" fill="#7c7cee"/>
<ellipse cx="0.02" cy="-0.26" rx="0.43" ry="0.23" fill="#4e4ee8"/>
<ellipse cx="0.01" cy="-0.24" rx="0.2" ry="0.14" fill="#4a4ae8"/>
<path d="M-1.3,-0.15 C-1.25,-0.15 -1.09,-0.16 -1,-0.15 C-0.91,-0.14 -0.84,-0.12 -0.76,-0.1 C-0.68,-0.08 -0.61,-0.04 -0.53,0 C-0.45,0.04 -0.34,0.11 -0.25,0.14 C-0.16,0.18 -0.09,0.21 0,0.21 C0.09,0.21 0.18,0.18 0.26,0.14 C0.34,0.11 0.41,0.04 0.49,0 C0.57,-0.04 0.66,-0.08 0.74,-0.12 C0.82,-0.16 0.91,-0.21 1,-0.23 C1.09,-0.25 1.25,-0.23 1.3,-0.23 L1.3,1.4 L-1.3,1.4 Z" fill="#ffffff"/>
<path d="M-1.3,0.16 C-1.25,0.16 -1.1,0.16 -1,0.16 C-0.9,0.16 -0.78,0.14 -0.68,0.16 C-0.58,0.18 -0.5,0.25 -0.39,0.28 C-0.28,0.31 -0.12,0.36 0,0.36 C0.12,0.36 0.22,0.32 0.32,0.28 C0.42,0.24 0.49,0.18 0.6,0.14 C0.71,0.1 0.88,0.07 1,0.05 C1.12,0.04 1.25,0.05 1.3,0.05 L1.3,1.4 L-1.3,1.4 Z" fill="#fdd0d0"/>
<path d="M-1.3,0.2 C-1.25,0.2 -1.1,0.2 -1,0.2 C-0.9,0.2 -0.78,0.18 -0.68,0.2 C-0.58,0.22 -0.5,0.29 -0.39,0.32 C-0.28,0.36 -0.12,0.4 0,0.4 C0.12,0.4 0.22,0.36 0.32,0.32 C0.42,0.29 0.49,0.22 0.6,0.18 C0.71,0.14 0.88,0.11 1,0.09 C1.12,0.08 1.25,0.09 1.3,0.09 L1.3,1.4 L-1.3,1.4 Z" fill="#f99c9c"/>
<path d="M-1.3,0.24 C-1.25,0.24 -1.1,0.24 -1,0.24 C-0.9,0.24 -0.78,0.22 -0.68,0.24 C-0.58,0.26 -0.5,0.33 -0.39,0.36 C-0.28,0.4 -0.12,0.44 0,0.44 C0.12,0.44 0.22,0.4 0.32,0.36 C0.42,0.33 0.49,0.26 0.6,0.22 C0.71,0.19 0.88,0.15 1,0.13 C1.12,0.12 1.25,0.13 1.3,0.13 L1.3,1.4 L-1.3,1.4 Z" fill="#f46060"/>
<path d="M-1.3,0.29 C-1.25,0.29 -1.1,0.29 -1,0.29 C-0.9,0.29 -0.78,0.27 -0.68,0.29 C-0.58,0.31 -0.5,0.37 -0.39,0.41 C-0.28,0.44 -0.12,0.49 0,0.49 C0.12,0.49 0.22,0.44 0.32,0.41 C0.42,0.37 0.49,0.3 0.6,0.27 C0.71,0.23 0.88,0.19 1,0.18 C1.12,0.16 1.25,0.18 1.3,0.18 L1.3,1.4 L-1.3,1.4 Z" fill="#ec2424"/>
<path d="M-1.3,0.33 C-1.25,0.33 -1.1,0.33 -1,0.33 C-0.9,0.33 -0.78,0.31 -0.68,0.33 C-0.58,0.35 -0.5,0.41 -0.39,0.45 C-0.28,0.48 -0.12,0.53 0,0.53 C0.12,0.53 0.22,0.48 0.32,0.45 C0.42,0.41 0.49,0.35 0.6,0.31 C0.71,0.27 0.88,0.23 1,0.22 C1.12,0.2 1.25,0.22 1.3,0.22 L1.3,1.4 L-1.3,1.4 Z" fill="#e00000"/>
<path d="M-1.3,0.4 C-1.25,0.4 -1.13,0.39 -1,0.4 C-0.87,0.41 -0.67,0.44 -0.5,0.48 C-0.33,0.52 -0.17,0.62 0,0.62 C0.17,0.62 0.33,0.54 0.5,0.5 C0.67,0.46 0.87,0.39 1,0.37 C1.13,0.35 1.25,0.37 1.3,0.37 L1.3,1.4 L-1.3,1.4 Z" fill="#b40000"/>
<path d="M-1.3,0.45 C-1.25,0.45 -1.13,0.44 -1,0.45 C-0.87,0.46 -0.67,0.49 -0.5,0.53 C-0.33,0.57 -0.17,0.67 0,0.67 C0.17,0.67 0.33,0.59 0.5,0.55 C0.67,0.51 0.87,0.44 1,0.42 C1.13,0.4 1.25,0.42 1.3,0.42 L1.3,1.4 L-1.3,1.4 Z" fill="#980000"/>
<path d="M-0.6,0.56 Q0,0.92 0.6,0.56" fill="none" stroke="#740000" stroke-width="0.13" stroke-linecap="round"/>
<path d="M-1.2,1.3 L1.2,1.3 L1.2,0.62 Q0,1.16 -1.2,0.62 Z" fill="#c40000"/>
</g></g></g>
<circle cx="198.5" cy="1195" r="30.7" fill="none" stroke="#222" stroke-width="0.7"/>
<circle cx="191.5" cy="1172.47" r="0.75" fill="#333" opacity="0.6"/>
<circle cx="198.5" cy="1172.47" r="0.75" fill="#333" opacity="0.6"/>
<circle cx="205.5" cy="1172.47" r="0.75" fill="#333" opacity="0.6"/>
<circle cx="184.78" cy="1176.96" r="0.75" fill="#333" opacity="0.6"/>
<circle cx="191.5" cy="1176.96" r="0.75" fill="#333" opacity="0.6"/>
<circle cx="198.5" cy="1176.96" r="0.75" fill="#333" opacity="0.6"/>
<circle cx="205.5" cy="1176.96" r="0.75" fill="#333" opacity="0.6"/>
<circle cx="212.22" cy="1176.96" r="0.75" fill="#333" opacity="0.6"/>
<circle cx="179.77" cy="1181.49" r="0.75" fill="#333" opacity="0.6"/>
<circle cx="184.3" cy="1182.41" r="0.75" fill="#333" opacity="0.6"/>
<circle cx="188.91" cy="1182.41" r="0.75" fill="#333" opacity="0.6"/>
<circle cx="193.71" cy="1182.41" r="0.75" fill="#333" opacity="0.6"/>
<circle cx="198.5" cy="1182.41" r="0.75" fill="#333" opacity="0.6"/>
<circle cx="203.29" cy="1182.41" r="0.75" fill="#333" opacity="0.6"/>
<circle cx="208.09" cy="1182.41" r="0.75" fill="#333" opacity="0.6"/>
<circle cx="212.7" cy="1182.41" r="0.75" fill="#333" opacity="0.6"/>
<circle cx="217.23" cy="1181.49" r="0.75" fill="#333" opacity="0.6"/>
<circle cx="176.4" cy="1188.48" r="0.75" fill="#333" opacity="0.6"/>
<circle cx="181.92" cy="1188.48" r="0.75" fill="#333" opacity="0.6"/>
<circle cx="187.45" cy="1188.48" r="0.75" fill="#333" opacity="0.6"/>
<circle cx="192.97" cy="1188.48" r="0.75" fill="#333" opacity="0.6"/>
<circle cx="198.5" cy="1188.48" r="0.75" fill="#333" opacity="0.6"/>
<circle cx="204.03" cy="1188.48" r="0.75" fill="#333" opacity="0.6"/>
<circle cx="209.55" cy="1188.48" r="0.75" fill="#333" opacity="0.6"/>
<circle cx="215.08" cy="1188.48" r="0.75" fill="#333" opacity="0.6"/>
<circle cx="220.6" cy="1188.48" r="0.75" fill="#333" opacity="0.6"/>
<circle cx="175.47" cy="1195" r="0.75" fill="#333" opacity="0.6"/>
<circle cx="181.23" cy="1195" r="0.75" fill="#333" opacity="0.6"/>
<circle cx="186.99" cy="1195" r="0.75" fill="#333" opacity="0.6"/>
<circle cx="192.74" cy="1195" r="0.75" fill="#333" opacity="0.6"/>
<circle cx="198.5" cy="1195" r="0.75" fill="#333" opacity="0.6"/>
<circle cx="204.26" cy="1195" r="0.75" fill="#333" opacity="0.6"/>
<circle cx="210.01" cy="1195" r="0.75" fill="#333" opacity="0.6"/>
<circle cx="215.77" cy="1195" r="0.75" fill="#333" opacity="0.6"/>
<circle cx="221.53" cy="1195" r="0.75" fill="#333" opacity="0.6"/>
<circle cx="176.4" cy="1201.23" r="0.75" fill="#333" opacity="0.6"/>
<circle cx="181.92" cy="1201.23" r="0.75" fill="#333" opacity="0.6"/>
<circle cx="187.45" cy="1201.23" r="0.75" fill="#333" opacity="0.6"/>
<circle cx="192.97" cy="1201.23" r="0.75" fill="#333" opacity="0.6"/>
<circle cx="198.5" cy="1201.23" r="0.75" fill="#333" opacity="0.6"/>
<circle cx="204.03" cy="1201.23" r="0.75" fill="#333" opacity="0.6"/>
<circle cx="209.55" cy="1201.23" r="0.75" fill="#333" opacity="0.6"/>
<circle cx="215.08" cy="1201.23" r="0.75" fill="#333" opacity="0.6"/>
<circle cx="220.6" cy="1201.23" r="0.75" fill="#333" opacity="0.6"/>
<circle cx="184.3" cy="1206.79" r="0.75" fill="#333" opacity="0.6"/>
<circle cx="188.91" cy="1206.79" r="0.75" fill="#333" opacity="0.6"/>
<circle cx="193.71" cy="1206.79" r="0.75" fill="#333" opacity="0.6"/>
<circle cx="198.5" cy="1206.79" r="0.75" fill="#333" opacity="0.6"/>
<circle cx="203.29" cy="1206.79" r="0.75" fill="#333" opacity="0.6"/>
<circle cx="208.09" cy="1206.79" r="0.75" fill="#333" opacity="0.6"/>
<circle cx="212.7" cy="1206.79" r="0.75" fill="#333" opacity="0.6"/>
<circle cx="179.77" cy="1208.82" r="0.75" fill="#333" opacity="0.6"/>
<circle cx="217.23" cy="1208.51" r="0.75" fill="#333" opacity="0.6"/>
<circle cx="175.47" cy="1212.27" r="0.75" fill="#333" opacity="0.6"/>
<circle cx="184.69" cy="1213.11" r="0.75" fill="#333" opacity="0.6"/>
<circle cx="191.5" cy="1212.27" r="0.75" fill="#333" opacity="0.6"/>
<circle cx="198.5" cy="1212.27" r="0.75" fill="#333" opacity="0.6"/>
<circle cx="205.5" cy="1212.27" r="0.75" fill="#333" opacity="0.6"/>
<circle cx="212.01" cy="1213.11" r="0.75" fill="#333" opacity="0.6"/>
<circle cx="221.53" cy="1212.27" r="0.75" fill="#333" opacity="0.6"/>
<circle cx="191.5" cy="1217.1" r="0.75" fill="#333" opacity="0.6"/>
<circle cx="198.5" cy="1217.87" r="0.75" fill="#333" opacity="0.6"/>
<circle cx="205.5" cy="1217.1" r="0.75" fill="#333" opacity="0.6"/>
<circle cx="198.5" cy="1223.24" r="0.75" fill="#333" opacity="0.6"/>
<text x="269.6" y="1160" font-size="17.6" text-anchor="start" font-weight="normal" fill="#111">neg</text>
<text x="375.3" y="1160" font-size="17.6" text-anchor="start" font-weight="normal" fill="#111">pos</text>
<path d="M300.4,1163.7 C300.4,1156.85 305.6,1156.85 305.6,1163.7" fill="#fff" stroke="#666" stroke-width="0.8"/>
<clipPath id="c12"><circle cx="303" cy="1193.8" r="30.7"/></clipPath>
<circle cx="303" cy="1193.8" r="30.7" fill="#fff"/>
<g clip-path="url(#c12)"><g filter="url(#blur0_4)"><g transform="translate(303,1193.8) scale(30.7)">
<ellipse cx="0" cy="0" rx="1.1" ry="1.1" fill="#c4c4f8"/>
<path d="M-1.3,-0.15 C-1.25,-0.15 -1.13,-0.14 -1,-0.15 C-0.87,-0.16 -0.62,-0.23 -0.5,-0.2 C-0.38,-0.18 -0.35,-0.03 -0.25,0 C-0.15,0.03 0.01,0.05 0.1,0 C0.19,-0.05 0.22,-0.24 0.3,-0.3 C0.38,-0.36 0.48,-0.35 0.6,-0.35 C0.72,-0.35 0.88,-0.31 1,-0.3 C1.12,-0.29 1.25,-0.3 1.3,-0.3 L1.3,-1.4 L-1.3,-1.4 Z" fill="#7878ea"/>
<path d="M-1.3,-0.25 C-1.25,-0.25 -1.13,-0.24 -1,-0.25 C-0.87,-0.26 -0.62,-0.33 -0.5,-0.3 C-0.38,-0.27 -0.35,-0.13 -0.25,-0.1 C-0.15,-0.07 0.01,-0.05 0.1,-0.1 C0.19,-0.15 0.22,-0.34 0.3,-0.4 C0.38,-0.46 0.48,-0.45 0.6,-0.45 C0.72,-0.45 0.88,-0.41 1,-0.4 C1.12,-0.39 1.25,-0.4 1.3,-0.4 L1.3,-1.4 L-1.3,-1.4 Z" fill="#3030e0"/>
<path d="M-1.3,-0.05 C-1.25,-0.05 -1.13,-0.07 -1,-0.05 C-0.87,-0.03 -0.67,0.02 -0.5,0.05 C-0.33,0.08 -0.17,0.12 0,0.12 C0.17,0.11 0.33,0.07 0.5,0.02 C0.67,-0.03 0.87,-0.12 1,-0.15 C1.13,-0.18 1.25,-0.15 1.3,-0.15 L1.3,1.4 L-1.3,1.4 Z" fill="#ffffff"/>
<path d="M-1.3,0.2 C-1.25,0.2 -1.13,0.19 -1,0.2 C-0.87,0.21 -0.67,0.25 -0.5,0.27 C-0.33,0.29 -0.17,0.32 0,0.32 C0.17,0.32 0.33,0.28 0.5,0.25 C0.67,0.22 0.87,0.14 1,0.12 C1.13,0.1 1.25,0.12 1.3,0.12 L1.3,1.4 L-1.3,1.4 Z" fill="#fcc8c8"/>
<path d="M-1.3,0.26 C-1.25,0.26 -1.13,0.25 -1,0.26 C-0.87,0.27 -0.67,0.31 -0.5,0.33 C-0.33,0.35 -0.17,0.38 0,0.38 C0.17,0.38 0.33,0.34 0.5,0.31 C0.67,0.28 0.87,0.2 1,0.18 C1.13,0.16 1.25,0.18 1.3,0.18 L1.3,1.4 L-1.3,1.4 Z" fill="#f69090"/>
<path d="M-1.3,0.32 C-1.25,0.32 -1.13,0.31 -1,0.32 C-0.87,0.33 -0.67,0.37 -0.5,0.39 C-0.33,0.41 -0.17,0.44 0,0.44 C0.17,0.44 0.33,0.4 0.5,0.37 C0.67,0.34 0.87,0.26 1,0.24 C1.13,0.22 1.25,0.24 1.3,0.24 L1.3,1.4 L-1.3,1.4 Z" fill="#f05050"/>
<path d="M-1.3,0.38 C-1.25,0.38 -1.13,0.37 -1,0.38 C-0.87,0.39 -0.67,0.43 -0.5,0.45 C-0.33,0.47 -0.17,0.5 0,0.5 C0.17,0.5 0.33,0.46 0.5,0.43 C0.67,0.4 0.87,0.32 1,0.3 C1.13,0.28 1.25,0.3 1.3,0.3 L1.3,1.4 L-1.3,1.4 Z" fill="#e81818"/>
<path d="M-1.3,0.44 C-1.25,0.44 -1.13,0.43 -1,0.44 C-0.87,0.45 -0.67,0.49 -0.5,0.51 C-0.33,0.53 -0.17,0.56 0,0.56 C0.17,0.56 0.33,0.52 0.5,0.49 C0.67,0.46 0.87,0.38 1,0.36 C1.13,0.34 1.25,0.36 1.3,0.36 L1.3,1.4 L-1.3,1.4 Z" fill="#e00808"/>
<ellipse cx="-0.42" cy="0.68" rx="0.3" ry="0.13" fill="#cc0000" transform="rotate(15 -0.42 0.68)"/>
<ellipse cx="-0.42" cy="0.68" rx="0.15" ry="0.07" fill="#b40000" transform="rotate(15 -0.42 0.68)"/>
<ellipse cx="0.45" cy="0.68" rx="0.3" ry="0.13" fill="#c80000" transform="rotate(-15 0.45 0.68)"/>
<ellipse cx="0.45" cy="0.68" rx="0.15" ry="0.07" fill="#a80000" transform="rotate(-15 0.45 0.68)"/>
</g></g></g>
<circle cx="303" cy="1193.8" r="30.7" fill="none" stroke="#222" stroke-width="0.7"/>
<circle cx="296" cy="1171.27" r="0.75" fill="#333" opacity="0.6"/>
<circle cx="303" cy="1171.27" r="0.75" fill="#333" opacity="0.6"/>
<circle cx="310" cy="1171.27" r="0.75" fill="#333" opacity="0.6"/>
<circle cx="289.28" cy="1175.76" r="0.75" fill="#333" opacity="0.6"/>
<circle cx="296" cy="1175.76" r="0.75" fill="#333" opacity="0.6"/>
<circle cx="303" cy="1175.76" r="0.75" fill="#333" opacity="0.6"/>
<circle cx="310" cy="1175.76" r="0.75" fill="#333" opacity="0.6"/>
<circle cx="316.72" cy="1175.76" r="0.75" fill="#333" opacity="0.6"/>
<circle cx="284.27" cy="1180.29" r="0.75" fill="#333" opacity="0.6"/>
<circle cx="288.8" cy="1181.21" r="0.75" fill="#333" opacity="0.6"/>
<circle cx="293.41" cy="1181.21" r="0.75" fill="#333" opacity="0.6"/>
<circle cx="298.21" cy="1181.21" r="0.75" fill="#333" opacity="0.6"/>
<circle cx="303" cy="1181.21" r="0.75" fill="#333" opacity="0.6"/>
<circle cx="307.79" cy="1181.21" r="0.75" fill="#333" opacity="0.6"/>
<circle cx="312.59" cy="1181.21" r="0.75" fill="#333" opacity="0.6"/>
<circle cx="317.2" cy="1181.21" r="0.75" fill="#333" opacity="0.6"/>
<circle cx="321.73" cy="1180.29" r="0.75" fill="#333" opacity="0.6"/>
<circle cx="280.9" cy="1187.28" r="0.75" fill="#333" opacity="0.6"/>
<circle cx="286.42" cy="1187.28" r="0.75" fill="#333" opacity="0.6"/>
<circle cx="291.95" cy="1187.28" r="0.75" fill="#333" opacity="0.6"/>
<circle cx="297.47" cy="1187.28" r="0.75" fill="#333" opacity="0.6"/>
<circle cx="303" cy="1187.28" r="0.75" fill="#333" opacity="0.6"/>
<circle cx="308.53" cy="1187.28" r="0.75" fill="#333" opacity="0.6"/>
<circle cx="314.05" cy="1187.28" r="0.75" fill="#333" opacity="0.6"/>
<circle cx="319.58" cy="1187.28" r="0.75" fill="#333" opacity="0.6"/>
<circle cx="325.1" cy="1187.28" r="0.75" fill="#333" opacity="0.6"/>
<circle cx="279.98" cy="1193.8" r="0.75" fill="#333" opacity="0.6"/>
<circle cx="285.73" cy="1193.8" r="0.75" fill="#333" opacity="0.6"/>
<circle cx="291.49" cy="1193.8" r="0.75" fill="#333" opacity="0.6"/>
<circle cx="297.24" cy="1193.8" r="0.75" fill="#333" opacity="0.6"/>
<circle cx="303" cy="1193.8" r="0.75" fill="#333" opacity="0.6"/>
<circle cx="308.76" cy="1193.8" r="0.75" fill="#333" opacity="0.6"/>
<circle cx="314.51" cy="1193.8" r="0.75" fill="#333" opacity="0.6"/>
<circle cx="320.27" cy="1193.8" r="0.75" fill="#333" opacity="0.6"/>
<circle cx="326.02" cy="1193.8" r="0.75" fill="#333" opacity="0.6"/>
<circle cx="280.9" cy="1200.03" r="0.75" fill="#333" opacity="0.6"/>
<circle cx="286.42" cy="1200.03" r="0.75" fill="#333" opacity="0.6"/>
<circle cx="291.95" cy="1200.03" r="0.75" fill="#333" opacity="0.6"/>
<circle cx="297.47" cy="1200.03" r="0.75" fill="#333" opacity="0.6"/>
<circle cx="303" cy="1200.03" r="0.75" fill="#333" opacity="0.6"/>
<circle cx="308.53" cy="1200.03" r="0.75" fill="#333" opacity="0.6"/>
<circle cx="314.05" cy="1200.03" r="0.75" fill="#333" opacity="0.6"/>
<circle cx="319.58" cy="1200.03" r="0.75" fill="#333" opacity="0.6"/>
<circle cx="325.1" cy="1200.03" r="0.75" fill="#333" opacity="0.6"/>
<circle cx="288.8" cy="1205.59" r="0.75" fill="#333" opacity="0.6"/>
<circle cx="293.41" cy="1205.59" r="0.75" fill="#333" opacity="0.6"/>
<circle cx="298.21" cy="1205.59" r="0.75" fill="#333" opacity="0.6"/>
<circle cx="303" cy="1205.59" r="0.75" fill="#333" opacity="0.6"/>
<circle cx="307.79" cy="1205.59" r="0.75" fill="#333" opacity="0.6"/>
<circle cx="312.59" cy="1205.59" r="0.75" fill="#333" opacity="0.6"/>
<circle cx="317.2" cy="1205.59" r="0.75" fill="#333" opacity="0.6"/>
<circle cx="284.27" cy="1207.62" r="0.75" fill="#333" opacity="0.6"/>
<circle cx="321.73" cy="1207.31" r="0.75" fill="#333" opacity="0.6"/>
<circle cx="279.98" cy="1211.07" r="0.75" fill="#333" opacity="0.6"/>
<circle cx="289.19" cy="1211.91" r="0.75" fill="#333" opacity="0.6"/>
<circle cx="296" cy="1211.07" r="0.75" fill="#333" opacity="0.6"/>
<circle cx="303" cy="1211.07" r="0.75" fill="#333" opacity="0.6"/>
<circle cx="310" cy="1211.07" r="0.75" fill="#333" opacity="0.6"/>
<circle cx="316.51" cy="1211.91" r="0.75" fill="#333" opacity="0.6"/>
<circle cx="326.02" cy="1211.07" r="0.75" fill="#333" opacity="0.6"/>
<circle cx="296" cy="1215.9" r="0.75" fill="#333" opacity="0.6"/>
<circle cx="303" cy="1216.67" r="0.75" fill="#333" opacity="0.6"/>
<circle cx="310" cy="1215.9" r="0.75" fill="#333" opacity="0.6"/>
<circle cx="303" cy="1222.04" r="0.75" fill="#333" opacity="0.6"/>
<path d="M365.8,1163.7 C365.8,1156.85 371,1156.85 371,1163.7" fill="#fff" stroke="#666" stroke-width="0.8"/>
<clipPath id="c13"><circle cx="368.4" cy="1193.8" r="30.7"/></clipPath>
<circle cx="368.4" cy="1193.8" r="30.7" fill="#fff"/>
<g clip-path="url(#c13)"><g filter="url(#blur0_4)"><g transform="translate(368.4,1193.8) scale(30.7)">
<ellipse cx="0" cy="0" rx="1.1" ry="1.1" fill="#c8c8f8"/>
<path d="M-1.3,-0.2 C-1.25,-0.2 -1.17,-0.2 -1,-0.2 C-0.83,-0.2 -0.52,-0.19 -0.3,-0.2 C-0.08,-0.21 0.08,-0.22 0.3,-0.25 C0.52,-0.28 0.83,-0.38 1,-0.4 C1.17,-0.43 1.25,-0.4 1.3,-0.4 L1.3,-1.4 L-1.3,-1.4 Z" fill="#9c9cf0"/>
<path d="M-1.3,-0.4 C-1.25,-0.4 -1.17,-0.39 -1,-0.4 C-0.83,-0.41 -0.47,-0.45 -0.3,-0.45 C-0.13,-0.45 -0.1,-0.39 0,-0.4 C0.1,-0.41 0.13,-0.47 0.3,-0.5 C0.47,-0.53 0.83,-0.58 1,-0.6 C1.17,-0.62 1.25,-0.6 1.3,-0.6 L1.3,-1.4 L-1.3,-1.4 Z" fill="#6868e6"/>
<path d="M-1.3,-0.6 C-1.25,-0.6 -1.17,-0.59 -1,-0.6 C-0.83,-0.61 -0.47,-0.68 -0.3,-0.68 C-0.13,-0.68 -0.1,-0.59 0,-0.6 C0.1,-0.61 0.13,-0.68 0.3,-0.72 C0.47,-0.76 0.83,-0.83 1,-0.85 C1.17,-0.87 1.25,-0.85 1.3,-0.85 L1.3,-1.4 L-1.3,-1.4 Z" fill="#3434e0"/>
<ellipse cx="0.05" cy="-0.28" rx="0.06" ry="0.05" fill="#2020d8"/>
<path d="M-1.3,-0.02 C-1.25,-0.02 -1.13,-0.03 -1,-0.02 C-0.87,-0.01 -0.67,0.03 -0.5,0.05 C-0.33,0.07 -0.17,0.09 0,0.08 C0.17,0.07 0.33,0.05 0.5,0 C0.67,-0.05 0.87,-0.17 1,-0.2 C1.13,-0.23 1.25,-0.2 1.3,-0.2 L1.3,1.4 L-1.3,1.4 Z" fill="#ffffff"/>
<path d="M-1.3,0.2 C-1.25,0.2 -1.13,0.19 -1,0.2 C-0.87,0.21 -0.67,0.24 -0.5,0.25 C-0.33,0.26 -0.17,0.29 0,0.28 C0.17,0.28 0.33,0.26 0.5,0.22 C0.67,0.18 0.87,0.08 1,0.05 C1.13,0.02 1.25,0.05 1.3,0.05 L1.3,1.4 L-1.3,1.4 Z" fill="#fcc8c8"/>
<path d="M-1.3,0.27 C-1.25,0.27 -1.13,0.26 -1,0.27 C-0.87,0.27 -0.67,0.3 -0.5,0.32 C-0.33,0.33 -0.17,0.35 0,0.35 C0.17,0.34 0.33,0.32 0.5,0.29 C0.67,0.25 0.87,0.14 1,0.12 C1.13,0.09 1.25,0.12 1.3,0.12 L1.3,1.4 L-1.3,1.4 Z" fill="#f69090"/>
<path d="M-1.3,0.33 C-1.25,0.33 -1.13,0.32 -1,0.33 C-0.87,0.34 -0.67,0.37 -0.5,0.38 C-0.33,0.39 -0.17,0.42 0,0.41 C0.17,0.41 0.33,0.39 0.5,0.35 C0.67,0.31 0.87,0.21 1,0.18 C1.13,0.15 1.25,0.18 1.3,0.18 L1.3,1.4 L-1.3,1.4 Z" fill="#f26060"/>
<path d="M-1.3,0.4 C-1.25,0.4 -1.13,0.39 -1,0.4 C-0.87,0.4 -0.67,0.43 -0.5,0.45 C-0.33,0.46 -0.17,0.48 0,0.48 C0.17,0.47 0.33,0.45 0.5,0.42 C0.67,0.38 0.87,0.27 1,0.24 C1.13,0.22 1.25,0.24 1.3,0.24 L1.3,1.4 L-1.3,1.4 Z" fill="#ee3030"/>
<path d="M-1.3,0.46 C-1.25,0.46 -1.13,0.45 -1,0.46 C-0.87,0.47 -0.67,0.5 -0.5,0.51 C-0.33,0.52 -0.17,0.55 0,0.54 C0.17,0.54 0.33,0.52 0.5,0.48 C0.67,0.44 0.87,0.34 1,0.31 C1.13,0.28 1.25,0.31 1.3,0.31 L1.3,1.4 L-1.3,1.4 Z" fill="#ea1818"/>
<ellipse cx="-0.4" cy="0.66" rx="0.3" ry="0.12" fill="#dc0000" transform="rotate(15 -0.4 0.66)"/>
<ellipse cx="-0.4" cy="0.66" rx="0.15" ry="0.06" fill="#c80000" transform="rotate(15 -0.4 0.66)"/>
<ellipse cx="0.45" cy="0.66" rx="0.3" ry="0.12" fill="#dc0000" transform="rotate(-15 0.45 0.66)"/>
<ellipse cx="0.45" cy="0.66" rx="0.15" ry="0.06" fill="#c80000" transform="rotate(-15 0.45 0.66)"/>
</g></g></g>
<circle cx="368.4" cy="1193.8" r="30.7" fill="none" stroke="#222" stroke-width="0.7"/>
<circle cx="361.4" cy="1171.27" r="0.75" fill="#333" opacity="0.6"/>
<circle cx="368.4" cy="1171.27" r="0.75" fill="#333" opacity="0.6"/>
<circle cx="375.4" cy="1171.27" r="0.75" fill="#333" opacity="0.6"/>
<circle cx="354.68" cy="1175.76" r="0.75" fill="#333" opacity="0.6"/>
<circle cx="361.4" cy="1175.76" r="0.75" fill="#333" opacity="0.6"/>
<circle cx="368.4" cy="1175.76" r="0.75" fill="#333" opacity="0.6"/>
<circle cx="375.4" cy="1175.76" r="0.75" fill="#333" opacity="0.6"/>
<circle cx="382.12" cy="1175.76" r="0.75" fill="#333" opacity="0.6"/>
<circle cx="349.67" cy="1180.29" r="0.75" fill="#333" opacity="0.6"/>
<circle cx="354.2" cy="1181.21" r="0.75" fill="#333" opacity="0.6"/>
<circle cx="358.81" cy="1181.21" r="0.75" fill="#333" opacity="0.6"/>
<circle cx="363.61" cy="1181.21" r="0.75" fill="#333" opacity="0.6"/>
<circle cx="368.4" cy="1181.21" r="0.75" fill="#333" opacity="0.6"/>
<circle cx="373.19" cy="1181.21" r="0.75" fill="#333" opacity="0.6"/>
<circle cx="377.99" cy="1181.21" r="0.75" fill="#333" opacity="0.6"/>
<circle cx="382.6" cy="1181.21" r="0.75" fill="#333" opacity="0.6"/>
<circle cx="387.13" cy="1180.29" r="0.75" fill="#333" opacity="0.6"/>
<circle cx="346.3" cy="1187.28" r="0.75" fill="#333" opacity="0.6"/>
<circle cx="351.82" cy="1187.28" r="0.75" fill="#333" opacity="0.6"/>
<circle cx="357.35" cy="1187.28" r="0.75" fill="#333" opacity="0.6"/>
<circle cx="362.87" cy="1187.28" r="0.75" fill="#333" opacity="0.6"/>
<circle cx="368.4" cy="1187.28" r="0.75" fill="#333" opacity="0.6"/>
<circle cx="373.93" cy="1187.28" r="0.75" fill="#333" opacity="0.6"/>
<circle cx="379.45" cy="1187.28" r="0.75" fill="#333" opacity="0.6"/>
<circle cx="384.98" cy="1187.28" r="0.75" fill="#333" opacity="0.6"/>
<circle cx="390.5" cy="1187.28" r="0.75" fill="#333" opacity="0.6"/>
<circle cx="345.38" cy="1193.8" r="0.75" fill="#333" opacity="0.6"/>
<circle cx="351.13" cy="1193.8" r="0.75" fill="#333" opacity="0.6"/>
<circle cx="356.89" cy="1193.8" r="0.75" fill="#333" opacity="0.6"/>
<circle cx="362.64" cy="1193.8" r="0.75" fill="#333" opacity="0.6"/>
<circle cx="368.4" cy="1193.8" r="0.75" fill="#333" opacity="0.6"/>
<circle cx="374.16" cy="1193.8" r="0.75" fill="#333" opacity="0.6"/>
<circle cx="379.91" cy="1193.8" r="0.75" fill="#333" opacity="0.6"/>
<circle cx="385.67" cy="1193.8" r="0.75" fill="#333" opacity="0.6"/>
<circle cx="391.42" cy="1193.8" r="0.75" fill="#333" opacity="0.6"/>
<circle cx="346.3" cy="1200.03" r="0.75" fill="#333" opacity="0.6"/>
<circle cx="351.82" cy="1200.03" r="0.75" fill="#333" opacity="0.6"/>
<circle cx="357.35" cy="1200.03" r="0.75" fill="#333" opacity="0.6"/>
<circle cx="362.87" cy="1200.03" r="0.75" fill="#333" opacity="0.6"/>
<circle cx="368.4" cy="1200.03" r="0.75" fill="#333" opacity="0.6"/>
<circle cx="373.93" cy="1200.03" r="0.75" fill="#333" opacity="0.6"/>
<circle cx="379.45" cy="1200.03" r="0.75" fill="#333" opacity="0.6"/>
<circle cx="384.98" cy="1200.03" r="0.75" fill="#333" opacity="0.6"/>
<circle cx="390.5" cy="1200.03" r="0.75" fill="#333" opacity="0.6"/>
<circle cx="354.2" cy="1205.59" r="0.75" fill="#333" opacity="0.6"/>
<circle cx="358.81" cy="1205.59" r="0.75" fill="#333" opacity="0.6"/>
<circle cx="363.61" cy="1205.59" r="0.75" fill="#333" opacity="0.6"/>
<circle cx="368.4" cy="1205.59" r="0.75" fill="#333" opacity="0.6"/>
<circle cx="373.19" cy="1205.59" r="0.75" fill="#333" opacity="0.6"/>
<circle cx="377.99" cy="1205.59" r="0.75" fill="#333" opacity="0.6"/>
<circle cx="382.6" cy="1205.59" r="0.75" fill="#333" opacity="0.6"/>
<circle cx="349.67" cy="1207.62" r="0.75" fill="#333" opacity="0.6"/>
<circle cx="387.13" cy="1207.31" r="0.75" fill="#333" opacity="0.6"/>
<circle cx="345.38" cy="1211.07" r="0.75" fill="#333" opacity="0.6"/>
<circle cx="354.58" cy="1211.91" r="0.75" fill="#333" opacity="0.6"/>
<circle cx="361.4" cy="1211.07" r="0.75" fill="#333" opacity="0.6"/>
<circle cx="368.4" cy="1211.07" r="0.75" fill="#333" opacity="0.6"/>
<circle cx="375.4" cy="1211.07" r="0.75" fill="#333" opacity="0.6"/>
<circle cx="381.91" cy="1211.91" r="0.75" fill="#333" opacity="0.6"/>
<circle cx="391.42" cy="1211.07" r="0.75" fill="#333" opacity="0.6"/>
<circle cx="361.4" cy="1215.9" r="0.75" fill="#333" opacity="0.6"/>
<circle cx="368.4" cy="1216.67" r="0.75" fill="#333" opacity="0.6"/>
<circle cx="375.4" cy="1215.9" r="0.75" fill="#333" opacity="0.6"/>
<circle cx="368.4" cy="1222.04" r="0.75" fill="#333" opacity="0.6"/>
<text x="451" y="1160" font-size="17.6" text-anchor="start" font-weight="normal" fill="#111">neg</text>
<text x="553.4" y="1160" font-size="17.6" text-anchor="start" font-weight="normal" fill="#111">pos</text>
<path d="M481.4,1164.5 C481.4,1157.65 486.6,1157.65 486.6,1164.5" fill="#fff" stroke="#666" stroke-width="0.8"/>
<clipPath id="c14"><circle cx="484" cy="1194.6" r="30.7"/></clipPath>
<circle cx="484" cy="1194.6" r="30.7" fill="#fff"/>
<g clip-path="url(#c14)"><g filter="url(#blur0_4)"><g transform="translate(484,1194.6) scale(30.7)">
<ellipse cx="0" cy="0" rx="1.1" ry="1.1" fill="#d4d4fa"/>
<path d="M-1.3,-0.2 C-1.25,-0.2 -1.22,-0.2 -1,-0.2 C-0.78,-0.2 -0.33,-0.18 0,-0.18 C0.33,-0.18 0.78,-0.2 1,-0.2 C1.22,-0.2 1.25,-0.2 1.3,-0.2 L1.3,-1.4 L-1.3,-1.4 Z" fill="#a8a8f2"/>
<path d="M-1.3,-0.38 C-1.25,-0.38 -1.22,-0.39 -1,-0.38 C-0.78,-0.37 -0.33,-0.33 0,-0.33 C0.33,-0.33 0.78,-0.37 1,-0.38 C1.22,-0.39 1.25,-0.38 1.3,-0.38 L1.3,-1.4 L-1.3,-1.4 Z" fill="#7474ea"/>
<path d="M-1.3,-0.55 C-1.25,-0.55 -1.17,-0.56 -1,-0.55 C-0.83,-0.54 -0.47,-0.52 -0.3,-0.5 C-0.13,-0.48 -0.1,-0.42 0,-0.42 C0.1,-0.42 0.13,-0.48 0.3,-0.5 C0.47,-0.52 0.83,-0.54 1,-0.55 C1.17,-0.56 1.25,-0.55 1.3,-0.55 L1.3,-1.4 L-1.3,-1.4 Z" fill="#3c3ce0"/>
<path d="M-1.3,-0.8 C-1.25,-0.8 -1.22,-0.81 -1,-0.8 C-0.78,-0.79 -0.33,-0.72 0,-0.72 C0.33,-0.72 0.78,-0.79 1,-0.8 C1.22,-0.81 1.25,-0.8 1.3,-0.8 L1.3,-1.4 L-1.3,-1.4 Z" fill="#1c1cd4"/>
<path d="M-1.3,-0.05 C-1.25,-0.05 -1.13,-0.06 -1,-0.05 C-0.87,-0.05 -0.67,-0.03 -0.5,-0.02 C-0.33,-0.01 -0.17,0.02 0,0.02 C0.17,0.02 0.33,-0.01 0.5,-0.02 C0.67,-0.03 0.87,-0.05 1,-0.05 C1.13,-0.06 1.25,-0.05 1.3,-0.05 L1.3,1.4 L-1.3,1.4 Z" fill="#ffffff"/>
<path d="M-1.3,0.22 C-1.25,0.22 -1.13,0.22 -1,0.22 C-0.87,0.22 -0.67,0.22 -0.5,0.22 C-0.33,0.22 -0.17,0.22 0,0.22 C0.17,0.22 0.33,0.22 0.5,0.22 C0.67,0.22 0.87,0.22 1,0.22 C1.13,0.22 1.25,0.22 1.3,0.22 L1.3,1.4 L-1.3,1.4 Z" fill="#fcd0d0"/>
<path d="M-1.3,0.31 C-1.25,0.31 -1.13,0.31 -1,0.31 C-0.87,0.31 -0.67,0.31 -0.5,0.31 C-0.33,0.31 -0.17,0.31 0,0.31 C0.17,0.31 0.33,0.31 0.5,0.31 C0.67,0.31 0.87,0.31 1,0.31 C1.13,0.31 1.25,0.31 1.3,0.31 L1.3,1.4 L-1.3,1.4 Z" fill="#f8a8a8"/>
<path d="M-1.3,0.4 C-1.25,0.4 -1.13,0.4 -1,0.4 C-0.87,0.4 -0.67,0.4 -0.5,0.4 C-0.33,0.4 -0.17,0.4 0,0.4 C0.17,0.4 0.33,0.4 0.5,0.4 C0.67,0.4 0.87,0.4 1,0.4 C1.13,0.4 1.25,0.4 1.3,0.4 L1.3,1.4 L-1.3,1.4 Z" fill="#f38080"/>
<ellipse cx="0" cy="0.62" rx="0.6" ry="0.22" fill="#ee6c6c"/>
</g></g></g>
<circle cx="484" cy="1194.6" r="30.7" fill="none" stroke="#222" stroke-width="0.7"/>
<circle cx="477" cy="1172.07" r="0.75" fill="#333" opacity="0.6"/>
<circle cx="484" cy="1172.07" r="0.75" fill="#333" opacity="0.6"/>
<circle cx="491" cy="1172.07" r="0.75" fill="#333" opacity="0.6"/>
<circle cx="470.28" cy="1176.56" r="0.75" fill="#333" opacity="0.6"/>
<circle cx="477" cy="1176.56" r="0.75" fill="#333" opacity="0.6"/>
<circle cx="484" cy="1176.56" r="0.75" fill="#333" opacity="0.6"/>
<circle cx="491" cy="1176.56" r="0.75" fill="#333" opacity="0.6"/>
<circle cx="497.72" cy="1176.56" r="0.75" fill="#333" opacity="0.6"/>
<circle cx="465.27" cy="1181.09" r="0.75" fill="#333" opacity="0.6"/>
<circle cx="469.8" cy="1182.01" r="0.75" fill="#333" opacity="0.6"/>
<circle cx="474.41" cy="1182.01" r="0.75" fill="#333" opacity="0.6"/>
<circle cx="479.21" cy="1182.01" r="0.75" fill="#333" opacity="0.6"/>
<circle cx="484" cy="1182.01" r="0.75" fill="#333" opacity="0.6"/>
<circle cx="488.79" cy="1182.01" r="0.75" fill="#333" opacity="0.6"/>
<circle cx="493.59" cy="1182.01" r="0.75" fill="#333" opacity="0.6"/>
<circle cx="498.2" cy="1182.01" r="0.75" fill="#333" opacity="0.6"/>
<circle cx="502.73" cy="1181.09" r="0.75" fill="#333" opacity="0.6"/>
<circle cx="461.9" cy="1188.08" r="0.75" fill="#333" opacity="0.6"/>
<circle cx="467.42" cy="1188.08" r="0.75" fill="#333" opacity="0.6"/>
<circle cx="472.95" cy="1188.08" r="0.75" fill="#333" opacity="0.6"/>
<circle cx="478.47" cy="1188.08" r="0.75" fill="#333" opacity="0.6"/>
<circle cx="484" cy="1188.08" r="0.75" fill="#333" opacity="0.6"/>
<circle cx="489.53" cy="1188.08" r="0.75" fill="#333" opacity="0.6"/>
<circle cx="495.05" cy="1188.08" r="0.75" fill="#333" opacity="0.6"/>
<circle cx="500.58" cy="1188.08" r="0.75" fill="#333" opacity="0.6"/>
<circle cx="506.1" cy="1188.08" r="0.75" fill="#333" opacity="0.6"/>
<circle cx="460.98" cy="1194.6" r="0.75" fill="#333" opacity="0.6"/>
<circle cx="466.73" cy="1194.6" r="0.75" fill="#333" opacity="0.6"/>
<circle cx="472.49" cy="1194.6" r="0.75" fill="#333" opacity="0.6"/>
<circle cx="478.24" cy="1194.6" r="0.75" fill="#333" opacity="0.6"/>
<circle cx="484" cy="1194.6" r="0.75" fill="#333" opacity="0.6"/>
<circle cx="489.76" cy="1194.6" r="0.75" fill="#333" opacity="0.6"/>
<circle cx="495.51" cy="1194.6" r="0.75" fill="#333" opacity="0.6"/>
<circle cx="501.27" cy="1194.6" r="0.75" fill="#333" opacity="0.6"/>
<circle cx="507.02" cy="1194.6" r="0.75" fill="#333" opacity="0.6"/>
<circle cx="461.9" cy="1200.83" r="0.75" fill="#333" opacity="0.6"/>
<circle cx="467.42" cy="1200.83" r="0.75" fill="#333" opacity="0.6"/>
<circle cx="472.95" cy="1200.83" r="0.75" fill="#333" opacity="0.6"/>
<circle cx="478.47" cy="1200.83" r="0.75" fill="#333" opacity="0.6"/>
<circle cx="484" cy="1200.83" r="0.75" fill="#333" opacity="0.6"/>
<circle cx="489.53" cy="1200.83" r="0.75" fill="#333" opacity="0.6"/>
<circle cx="495.05" cy="1200.83" r="0.75" fill="#333" opacity="0.6"/>
<circle cx="500.58" cy="1200.83" r="0.75" fill="#333" opacity="0.6"/>
<circle cx="506.1" cy="1200.83" r="0.75" fill="#333" opacity="0.6"/>
<circle cx="469.8" cy="1206.39" r="0.75" fill="#333" opacity="0.6"/>
<circle cx="474.41" cy="1206.39" r="0.75" fill="#333" opacity="0.6"/>
<circle cx="479.21" cy="1206.39" r="0.75" fill="#333" opacity="0.6"/>
<circle cx="484" cy="1206.39" r="0.75" fill="#333" opacity="0.6"/>
<circle cx="488.79" cy="1206.39" r="0.75" fill="#333" opacity="0.6"/>
<circle cx="493.59" cy="1206.39" r="0.75" fill="#333" opacity="0.6"/>
<circle cx="498.2" cy="1206.39" r="0.75" fill="#333" opacity="0.6"/>
<circle cx="465.27" cy="1208.41" r="0.75" fill="#333" opacity="0.6"/>
<circle cx="502.73" cy="1208.11" r="0.75" fill="#333" opacity="0.6"/>
<circle cx="460.98" cy="1211.87" r="0.75" fill="#333" opacity="0.6"/>
<circle cx="470.19" cy="1212.71" r="0.75" fill="#333" opacity="0.6"/>
<circle cx="477" cy="1211.87" r="0.75" fill="#333" opacity="0.6"/>
<circle cx="484" cy="1211.87" r="0.75" fill="#333" opacity="0.6"/>
<circle cx="491" cy="1211.87" r="0.75" fill="#333" opacity="0.6"/>
<circle cx="497.51" cy="1212.71" r="0.75" fill="#333" opacity="0.6"/>
<circle cx="507.02" cy="1211.87" r="0.75" fill="#333" opacity="0.6"/>
<circle cx="477" cy="1216.7" r="0.75" fill="#333" opacity="0.6"/>
<circle cx="484" cy="1217.47" r="0.75" fill="#333" opacity="0.6"/>
<circle cx="491" cy="1216.7" r="0.75" fill="#333" opacity="0.6"/>
<circle cx="484" cy="1222.84" r="0.75" fill="#333" opacity="0.6"/>
<path d="M545.1,1164.5 C545.1,1157.65 550.3,1157.65 550.3,1164.5" fill="#fff" stroke="#666" stroke-width="0.8"/>
<clipPath id="c15"><circle cx="547.7" cy="1194.6" r="30.7"/></clipPath>
<circle cx="547.7" cy="1194.6" r="30.7" fill="#fff"/>
<g clip-path="url(#c15)"><g filter="url(#blur0_4)"><g transform="translate(547.7,1194.6) scale(30.7)">
<ellipse cx="0" cy="0" rx="1.1" ry="1.1" fill="#d8d8fb"/>
<path d="M-1.3,-0.3 C-1.25,-0.3 -1.22,-0.3 -1,-0.3 C-0.78,-0.3 -0.33,-0.28 0,-0.3 C0.33,-0.32 0.78,-0.4 1,-0.42 C1.22,-0.44 1.25,-0.42 1.3,-0.42 L1.3,-1.4 L-1.3,-1.4 Z" fill="#a8a8f2"/>
<path d="M-1.3,-0.5 C-1.25,-0.5 -1.18,-0.5 -1,-0.5 C-0.82,-0.5 -0.42,-0.48 -0.2,-0.48 C0.02,-0.48 0.1,-0.48 0.3,-0.5 C0.5,-0.52 0.83,-0.58 1,-0.6 C1.17,-0.62 1.25,-0.6 1.3,-0.6 L1.3,-1.4 L-1.3,-1.4 Z" fill="#6c6ce8"/>
<path d="M-1.3,-0.9 C-1.25,-0.9 -1.17,-0.93 -1,-0.9 C-0.83,-0.87 -0.5,-0.74 -0.3,-0.7 C-0.1,-0.66 -0.02,-0.65 0.2,-0.65 C0.42,-0.65 0.82,-0.71 1,-0.72 C1.18,-0.73 1.25,-0.72 1.3,-0.72 L1.3,-1.4 L-1.3,-1.4 Z" fill="#3030e0"/>
<ellipse cx="0.35" cy="-0.95" rx="0.45" ry="0.14" fill="#1010c4" transform="rotate(10 0.35 -0.95)"/>
<path d="M-1.3,-0.2 C-1.25,-0.2 -1.13,-0.21 -1,-0.2 C-0.87,-0.19 -0.67,-0.14 -0.5,-0.12 C-0.33,-0.1 -0.17,-0.09 0,-0.1 C0.17,-0.11 0.33,-0.17 0.5,-0.2 C0.67,-0.23 0.87,-0.28 1,-0.3 C1.13,-0.32 1.25,-0.3 1.3,-0.3 L1.3,1.4 L-1.3,1.4 Z" fill="#ffffff"/>
<path d="M-1.3,0.1 C-1.25,0.1 -1.12,0.1 -1,0.1 C-0.88,0.1 -0.75,0.12 -0.6,0.12 C-0.45,0.12 -0.27,0.08 -0.1,0.1 C0.07,0.12 0.22,0.22 0.4,0.25 C0.58,0.28 0.85,0.29 1,0.3 C1.15,0.31 1.25,0.3 1.3,0.3 L1.3,1.4 L-1.3,1.4 Z" fill="#fcd4d4"/>
<path d="M-1.3,0.22 C-1.25,0.22 -1.12,0.22 -1,0.22 C-0.88,0.22 -0.75,0.24 -0.6,0.24 C-0.45,0.24 -0.27,0.2 -0.1,0.22 C0.07,0.24 0.22,0.34 0.4,0.37 C0.58,0.4 0.85,0.41 1,0.42 C1.15,0.43 1.25,0.42 1.3,0.42 L1.3,1.4 L-1.3,1.4 Z" fill="#f9b8b8"/>
<ellipse cx="-0.1" cy="0.5" rx="0.5" ry="0.22" fill="#f59090" transform="rotate(5 -0.1 0.5)"/>
<ellipse cx="-0.1" cy="0.5" rx="0.3" ry="0.13" fill="#f07070" transform="rotate(5 -0.1 0.5)"/>
</g></g></g>
<circle cx="547.7" cy="1194.6" r="30.7" fill="none" stroke="#222" stroke-width="0.7"/>
<circle cx="540.7" cy="1172.07" r="0.75" fill="#333" opacity="0.6"/>
<circle cx="547.7" cy="1172.07" r="0.75" fill="#333" opacity="0.6"/>
<circle cx="554.7" cy="1172.07" r="0.75" fill="#333" opacity="0.6"/>
<circle cx="533.98" cy="1176.56" r="0.75" fill="#333" opacity="0.6"/>
<circle cx="540.7" cy="1176.56" r="0.75" fill="#333" opacity="0.6"/>
<circle cx="547.7" cy="1176.56" r="0.75" fill="#333" opacity="0.6"/>
<circle cx="554.7" cy="1176.56" r="0.75" fill="#333" opacity="0.6"/>
<circle cx="561.42" cy="1176.56" r="0.75" fill="#333" opacity="0.6"/>
<circle cx="528.97" cy="1181.09" r="0.75" fill="#333" opacity="0.6"/>
<circle cx="533.5" cy="1182.01" r="0.75" fill="#333" opacity="0.6"/>
<circle cx="538.11" cy="1182.01" r="0.75" fill="#333" opacity="0.6"/>
<circle cx="542.91" cy="1182.01" r="0.75" fill="#333" opacity="0.6"/>
<circle cx="547.7" cy="1182.01" r="0.75" fill="#333" opacity="0.6"/>
<circle cx="552.49" cy="1182.01" r="0.75" fill="#333" opacity="0.6"/>
<circle cx="557.29" cy="1182.01" r="0.75" fill="#333" opacity="0.6"/>
<circle cx="561.9" cy="1182.01" r="0.75" fill="#333" opacity="0.6"/>
<circle cx="566.43" cy="1181.09" r="0.75" fill="#333" opacity="0.6"/>
<circle cx="525.6" cy="1188.08" r="0.75" fill="#333" opacity="0.6"/>
<circle cx="531.12" cy="1188.08" r="0.75" fill="#333" opacity="0.6"/>
<circle cx="536.65" cy="1188.08" r="0.75" fill="#333" opacity="0.6"/>
<circle cx="542.17" cy="1188.08" r="0.75" fill="#333" opacity="0.6"/>
<circle cx="547.7" cy="1188.08" r="0.75" fill="#333" opacity="0.6"/>
<circle cx="553.23" cy="1188.08" r="0.75" fill="#333" opacity="0.6"/>
<circle cx="558.75" cy="1188.08" r="0.75" fill="#333" opacity="0.6"/>
<circle cx="564.28" cy="1188.08" r="0.75" fill="#333" opacity="0.6"/>
<circle cx="569.8" cy="1188.08" r="0.75" fill="#333" opacity="0.6"/>
<circle cx="524.68" cy="1194.6" r="0.75" fill="#333" opacity="0.6"/>
<circle cx="530.43" cy="1194.6" r="0.75" fill="#333" opacity="0.6"/>
<circle cx="536.19" cy="1194.6" r="0.75" fill="#333" opacity="0.6"/>
<circle cx="541.94" cy="1194.6" r="0.75" fill="#333" opacity="0.6"/>
<circle cx="547.7" cy="1194.6" r="0.75" fill="#333" opacity="0.6"/>
<circle cx="553.46" cy="1194.6" r="0.75" fill="#333" opacity="0.6"/>
<circle cx="559.21" cy="1194.6" r="0.75" fill="#333" opacity="0.6"/>
<circle cx="564.97" cy="1194.6" r="0.75" fill="#333" opacity="0.6"/>
<circle cx="570.73" cy="1194.6" r="0.75" fill="#333" opacity="0.6"/>
<circle cx="525.6" cy="1200.83" r="0.75" fill="#333" opacity="0.6"/>
<circle cx="531.12" cy="1200.83" r="0.75" fill="#333" opacity="0.6"/>
<circle cx="536.65" cy="1200.83" r="0.75" fill="#333" opacity="0.6"/>
<circle cx="542.17" cy="1200.83" r="0.75" fill="#333" opacity="0.6"/>
<circle cx="547.7" cy="1200.83" r="0.75" fill="#333" opacity="0.6"/>
<circle cx="553.23" cy="1200.83" r="0.75" fill="#333" opacity="0.6"/>
<circle cx="558.75" cy="1200.83" r="0.75" fill="#333" opacity="0.6"/>
<circle cx="564.28" cy="1200.83" r="0.75" fill="#333" opacity="0.6"/>
<circle cx="569.8" cy="1200.83" r="0.75" fill="#333" opacity="0.6"/>
<circle cx="533.5" cy="1206.39" r="0.75" fill="#333" opacity="0.6"/>
<circle cx="538.11" cy="1206.39" r="0.75" fill="#333" opacity="0.6"/>
<circle cx="542.91" cy="1206.39" r="0.75" fill="#333" opacity="0.6"/>
<circle cx="547.7" cy="1206.39" r="0.75" fill="#333" opacity="0.6"/>
<circle cx="552.49" cy="1206.39" r="0.75" fill="#333" opacity="0.6"/>
<circle cx="557.29" cy="1206.39" r="0.75" fill="#333" opacity="0.6"/>
<circle cx="561.9" cy="1206.39" r="0.75" fill="#333" opacity="0.6"/>
<circle cx="528.97" cy="1208.41" r="0.75" fill="#333" opacity="0.6"/>
<circle cx="566.43" cy="1208.11" r="0.75" fill="#333" opacity="0.6"/>
<circle cx="524.68" cy="1211.87" r="0.75" fill="#333" opacity="0.6"/>
<circle cx="533.88" cy="1212.71" r="0.75" fill="#333" opacity="0.6"/>
<circle cx="540.7" cy="1211.87" r="0.75" fill="#333" opacity="0.6"/>
<circle cx="547.7" cy="1211.87" r="0.75" fill="#333" opacity="0.6"/>
<circle cx="554.7" cy="1211.87" r="0.75" fill="#333" opacity="0.6"/>
<circle cx="561.21" cy="1212.71" r="0.75" fill="#333" opacity="0.6"/>
<circle cx="570.73" cy="1211.87" r="0.75" fill="#333" opacity="0.6"/>
<circle cx="540.7" cy="1216.7" r="0.75" fill="#333" opacity="0.6"/>
<circle cx="547.7" cy="1217.47" r="0.75" fill="#333" opacity="0.6"/>
<circle cx="554.7" cy="1216.7" r="0.75" fill="#333" opacity="0.6"/>
<circle cx="547.7" cy="1222.84" r="0.75" fill="#333" opacity="0.6"/>
<rect x="598.8" y="1096.4" width="10.35" height="4.8" fill="#06063a"/>
<rect x="608.95" y="1096.4" width="10.35" height="4.8" fill="#0000a0"/>
<rect x="619.1" y="1096.4" width="10.35" height="4.8" fill="#0000e0"/>
<rect x="629.25" y="1096.4" width="10.35" height="4.8" fill="#2424f8"/>
<rect x="639.4" y="1096.4" width="10.35" height="4.8" fill="#5656f2"/>
<rect x="649.55" y="1096.4" width="10.35" height="4.8" fill="#8888f4"/>
<rect x="659.7" y="1096.4" width="10.35" height="4.8" fill="#c4c4fa"/>
<rect x="690.15" y="1096.4" width="10.35" height="4.8" fill="#fcc4c4"/>
<rect x="700.3" y="1096.4" width="10.35" height="4.8" fill="#f88484"/>
<rect x="710.45" y="1096.4" width="10.35" height="4.8" fill="#f24444"/>
<rect x="720.6" y="1096.4" width="10.35" height="4.8" fill="#ee0808"/>
<rect x="730.75" y="1096.4" width="10.35" height="4.8" fill="#c40000"/>
<rect x="740.9" y="1096.4" width="10.35" height="4.8" fill="#900000"/>
<rect x="751.05" y="1096.4" width="10.15" height="4.8" fill="#4c0000"/>
<line x1="598.8" y1="1101.2" x2="761.2" y2="1101.2" stroke="#222" stroke-width="0.7"/>
<text x="579.6" y="1115.6" font-size="15.6" text-anchor="start" font-weight="bold" fill="#2a0f26"><tspan>−2</tspan><tspan font-style="italic">µV</tspan></text>
<text x="780.4" y="1115.6" font-size="15.6" text-anchor="end" font-weight="bold" fill="#2a0f26"><tspan>+2</tspan><tspan font-style="italic">µV</tspan></text>
<rect x="596.8" y="1183.5" width="10.37" height="4.7" fill="#06063a"/>
<rect x="606.97" y="1183.5" width="10.37" height="4.7" fill="#0000a0"/>
<rect x="617.14" y="1183.5" width="10.37" height="4.7" fill="#0000e0"/>
<rect x="627.31" y="1183.5" width="10.37" height="4.7" fill="#2424f8"/>
<rect x="637.47" y="1183.5" width="10.37" height="4.7" fill="#5656f2"/>
<rect x="647.64" y="1183.5" width="10.37" height="4.7" fill="#8888f4"/>
<rect x="657.81" y="1183.5" width="10.37" height="4.7" fill="#c4c4fa"/>
<rect x="688.32" y="1183.5" width="10.37" height="4.7" fill="#fcc4c4"/>
<rect x="698.49" y="1183.5" width="10.37" height="4.7" fill="#f88484"/>
<rect x="708.66" y="1183.5" width="10.37" height="4.7" fill="#f24444"/>
<rect x="718.83" y="1183.5" width="10.37" height="4.7" fill="#ee0808"/>
<rect x="728.99" y="1183.5" width="10.37" height="4.7" fill="#c40000"/>
<rect x="739.16" y="1183.5" width="10.37" height="4.7" fill="#900000"/>
<rect x="749.33" y="1183.5" width="10.17" height="4.7" fill="#4c0000"/>
<line x1="596.8" y1="1188.2" x2="759.5" y2="1188.2" stroke="#222" stroke-width="0.7"/>
<text x="578.2" y="1202.2" font-size="15.6" text-anchor="start" font-weight="bold" fill="#2a0f26"><tspan>−15</tspan><tspan font-style="italic">µV</tspan></text>
<text x="780.4" y="1202.2" font-size="15.6" text-anchor="end" font-weight="bold" fill="#2a0f26"><tspan>+15</tspan><tspan font-style="italic">µV</tspan></text>
</g>
</svg>
</body>
</html>
